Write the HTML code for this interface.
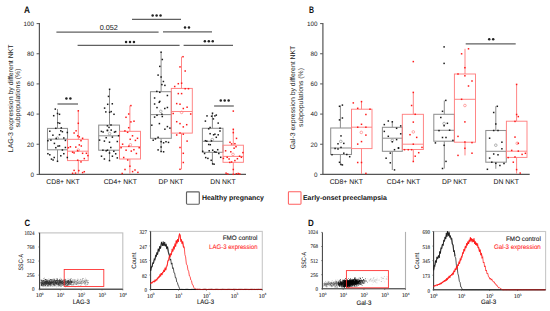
<!DOCTYPE html>
<html><head><meta charset="utf-8"><style>
html,body{margin:0;padding:0;background:#fff;}
svg{display:block;}
</style></head><body>
<svg width="550" height="311" viewBox="0 0 550 311" text-rendering="geometricPrecision">
<rect width="550" height="311" fill="#fff"/>
<text x="24" y="13.45" font-family="Liberation Sans" font-size="9.4" font-weight="bold" fill="#111" text-anchor="start" textLength="6.0" lengthAdjust="spacingAndGlyphs">A</text>
<line x1="39.4" y1="23.0" x2="39.4" y2="174.4" stroke="#555555" stroke-width="1.2"/>
<line x1="39.0" y1="174.4" x2="246" y2="174.4" stroke="#555555" stroke-width="1.3"/>
<line x1="36.6" y1="174.4" x2="39.4" y2="174.4" stroke="#555555" stroke-width="1.0"/>
<text x="34.0" y="176.70000000000002" font-family="Liberation Sans" font-size="6.3" font-weight="normal" fill="#1a1a1a" text-anchor="end" >0</text>
<line x1="36.6" y1="144.24" x2="39.4" y2="144.24" stroke="#555555" stroke-width="1.0"/>
<text x="34.0" y="146.54000000000002" font-family="Liberation Sans" font-size="6.3" font-weight="normal" fill="#1a1a1a" text-anchor="end" >20</text>
<line x1="36.6" y1="114.08000000000001" x2="39.4" y2="114.08000000000001" stroke="#555555" stroke-width="1.0"/>
<text x="34.0" y="116.38000000000001" font-family="Liberation Sans" font-size="6.3" font-weight="normal" fill="#1a1a1a" text-anchor="end" >40</text>
<line x1="36.6" y1="83.92" x2="39.4" y2="83.92" stroke="#555555" stroke-width="1.0"/>
<text x="34.0" y="86.22" font-family="Liberation Sans" font-size="6.3" font-weight="normal" fill="#1a1a1a" text-anchor="end" >60</text>
<line x1="36.6" y1="53.760000000000005" x2="39.4" y2="53.760000000000005" stroke="#555555" stroke-width="1.0"/>
<text x="34.0" y="56.06" font-family="Liberation Sans" font-size="6.3" font-weight="normal" fill="#1a1a1a" text-anchor="end" >80</text>
<line x1="36.6" y1="23.599999999999994" x2="39.4" y2="23.599999999999994" stroke="#555555" stroke-width="1.0"/>
<text x="34.0" y="25.899999999999995" font-family="Liberation Sans" font-size="6.3" font-weight="normal" fill="#1a1a1a" text-anchor="end" >100</text>
<text transform="translate(12.9,98.3) rotate(-90)" font-family="Liberation Sans" font-size="6.96" fill="#1a1a1a" text-anchor="middle">LAG-3 expression by different NKT</text>
<text transform="translate(20.4,98) rotate(-90)" font-family="Liberation Sans" font-size="6.9" fill="#1a1a1a" text-anchor="middle">subpopulations (%)</text>
<text x="63" y="184.3" font-family="Liberation Sans" font-size="6.85" font-weight="normal" fill="#111" text-anchor="middle" >CD8+ NKT</text>
<text x="120.3" y="184.3" font-family="Liberation Sans" font-size="6.85" font-weight="normal" fill="#111" text-anchor="middle" >CD4+ NKT</text>
<text x="171" y="184.3" font-family="Liberation Sans" font-size="6.85" font-weight="normal" fill="#111" text-anchor="middle" >DP NKT</text>
<text x="223" y="184.3" font-family="Liberation Sans" font-size="6.85" font-weight="normal" fill="#111" text-anchor="middle" >DN NKT</text>
<line x1="57.5" y1="109.1" x2="57.5" y2="128.4" stroke="#909090" stroke-width="1.05"/>
<line x1="57.5" y1="149.8" x2="57.5" y2="161.3" stroke="#909090" stroke-width="1.05"/>
<rect x="47.5" y="128.4" width="20.0" height="21.400000000000006" fill="none" stroke="#909090" stroke-width="1.05"/>
<line x1="47.5" y1="139.1" x2="67.5" y2="139.1" stroke="#909090" stroke-width="1.05"/>
<circle cx="57.4" cy="138.2" r="1.3" fill="none" stroke="#909090" stroke-width="0.7"/>
<line x1="78.3" y1="110.8" x2="78.3" y2="139.3" stroke="#ff8080" stroke-width="0.95"/>
<line x1="78.3" y1="160.6" x2="78.3" y2="174.2" stroke="#ff8080" stroke-width="0.95"/>
<rect x="67.5" y="139.3" width="20.700000000000003" height="21.299999999999983" fill="none" stroke="#ff8080" stroke-width="0.95"/>
<line x1="67.5" y1="151.2" x2="88.2" y2="151.2" stroke="#ff8080" stroke-width="0.95"/>
<circle cx="78.3" cy="150.1" r="1.3" fill="none" stroke="#ff8080" stroke-width="0.7"/>
<line x1="109.5" y1="89.3" x2="109.5" y2="125.1" stroke="#909090" stroke-width="1.05"/>
<line x1="109.5" y1="150.2" x2="109.5" y2="160.6" stroke="#909090" stroke-width="1.05"/>
<rect x="98.7" y="125.1" width="20.799999999999997" height="25.099999999999994" fill="none" stroke="#909090" stroke-width="1.05"/>
<line x1="98.7" y1="135.8" x2="119.5" y2="135.8" stroke="#909090" stroke-width="1.05"/>
<circle cx="109.6" cy="133.6" r="1.3" fill="none" stroke="#909090" stroke-width="0.7"/>
<line x1="129.9" y1="105.6" x2="129.9" y2="131.3" stroke="#ff8080" stroke-width="0.95"/>
<line x1="129.9" y1="159.0" x2="129.9" y2="173.8" stroke="#ff8080" stroke-width="0.95"/>
<rect x="119.5" y="131.3" width="21.0" height="27.69999999999999" fill="none" stroke="#ff8080" stroke-width="0.95"/>
<line x1="119.5" y1="146.7" x2="140.5" y2="146.7" stroke="#ff8080" stroke-width="0.95"/>
<circle cx="130.4" cy="144.8" r="1.3" fill="none" stroke="#ff8080" stroke-width="0.7"/>
<line x1="161.1" y1="52.2" x2="161.1" y2="91.7" stroke="#909090" stroke-width="1.05"/>
<line x1="161.1" y1="138.3" x2="161.1" y2="151.8" stroke="#909090" stroke-width="1.05"/>
<rect x="150.5" y="91.7" width="20.80000000000001" height="46.60000000000001" fill="none" stroke="#909090" stroke-width="1.05"/>
<line x1="150.5" y1="114.6" x2="171.3" y2="114.6" stroke="#909090" stroke-width="1.05"/>
<circle cx="160.8" cy="111.3" r="1.3" fill="none" stroke="#909090" stroke-width="0.7"/>
<line x1="181.5" y1="56.7" x2="181.5" y2="88.4" stroke="#ff8080" stroke-width="0.95"/>
<line x1="181.5" y1="133.1" x2="181.5" y2="169.3" stroke="#ff8080" stroke-width="0.95"/>
<rect x="171.3" y="88.4" width="21.0" height="44.69999999999999" fill="none" stroke="#ff8080" stroke-width="0.95"/>
<line x1="171.3" y1="111.5" x2="192.3" y2="111.5" stroke="#ff8080" stroke-width="0.95"/>
<circle cx="181.6" cy="112.4" r="1.3" fill="none" stroke="#ff8080" stroke-width="0.7"/>
<line x1="212.4" y1="113.2" x2="212.4" y2="128.3" stroke="#909090" stroke-width="1.05"/>
<line x1="212.4" y1="152.3" x2="212.4" y2="164.2" stroke="#909090" stroke-width="1.05"/>
<rect x="202.4" y="128.3" width="20.599999999999994" height="24.0" fill="none" stroke="#909090" stroke-width="1.05"/>
<line x1="202.4" y1="141.3" x2="223.0" y2="141.3" stroke="#909090" stroke-width="1.05"/>
<circle cx="212.3" cy="139.6" r="1.3" fill="none" stroke="#909090" stroke-width="0.7"/>
<line x1="233.3" y1="129.3" x2="233.3" y2="145.2" stroke="#ff8080" stroke-width="0.95"/>
<line x1="233.3" y1="162.3" x2="233.3" y2="174.2" stroke="#ff8080" stroke-width="0.95"/>
<rect x="223.0" y="145.2" width="20.400000000000006" height="17.100000000000023" fill="none" stroke="#ff8080" stroke-width="0.95"/>
<line x1="223.0" y1="156.4" x2="243.4" y2="156.4" stroke="#ff8080" stroke-width="0.95"/>
<circle cx="233.0" cy="154.4" r="1.3" fill="none" stroke="#ff8080" stroke-width="0.7"/>
<rect x="54.55" y="108.35" width="1.5" height="1.5" fill="#1a1a1a"/>
<rect x="56.75" y="112.75" width="1.5" height="1.5" fill="#1a1a1a"/>
<rect x="58.75" y="113.55" width="1.5" height="1.5" fill="#1a1a1a"/>
<rect x="52.95" y="114.95" width="1.5" height="1.5" fill="#1a1a1a"/>
<rect x="57.25" y="122.05" width="1.5" height="1.5" fill="#1a1a1a"/>
<rect x="58.95" y="122.55" width="1.5" height="1.5" fill="#1a1a1a"/>
<rect x="55.05" y="127.55" width="1.5" height="1.5" fill="#1a1a1a"/>
<rect x="60.55" y="127.15" width="1.5" height="1.5" fill="#1a1a1a"/>
<rect x="49.05" y="130.45" width="1.5" height="1.5" fill="#1a1a1a"/>
<rect x="60.05" y="130.05" width="1.5" height="1.5" fill="#1a1a1a"/>
<rect x="61.65" y="130.95" width="1.5" height="1.5" fill="#1a1a1a"/>
<rect x="66.55" y="131.75" width="1.5" height="1.5" fill="#1a1a1a"/>
<rect x="52.15" y="134.45" width="1.5" height="1.5" fill="#1a1a1a"/>
<rect x="58.75" y="133.95" width="1.5" height="1.5" fill="#1a1a1a"/>
<rect x="55.45" y="137.75" width="1.5" height="1.5" fill="#1a1a1a"/>
<rect x="63.05" y="137.25" width="1.5" height="1.5" fill="#1a1a1a"/>
<rect x="47.15" y="139.95" width="1.5" height="1.5" fill="#1a1a1a"/>
<rect x="50.15" y="139.35" width="1.5" height="1.5" fill="#1a1a1a"/>
<rect x="64.65" y="139.65" width="1.5" height="1.5" fill="#1a1a1a"/>
<rect x="53.65" y="142.65" width="1.5" height="1.5" fill="#1a1a1a"/>
<rect x="57.25" y="145.35" width="1.5" height="1.5" fill="#1a1a1a"/>
<rect x="58.75" y="145.15" width="1.5" height="1.5" fill="#1a1a1a"/>
<rect x="55.05" y="146.95" width="1.5" height="1.5" fill="#1a1a1a"/>
<rect x="64.65" y="146.75" width="1.5" height="1.5" fill="#1a1a1a"/>
<rect x="61.65" y="149.25" width="1.5" height="1.5" fill="#1a1a1a"/>
<rect x="47.15" y="152.95" width="1.5" height="1.5" fill="#1a1a1a"/>
<rect x="49.05" y="154.05" width="1.5" height="1.5" fill="#1a1a1a"/>
<rect x="63.05" y="152.95" width="1.5" height="1.5" fill="#1a1a1a"/>
<rect x="60.05" y="155.05" width="1.5" height="1.5" fill="#1a1a1a"/>
<rect x="66.55" y="156.75" width="1.5" height="1.5" fill="#1a1a1a"/>
<rect x="53.45" y="156.75" width="1.5" height="1.5" fill="#1a1a1a"/>
<rect x="50.75" y="158.35" width="1.5" height="1.5" fill="#1a1a1a"/>
<rect x="52.35" y="159.25" width="1.5" height="1.5" fill="#1a1a1a"/>
<rect x="56.75" y="160.55" width="1.5" height="1.5" fill="#1a1a1a"/>
<rect x="108.85" y="88.55" width="1.5" height="1.5" fill="#1a1a1a"/>
<rect x="107.75" y="95.65" width="1.5" height="1.5" fill="#1a1a1a"/>
<rect x="106.95" y="103.55" width="1.5" height="1.5" fill="#1a1a1a"/>
<rect x="111.55" y="103.05" width="1.5" height="1.5" fill="#1a1a1a"/>
<rect x="103.85" y="107.35" width="1.5" height="1.5" fill="#1a1a1a"/>
<rect x="105.05" y="111.15" width="1.5" height="1.5" fill="#1a1a1a"/>
<rect x="108.85" y="111.55" width="1.5" height="1.5" fill="#1a1a1a"/>
<rect x="110.45" y="110.85" width="1.5" height="1.5" fill="#1a1a1a"/>
<rect x="113.25" y="113.55" width="1.5" height="1.5" fill="#1a1a1a"/>
<rect x="106.65" y="125.05" width="1.5" height="1.5" fill="#1a1a1a"/>
<rect x="110.25" y="124.25" width="1.5" height="1.5" fill="#1a1a1a"/>
<rect x="108.25" y="126.65" width="1.5" height="1.5" fill="#1a1a1a"/>
<rect x="106.65" y="129.65" width="1.5" height="1.5" fill="#1a1a1a"/>
<rect x="110.45" y="129.35" width="1.5" height="1.5" fill="#1a1a1a"/>
<rect x="100.65" y="130.65" width="1.5" height="1.5" fill="#1a1a1a"/>
<rect x="102.35" y="131.25" width="1.5" height="1.5" fill="#1a1a1a"/>
<rect x="106.75" y="129.75" width="1.5" height="1.5" fill="#1a1a1a"/>
<rect x="113.75" y="131.35" width="1.5" height="1.5" fill="#1a1a1a"/>
<rect x="114.85" y="130.85" width="1.5" height="1.5" fill="#1a1a1a"/>
<rect x="105.45" y="136.95" width="1.5" height="1.5" fill="#1a1a1a"/>
<rect x="111.65" y="136.35" width="1.5" height="1.5" fill="#1a1a1a"/>
<rect x="117.85" y="134.95" width="1.5" height="1.5" fill="#1a1a1a"/>
<rect x="98.85" y="139.35" width="1.5" height="1.5" fill="#1a1a1a"/>
<rect x="103.65" y="140.35" width="1.5" height="1.5" fill="#1a1a1a"/>
<rect x="108.75" y="141.45" width="1.5" height="1.5" fill="#1a1a1a"/>
<rect x="116.55" y="140.75" width="1.5" height="1.5" fill="#1a1a1a"/>
<rect x="110.05" y="146.75" width="1.5" height="1.5" fill="#1a1a1a"/>
<rect x="102.15" y="149.45" width="1.5" height="1.5" fill="#1a1a1a"/>
<rect x="105.45" y="150.05" width="1.5" height="1.5" fill="#1a1a1a"/>
<rect x="106.75" y="149.45" width="1.5" height="1.5" fill="#1a1a1a"/>
<rect x="113.05" y="150.55" width="1.5" height="1.5" fill="#1a1a1a"/>
<rect x="108.75" y="152.25" width="1.5" height="1.5" fill="#1a1a1a"/>
<rect x="114.95" y="153.05" width="1.5" height="1.5" fill="#1a1a1a"/>
<rect x="100.75" y="155.45" width="1.5" height="1.5" fill="#1a1a1a"/>
<rect x="111.65" y="155.45" width="1.5" height="1.5" fill="#1a1a1a"/>
<rect x="116.55" y="157.15" width="1.5" height="1.5" fill="#1a1a1a"/>
<rect x="103.65" y="158.25" width="1.5" height="1.5" fill="#1a1a1a"/>
<rect x="108.75" y="159.85" width="1.5" height="1.5" fill="#1a1a1a"/>
<rect x="160.35" y="51.45" width="1.5" height="1.5" fill="#1a1a1a"/>
<rect x="161.55" y="58.75" width="1.5" height="1.5" fill="#1a1a1a"/>
<rect x="159.05" y="65.65" width="1.5" height="1.5" fill="#1a1a1a"/>
<rect x="157.35" y="74.35" width="1.5" height="1.5" fill="#1a1a1a"/>
<rect x="160.35" y="76.25" width="1.5" height="1.5" fill="#1a1a1a"/>
<rect x="162.65" y="80.75" width="1.5" height="1.5" fill="#1a1a1a"/>
<rect x="161.15" y="83.85" width="1.5" height="1.5" fill="#1a1a1a"/>
<rect x="164.15" y="84.65" width="1.5" height="1.5" fill="#1a1a1a"/>
<rect x="156.05" y="90.65" width="1.5" height="1.5" fill="#1a1a1a"/>
<rect x="159.05" y="91.55" width="1.5" height="1.5" fill="#1a1a1a"/>
<rect x="166.65" y="94.75" width="1.5" height="1.5" fill="#1a1a1a"/>
<rect x="153.85" y="97.25" width="1.5" height="1.5" fill="#1a1a1a"/>
<rect x="159.05" y="100.65" width="1.5" height="1.5" fill="#1a1a1a"/>
<rect x="153.85" y="103.25" width="1.5" height="1.5" fill="#1a1a1a"/>
<rect x="158.45" y="101.55" width="1.5" height="1.5" fill="#1a1a1a"/>
<rect x="156.25" y="106.85" width="1.5" height="1.5" fill="#1a1a1a"/>
<rect x="164.05" y="107.75" width="1.5" height="1.5" fill="#1a1a1a"/>
<rect x="166.65" y="106.75" width="1.5" height="1.5" fill="#1a1a1a"/>
<rect x="156.25" y="114.55" width="1.5" height="1.5" fill="#1a1a1a"/>
<rect x="153.85" y="116.35" width="1.5" height="1.5" fill="#1a1a1a"/>
<rect x="161.15" y="113.45" width="1.5" height="1.5" fill="#1a1a1a"/>
<rect x="161.55" y="115.75" width="1.5" height="1.5" fill="#1a1a1a"/>
<rect x="158.65" y="122.85" width="1.5" height="1.5" fill="#1a1a1a"/>
<rect x="151.05" y="124.45" width="1.5" height="1.5" fill="#1a1a1a"/>
<rect x="166.65" y="125.85" width="1.5" height="1.5" fill="#1a1a1a"/>
<rect x="164.15" y="128.45" width="1.5" height="1.5" fill="#1a1a1a"/>
<rect x="169.15" y="127.35" width="1.5" height="1.5" fill="#1a1a1a"/>
<rect x="152.45" y="139.45" width="1.5" height="1.5" fill="#1a1a1a"/>
<rect x="154.65" y="138.15" width="1.5" height="1.5" fill="#1a1a1a"/>
<rect x="157.35" y="136.55" width="1.5" height="1.5" fill="#1a1a1a"/>
<rect x="160.35" y="140.95" width="1.5" height="1.5" fill="#1a1a1a"/>
<rect x="162.85" y="142.05" width="1.5" height="1.5" fill="#1a1a1a"/>
<rect x="165.25" y="140.95" width="1.5" height="1.5" fill="#1a1a1a"/>
<rect x="167.75" y="141.65" width="1.5" height="1.5" fill="#1a1a1a"/>
<rect x="160.35" y="146.25" width="1.5" height="1.5" fill="#1a1a1a"/>
<rect x="157.35" y="149.15" width="1.5" height="1.5" fill="#1a1a1a"/>
<rect x="160.35" y="150.75" width="1.5" height="1.5" fill="#1a1a1a"/>
<rect x="162.85" y="151.05" width="1.5" height="1.5" fill="#1a1a1a"/>
<rect x="211.75" y="112.45" width="1.5" height="1.5" fill="#1a1a1a"/>
<rect x="206.25" y="115.15" width="1.5" height="1.5" fill="#1a1a1a"/>
<rect x="210.85" y="115.45" width="1.5" height="1.5" fill="#1a1a1a"/>
<rect x="214.15" y="115.15" width="1.5" height="1.5" fill="#1a1a1a"/>
<rect x="215.55" y="114.35" width="1.5" height="1.5" fill="#1a1a1a"/>
<rect x="212.65" y="118.15" width="1.5" height="1.5" fill="#1a1a1a"/>
<rect x="204.65" y="120.35" width="1.5" height="1.5" fill="#1a1a1a"/>
<rect x="217.45" y="122.35" width="1.5" height="1.5" fill="#1a1a1a"/>
<rect x="207.95" y="128.05" width="1.5" height="1.5" fill="#1a1a1a"/>
<rect x="209.35" y="126.75" width="1.5" height="1.5" fill="#1a1a1a"/>
<rect x="219.25" y="127.45" width="1.5" height="1.5" fill="#1a1a1a"/>
<rect x="219.25" y="130.25" width="1.5" height="1.5" fill="#1a1a1a"/>
<rect x="209.35" y="132.95" width="1.5" height="1.5" fill="#1a1a1a"/>
<rect x="212.85" y="134.05" width="1.5" height="1.5" fill="#1a1a1a"/>
<rect x="214.15" y="133.45" width="1.5" height="1.5" fill="#1a1a1a"/>
<rect x="217.45" y="134.05" width="1.5" height="1.5" fill="#1a1a1a"/>
<rect x="215.55" y="136.55" width="1.5" height="1.5" fill="#1a1a1a"/>
<rect x="204.65" y="139.95" width="1.5" height="1.5" fill="#1a1a1a"/>
<rect x="206.05" y="140.45" width="1.5" height="1.5" fill="#1a1a1a"/>
<rect x="210.65" y="140.15" width="1.5" height="1.5" fill="#1a1a1a"/>
<rect x="207.95" y="143.75" width="1.5" height="1.5" fill="#1a1a1a"/>
<rect x="209.55" y="143.95" width="1.5" height="1.5" fill="#1a1a1a"/>
<rect x="201.95" y="150.55" width="1.5" height="1.5" fill="#1a1a1a"/>
<rect x="203.85" y="152.75" width="1.5" height="1.5" fill="#1a1a1a"/>
<rect x="208.45" y="150.05" width="1.5" height="1.5" fill="#1a1a1a"/>
<rect x="211.95" y="149.45" width="1.5" height="1.5" fill="#1a1a1a"/>
<rect x="213.75" y="151.05" width="1.5" height="1.5" fill="#1a1a1a"/>
<rect x="215.25" y="151.45" width="1.5" height="1.5" fill="#1a1a1a"/>
<rect x="216.95" y="148.95" width="1.5" height="1.5" fill="#1a1a1a"/>
<rect x="218.05" y="152.75" width="1.5" height="1.5" fill="#1a1a1a"/>
<rect x="219.95" y="156.55" width="1.5" height="1.5" fill="#1a1a1a"/>
<rect x="204.95" y="156.85" width="1.5" height="1.5" fill="#1a1a1a"/>
<rect x="207.15" y="157.65" width="1.5" height="1.5" fill="#1a1a1a"/>
<rect x="210.45" y="159.55" width="1.5" height="1.5" fill="#1a1a1a"/>
<rect x="211.95" y="163.15" width="1.5" height="1.5" fill="#1a1a1a"/>
<rect x="213.35" y="163.45" width="1.5" height="1.5" fill="#1a1a1a"/>
<rect x="77.55" y="110.05" width="1.5" height="1.5" fill="#ff1a1a"/>
<rect x="77.55" y="122.55" width="1.5" height="1.5" fill="#ff1a1a"/>
<rect x="75.35" y="130.05" width="1.5" height="1.5" fill="#ff1a1a"/>
<rect x="73.35" y="132.25" width="1.5" height="1.5" fill="#ff1a1a"/>
<rect x="76.95" y="135.05" width="1.5" height="1.5" fill="#ff1a1a"/>
<rect x="78.55" y="136.15" width="1.5" height="1.5" fill="#ff1a1a"/>
<rect x="81.85" y="137.55" width="1.5" height="1.5" fill="#ff1a1a"/>
<rect x="80.25" y="139.95" width="1.5" height="1.5" fill="#ff1a1a"/>
<rect x="67.65" y="146.95" width="1.5" height="1.5" fill="#ff1a1a"/>
<rect x="69.65" y="146.05" width="1.5" height="1.5" fill="#ff1a1a"/>
<rect x="75.05" y="146.35" width="1.5" height="1.5" fill="#ff1a1a"/>
<rect x="78.55" y="144.15" width="1.5" height="1.5" fill="#ff1a1a"/>
<rect x="80.55" y="145.25" width="1.5" height="1.5" fill="#ff1a1a"/>
<rect x="76.95" y="149.95" width="1.5" height="1.5" fill="#ff1a1a"/>
<rect x="71.85" y="151.45" width="1.5" height="1.5" fill="#ff1a1a"/>
<rect x="73.35" y="152.15" width="1.5" height="1.5" fill="#ff1a1a"/>
<rect x="81.85" y="152.55" width="1.5" height="1.5" fill="#ff1a1a"/>
<rect x="85.65" y="152.55" width="1.5" height="1.5" fill="#ff1a1a"/>
<rect x="87.15" y="154.85" width="1.5" height="1.5" fill="#ff1a1a"/>
<rect x="83.55" y="157.85" width="1.5" height="1.5" fill="#ff1a1a"/>
<rect x="76.95" y="159.45" width="1.5" height="1.5" fill="#ff1a1a"/>
<rect x="80.25" y="161.15" width="1.5" height="1.5" fill="#ff1a1a"/>
<rect x="73.35" y="169.65" width="1.5" height="1.5" fill="#ff1a1a"/>
<rect x="78.05" y="169.85" width="1.5" height="1.5" fill="#ff1a1a"/>
<rect x="71.85" y="172.55" width="1.5" height="1.5" fill="#ff1a1a"/>
<rect x="74.75" y="172.35" width="1.5" height="1.5" fill="#ff1a1a"/>
<rect x="81.85" y="171.85" width="1.5" height="1.5" fill="#ff1a1a"/>
<rect x="83.55" y="170.95" width="1.5" height="1.5" fill="#ff1a1a"/>
<rect x="130.15" y="104.85" width="1.5" height="1.5" fill="#ff1a1a"/>
<rect x="127.95" y="113.25" width="1.5" height="1.5" fill="#ff1a1a"/>
<rect x="125.25" y="116.55" width="1.5" height="1.5" fill="#ff1a1a"/>
<rect x="130.15" y="121.15" width="1.5" height="1.5" fill="#ff1a1a"/>
<rect x="133.25" y="120.45" width="1.5" height="1.5" fill="#ff1a1a"/>
<rect x="127.95" y="126.95" width="1.5" height="1.5" fill="#ff1a1a"/>
<rect x="124.15" y="130.15" width="1.5" height="1.5" fill="#ff1a1a"/>
<rect x="126.85" y="131.55" width="1.5" height="1.5" fill="#ff1a1a"/>
<rect x="131.75" y="135.05" width="1.5" height="1.5" fill="#ff1a1a"/>
<rect x="136.75" y="137.55" width="1.5" height="1.5" fill="#ff1a1a"/>
<rect x="129.45" y="138.55" width="1.5" height="1.5" fill="#ff1a1a"/>
<rect x="134.65" y="139.65" width="1.5" height="1.5" fill="#ff1a1a"/>
<rect x="121.85" y="143.45" width="1.5" height="1.5" fill="#ff1a1a"/>
<rect x="128.05" y="145.45" width="1.5" height="1.5" fill="#ff1a1a"/>
<rect x="120.35" y="146.95" width="1.5" height="1.5" fill="#ff1a1a"/>
<rect x="138.45" y="146.95" width="1.5" height="1.5" fill="#ff1a1a"/>
<rect x="125.35" y="149.45" width="1.5" height="1.5" fill="#ff1a1a"/>
<rect x="130.55" y="150.35" width="1.5" height="1.5" fill="#ff1a1a"/>
<rect x="133.15" y="148.95" width="1.5" height="1.5" fill="#ff1a1a"/>
<rect x="135.65" y="152.75" width="1.5" height="1.5" fill="#ff1a1a"/>
<rect x="122.95" y="156.75" width="1.5" height="1.5" fill="#ff1a1a"/>
<rect x="126.95" y="159.25" width="1.5" height="1.5" fill="#ff1a1a"/>
<rect x="129.15" y="165.45" width="1.5" height="1.5" fill="#ff1a1a"/>
<rect x="124.25" y="168.75" width="1.5" height="1.5" fill="#ff1a1a"/>
<rect x="131.85" y="170.85" width="1.5" height="1.5" fill="#ff1a1a"/>
<rect x="134.25" y="169.25" width="1.5" height="1.5" fill="#ff1a1a"/>
<rect x="137.15" y="171.65" width="1.5" height="1.5" fill="#ff1a1a"/>
<rect x="121.45" y="172.75" width="1.5" height="1.5" fill="#ff1a1a"/>
<rect x="182.25" y="55.95" width="1.5" height="1.5" fill="#ff1a1a"/>
<rect x="179.25" y="66.15" width="1.5" height="1.5" fill="#ff1a1a"/>
<rect x="184.45" y="70.25" width="1.5" height="1.5" fill="#ff1a1a"/>
<rect x="177.55" y="82.95" width="1.5" height="1.5" fill="#ff1a1a"/>
<rect x="180.85" y="82.45" width="1.5" height="1.5" fill="#ff1a1a"/>
<rect x="173.95" y="85.75" width="1.5" height="1.5" fill="#ff1a1a"/>
<rect x="184.45" y="87.95" width="1.5" height="1.5" fill="#ff1a1a"/>
<rect x="187.75" y="87.95" width="1.5" height="1.5" fill="#ff1a1a"/>
<rect x="177.55" y="92.85" width="1.5" height="1.5" fill="#ff1a1a"/>
<rect x="180.85" y="92.85" width="1.5" height="1.5" fill="#ff1a1a"/>
<rect x="175.95" y="102.85" width="1.5" height="1.5" fill="#ff1a1a"/>
<rect x="179.25" y="103.45" width="1.5" height="1.5" fill="#ff1a1a"/>
<rect x="182.55" y="107.75" width="1.5" height="1.5" fill="#ff1a1a"/>
<rect x="186.35" y="106.45" width="1.5" height="1.5" fill="#ff1a1a"/>
<rect x="172.45" y="112.75" width="1.5" height="1.5" fill="#ff1a1a"/>
<rect x="189.95" y="113.25" width="1.5" height="1.5" fill="#ff1a1a"/>
<rect x="175.95" y="120.95" width="1.5" height="1.5" fill="#ff1a1a"/>
<rect x="179.25" y="122.85" width="1.5" height="1.5" fill="#ff1a1a"/>
<rect x="182.55" y="126.15" width="1.5" height="1.5" fill="#ff1a1a"/>
<rect x="185.95" y="123.95" width="1.5" height="1.5" fill="#ff1a1a"/>
<rect x="175.95" y="134.25" width="1.5" height="1.5" fill="#ff1a1a"/>
<rect x="179.25" y="132.25" width="1.5" height="1.5" fill="#ff1a1a"/>
<rect x="182.55" y="133.45" width="1.5" height="1.5" fill="#ff1a1a"/>
<rect x="186.35" y="140.35" width="1.5" height="1.5" fill="#ff1a1a"/>
<rect x="179.25" y="146.75" width="1.5" height="1.5" fill="#ff1a1a"/>
<rect x="182.55" y="152.55" width="1.5" height="1.5" fill="#ff1a1a"/>
<rect x="182.55" y="161.75" width="1.5" height="1.5" fill="#ff1a1a"/>
<rect x="179.25" y="168.55" width="1.5" height="1.5" fill="#ff1a1a"/>
<rect x="232.55" y="110.35" width="1.5" height="1.5" fill="#ff1a1a"/>
<rect x="232.55" y="128.55" width="1.5" height="1.5" fill="#ff1a1a"/>
<rect x="232.55" y="131.85" width="1.5" height="1.5" fill="#ff1a1a"/>
<rect x="235.75" y="137.65" width="1.5" height="1.5" fill="#ff1a1a"/>
<rect x="229.25" y="141.55" width="1.5" height="1.5" fill="#ff1a1a"/>
<rect x="230.85" y="143.15" width="1.5" height="1.5" fill="#ff1a1a"/>
<rect x="234.15" y="142.95" width="1.5" height="1.5" fill="#ff1a1a"/>
<rect x="235.25" y="145.95" width="1.5" height="1.5" fill="#ff1a1a"/>
<rect x="233.35" y="147.45" width="1.5" height="1.5" fill="#ff1a1a"/>
<rect x="224.85" y="150.05" width="1.5" height="1.5" fill="#ff1a1a"/>
<rect x="230.05" y="151.05" width="1.5" height="1.5" fill="#ff1a1a"/>
<rect x="242.15" y="151.85" width="1.5" height="1.5" fill="#ff1a1a"/>
<rect x="222.65" y="157.65" width="1.5" height="1.5" fill="#ff1a1a"/>
<rect x="226.45" y="156.55" width="1.5" height="1.5" fill="#ff1a1a"/>
<rect x="228.35" y="158.25" width="1.5" height="1.5" fill="#ff1a1a"/>
<rect x="236.65" y="157.95" width="1.5" height="1.5" fill="#ff1a1a"/>
<rect x="238.85" y="155.45" width="1.5" height="1.5" fill="#ff1a1a"/>
<rect x="240.65" y="156.55" width="1.5" height="1.5" fill="#ff1a1a"/>
<rect x="234.15" y="159.85" width="1.5" height="1.5" fill="#ff1a1a"/>
<rect x="229.05" y="161.65" width="1.5" height="1.5" fill="#ff1a1a"/>
<rect x="230.85" y="161.25" width="1.5" height="1.5" fill="#ff1a1a"/>
<rect x="232.55" y="168.75" width="1.5" height="1.5" fill="#ff1a1a"/>
<rect x="225.35" y="172.45" width="1.5" height="1.5" fill="#ff1a1a"/>
<rect x="227.05" y="173.25" width="1.5" height="1.5" fill="#ff1a1a"/>
<rect x="232.55" y="173.55" width="1.5" height="1.5" fill="#ff1a1a"/>
<rect x="235.55" y="173.05" width="1.5" height="1.5" fill="#ff1a1a"/>
<rect x="237.45" y="172.75" width="1.5" height="1.5" fill="#ff1a1a"/>
<rect x="239.05" y="173.25" width="1.5" height="1.5" fill="#ff1a1a"/>
<line x1="132" y1="19.4" x2="181" y2="19.4" stroke="#606060" stroke-width="1.25"/>
<circle cx="152.65" cy="15.4" r="1.25" fill="#222"/>
<circle cx="156.60" cy="15.4" r="1.25" fill="#222"/>
<circle cx="160.55" cy="15.4" r="1.25" fill="#222"/>
<line x1="56.4" y1="32.0" x2="158.6" y2="32.0" stroke="#606060" stroke-width="1.25"/>
<text x="108.8" y="29.9" font-family="Liberation Sans" font-size="7.3" font-weight="normal" fill="#1a1a1a" text-anchor="middle" >0.052</text>
<line x1="163" y1="31.8" x2="212" y2="31.8" stroke="#606060" stroke-width="1.25"/>
<circle cx="185.03" cy="27.6" r="1.25" fill="#222"/>
<circle cx="188.97" cy="27.6" r="1.25" fill="#222"/>
<line x1="77.6" y1="45.4" x2="179.6" y2="45.4" stroke="#606060" stroke-width="1.25"/>
<circle cx="126.05" cy="42.0" r="1.25" fill="#222"/>
<circle cx="130.00" cy="42.0" r="1.25" fill="#222"/>
<circle cx="133.95" cy="42.0" r="1.25" fill="#222"/>
<line x1="183.6" y1="45.4" x2="233" y2="45.4" stroke="#606060" stroke-width="1.25"/>
<circle cx="204.85" cy="41.2" r="1.25" fill="#222"/>
<circle cx="208.80" cy="41.2" r="1.25" fill="#222"/>
<circle cx="212.75" cy="41.2" r="1.25" fill="#222"/>
<line x1="57.5" y1="104.0" x2="78" y2="104.0" stroke="#606060" stroke-width="1.25"/>
<circle cx="66.43" cy="98.4" r="1.25" fill="#222"/>
<circle cx="70.38" cy="98.4" r="1.25" fill="#222"/>
<line x1="214.1" y1="106.0" x2="233.8" y2="106.0" stroke="#606060" stroke-width="1.25"/>
<circle cx="220.75" cy="100.4" r="1.25" fill="#222"/>
<circle cx="224.70" cy="100.4" r="1.25" fill="#222"/>
<circle cx="228.65" cy="100.4" r="1.25" fill="#222"/>
<text x="309" y="13.2" font-family="Liberation Sans" font-size="9.5" font-weight="bold" fill="#111" text-anchor="start" textLength="5.0" lengthAdjust="spacingAndGlyphs">B</text>
<line x1="322.9" y1="23.0" x2="322.9" y2="174.4" stroke="#555555" stroke-width="1.2"/>
<line x1="322.4" y1="174.4" x2="529.7" y2="174.4" stroke="#555555" stroke-width="1.3"/>
<line x1="320.1" y1="174.4" x2="322.9" y2="174.4" stroke="#555555" stroke-width="1.0"/>
<text x="317.6" y="176.70000000000002" font-family="Liberation Sans" font-size="6.3" font-weight="normal" fill="#1a1a1a" text-anchor="end" >0</text>
<line x1="320.1" y1="144.24" x2="322.9" y2="144.24" stroke="#555555" stroke-width="1.0"/>
<text x="317.6" y="146.54000000000002" font-family="Liberation Sans" font-size="6.3" font-weight="normal" fill="#1a1a1a" text-anchor="end" >20</text>
<line x1="320.1" y1="114.08000000000001" x2="322.9" y2="114.08000000000001" stroke="#555555" stroke-width="1.0"/>
<text x="317.6" y="116.38000000000001" font-family="Liberation Sans" font-size="6.3" font-weight="normal" fill="#1a1a1a" text-anchor="end" >40</text>
<line x1="320.1" y1="83.92" x2="322.9" y2="83.92" stroke="#555555" stroke-width="1.0"/>
<text x="317.6" y="86.22" font-family="Liberation Sans" font-size="6.3" font-weight="normal" fill="#1a1a1a" text-anchor="end" >60</text>
<line x1="320.1" y1="53.760000000000005" x2="322.9" y2="53.760000000000005" stroke="#555555" stroke-width="1.0"/>
<text x="317.6" y="56.06" font-family="Liberation Sans" font-size="6.3" font-weight="normal" fill="#1a1a1a" text-anchor="end" >80</text>
<line x1="320.1" y1="23.599999999999994" x2="322.9" y2="23.599999999999994" stroke="#555555" stroke-width="1.0"/>
<text x="317.6" y="25.899999999999995" font-family="Liberation Sans" font-size="6.3" font-weight="normal" fill="#1a1a1a" text-anchor="end" >100</text>
<text transform="translate(295.3,97.5) rotate(-90)" font-family="Liberation Sans" font-size="6.9" fill="#1a1a1a" text-anchor="middle">Gal-3 expression by different NKT</text>
<text transform="translate(303.4,97.5) rotate(-90)" font-family="Liberation Sans" font-size="6.9" fill="#1a1a1a" text-anchor="middle">subpopulations (%)</text>
<text x="346.3" y="184.3" font-family="Liberation Sans" font-size="6.85" font-weight="normal" fill="#111" text-anchor="middle" >CD8+ NKT</text>
<text x="403.5" y="184.3" font-family="Liberation Sans" font-size="6.85" font-weight="normal" fill="#111" text-anchor="middle" >CD4+ NKT</text>
<text x="454.5" y="184.3" font-family="Liberation Sans" font-size="6.85" font-weight="normal" fill="#111" text-anchor="middle" >DP NKT</text>
<text x="506.3" y="184.3" font-family="Liberation Sans" font-size="6.85" font-weight="normal" fill="#111" text-anchor="middle" >DN NKT</text>
<line x1="340.4" y1="105.4" x2="340.4" y2="128.0" stroke="#909090" stroke-width="1.05"/>
<line x1="340.4" y1="154.5" x2="340.4" y2="164.7" stroke="#909090" stroke-width="1.05"/>
<rect x="330.7" y="128.0" width="20.80000000000001" height="26.5" fill="none" stroke="#909090" stroke-width="1.05"/>
<line x1="330.7" y1="148.0" x2="351.5" y2="148.0" stroke="#909090" stroke-width="1.05"/>
<circle cx="340.8" cy="141.4" r="1.3" fill="none" stroke="#909090" stroke-width="0.7"/>
<line x1="361.5" y1="101.6" x2="361.5" y2="109.2" stroke="#ff8080" stroke-width="0.95"/>
<line x1="361.5" y1="148.6" x2="361.5" y2="174.0" stroke="#ff8080" stroke-width="0.95"/>
<rect x="351.5" y="109.2" width="20.5" height="39.39999999999999" fill="none" stroke="#ff8080" stroke-width="0.95"/>
<line x1="351.5" y1="127.2" x2="372.0" y2="127.2" stroke="#ff8080" stroke-width="0.95"/>
<circle cx="361.3" cy="132.4" r="1.3" fill="none" stroke="#ff8080" stroke-width="0.7"/>
<line x1="392.3" y1="122.0" x2="392.3" y2="127.3" stroke="#909090" stroke-width="1.05"/>
<line x1="392.3" y1="151.3" x2="392.3" y2="169.9" stroke="#909090" stroke-width="1.05"/>
<rect x="382.4" y="127.3" width="19.900000000000034" height="24.000000000000014" fill="none" stroke="#909090" stroke-width="1.05"/>
<line x1="382.4" y1="138.2" x2="402.3" y2="138.2" stroke="#909090" stroke-width="1.05"/>
<circle cx="392.3" cy="140.4" r="1.3" fill="none" stroke="#909090" stroke-width="0.7"/>
<line x1="413.3" y1="92.4" x2="413.3" y2="114.3" stroke="#ff8080" stroke-width="0.95"/>
<line x1="413.3" y1="149.5" x2="413.3" y2="161.5" stroke="#ff8080" stroke-width="0.95"/>
<rect x="402.3" y="114.3" width="21.099999999999966" height="35.2" fill="none" stroke="#ff8080" stroke-width="0.95"/>
<line x1="402.3" y1="144.2" x2="423.4" y2="144.2" stroke="#ff8080" stroke-width="0.95"/>
<circle cx="413.3" cy="131.9" r="1.3" fill="none" stroke="#ff8080" stroke-width="0.7"/>
<line x1="444.3" y1="100.4" x2="444.3" y2="114.3" stroke="#909090" stroke-width="1.05"/>
<line x1="444.3" y1="141.2" x2="444.3" y2="168.5" stroke="#909090" stroke-width="1.05"/>
<rect x="433.8" y="114.3" width="20.599999999999966" height="26.89999999999999" fill="none" stroke="#909090" stroke-width="1.05"/>
<line x1="433.8" y1="130.3" x2="454.4" y2="130.3" stroke="#909090" stroke-width="1.05"/>
<circle cx="444.1" cy="123.5" r="1.3" fill="none" stroke="#909090" stroke-width="0.7"/>
<line x1="465.0" y1="48.8" x2="465.0" y2="74.0" stroke="#ff8080" stroke-width="0.95"/>
<line x1="465.0" y1="142.2" x2="465.0" y2="155.4" stroke="#ff8080" stroke-width="0.95"/>
<rect x="454.4" y="74.0" width="21.100000000000023" height="68.19999999999999" fill="none" stroke="#ff8080" stroke-width="0.95"/>
<line x1="454.4" y1="99.3" x2="475.5" y2="99.3" stroke="#ff8080" stroke-width="0.95"/>
<circle cx="464.9" cy="105.5" r="1.3" fill="none" stroke="#ff8080" stroke-width="0.7"/>
<line x1="495.8" y1="106.3" x2="495.8" y2="130.5" stroke="#909090" stroke-width="1.05"/>
<line x1="495.8" y1="162.2" x2="495.8" y2="168.8" stroke="#909090" stroke-width="1.05"/>
<rect x="485.8" y="130.5" width="20.5" height="31.69999999999999" fill="none" stroke="#909090" stroke-width="1.05"/>
<line x1="485.8" y1="151.3" x2="506.3" y2="151.3" stroke="#909090" stroke-width="1.05"/>
<circle cx="495.8" cy="145.2" r="1.3" fill="none" stroke="#909090" stroke-width="0.7"/>
<line x1="516.6" y1="84.4" x2="516.6" y2="121.2" stroke="#ff8080" stroke-width="0.95"/>
<line x1="516.6" y1="157.4" x2="516.6" y2="173.7" stroke="#ff8080" stroke-width="0.95"/>
<rect x="506.4" y="121.2" width="20.600000000000023" height="36.2" fill="none" stroke="#ff8080" stroke-width="0.95"/>
<line x1="506.4" y1="151.2" x2="527.0" y2="151.2" stroke="#ff8080" stroke-width="0.95"/>
<circle cx="517.2" cy="143.3" r="1.3" fill="none" stroke="#ff8080" stroke-width="0.7"/>
<rect x="338.75" y="105.55" width="1.5" height="1.5" fill="#1a1a1a"/>
<rect x="341.65" y="104.35" width="1.5" height="1.5" fill="#1a1a1a"/>
<rect x="338.75" y="119.15" width="1.5" height="1.5" fill="#1a1a1a"/>
<rect x="341.65" y="117.25" width="1.5" height="1.5" fill="#1a1a1a"/>
<rect x="340.25" y="135.15" width="1.5" height="1.5" fill="#1a1a1a"/>
<rect x="337.25" y="143.05" width="1.5" height="1.5" fill="#1a1a1a"/>
<rect x="343.05" y="142.65" width="1.5" height="1.5" fill="#1a1a1a"/>
<rect x="334.35" y="147.75" width="1.5" height="1.5" fill="#1a1a1a"/>
<rect x="337.25" y="148.25" width="1.5" height="1.5" fill="#1a1a1a"/>
<rect x="340.25" y="146.65" width="1.5" height="1.5" fill="#1a1a1a"/>
<rect x="331.25" y="153.95" width="1.5" height="1.5" fill="#1a1a1a"/>
<rect x="343.05" y="152.45" width="1.5" height="1.5" fill="#1a1a1a"/>
<rect x="346.05" y="153.75" width="1.5" height="1.5" fill="#1a1a1a"/>
<rect x="348.95" y="155.95" width="1.5" height="1.5" fill="#1a1a1a"/>
<rect x="338.75" y="161.55" width="1.5" height="1.5" fill="#1a1a1a"/>
<rect x="340.25" y="163.75" width="1.5" height="1.5" fill="#1a1a1a"/>
<rect x="341.65" y="164.15" width="1.5" height="1.5" fill="#1a1a1a"/>
<rect x="383.55" y="123.85" width="1.5" height="1.5" fill="#1a1a1a"/>
<rect x="387.55" y="120.25" width="1.5" height="1.5" fill="#1a1a1a"/>
<rect x="391.55" y="121.05" width="1.5" height="1.5" fill="#1a1a1a"/>
<rect x="399.95" y="125.15" width="1.5" height="1.5" fill="#1a1a1a"/>
<rect x="395.85" y="127.55" width="1.5" height="1.5" fill="#1a1a1a"/>
<rect x="383.55" y="130.65" width="1.5" height="1.5" fill="#1a1a1a"/>
<rect x="399.95" y="133.05" width="1.5" height="1.5" fill="#1a1a1a"/>
<rect x="387.55" y="135.55" width="1.5" height="1.5" fill="#1a1a1a"/>
<rect x="391.55" y="141.05" width="1.5" height="1.5" fill="#1a1a1a"/>
<rect x="395.85" y="138.85" width="1.5" height="1.5" fill="#1a1a1a"/>
<rect x="397.75" y="147.05" width="1.5" height="1.5" fill="#1a1a1a"/>
<rect x="393.75" y="148.95" width="1.5" height="1.5" fill="#1a1a1a"/>
<rect x="397.75" y="147.55" width="1.5" height="1.5" fill="#1a1a1a"/>
<rect x="389.55" y="152.35" width="1.5" height="1.5" fill="#1a1a1a"/>
<rect x="385.35" y="157.45" width="1.5" height="1.5" fill="#1a1a1a"/>
<rect x="389.55" y="162.05" width="1.5" height="1.5" fill="#1a1a1a"/>
<rect x="393.75" y="169.15" width="1.5" height="1.5" fill="#1a1a1a"/>
<rect x="443.35" y="46.15" width="1.5" height="1.5" fill="#1a1a1a"/>
<rect x="443.35" y="62.65" width="1.5" height="1.5" fill="#1a1a1a"/>
<rect x="445.05" y="99.65" width="1.5" height="1.5" fill="#1a1a1a"/>
<rect x="441.75" y="110.55" width="1.5" height="1.5" fill="#1a1a1a"/>
<rect x="440.05" y="116.75" width="1.5" height="1.5" fill="#1a1a1a"/>
<rect x="446.65" y="122.55" width="1.5" height="1.5" fill="#1a1a1a"/>
<rect x="443.35" y="124.95" width="1.5" height="1.5" fill="#1a1a1a"/>
<rect x="438.25" y="129.85" width="1.5" height="1.5" fill="#1a1a1a"/>
<rect x="448.85" y="129.45" width="1.5" height="1.5" fill="#1a1a1a"/>
<rect x="441.75" y="136.75" width="1.5" height="1.5" fill="#1a1a1a"/>
<rect x="445.25" y="136.75" width="1.5" height="1.5" fill="#1a1a1a"/>
<rect x="434.65" y="142.15" width="1.5" height="1.5" fill="#1a1a1a"/>
<rect x="452.15" y="139.65" width="1.5" height="1.5" fill="#1a1a1a"/>
<rect x="443.35" y="144.55" width="1.5" height="1.5" fill="#1a1a1a"/>
<rect x="445.25" y="160.65" width="1.5" height="1.5" fill="#1a1a1a"/>
<rect x="441.75" y="167.75" width="1.5" height="1.5" fill="#1a1a1a"/>
<rect x="496.55" y="105.55" width="1.5" height="1.5" fill="#1a1a1a"/>
<rect x="492.95" y="111.75" width="1.5" height="1.5" fill="#1a1a1a"/>
<rect x="495.05" y="123.25" width="1.5" height="1.5" fill="#1a1a1a"/>
<rect x="492.95" y="129.75" width="1.5" height="1.5" fill="#1a1a1a"/>
<rect x="497.25" y="129.75" width="1.5" height="1.5" fill="#1a1a1a"/>
<rect x="488.85" y="137.45" width="1.5" height="1.5" fill="#1a1a1a"/>
<rect x="501.15" y="141.45" width="1.5" height="1.5" fill="#1a1a1a"/>
<rect x="501.15" y="148.05" width="1.5" height="1.5" fill="#1a1a1a"/>
<rect x="492.95" y="153.25" width="1.5" height="1.5" fill="#1a1a1a"/>
<rect x="497.25" y="154.05" width="1.5" height="1.5" fill="#1a1a1a"/>
<rect x="488.85" y="157.35" width="1.5" height="1.5" fill="#1a1a1a"/>
<rect x="491.05" y="161.45" width="1.5" height="1.5" fill="#1a1a1a"/>
<rect x="495.05" y="162.55" width="1.5" height="1.5" fill="#1a1a1a"/>
<rect x="499.15" y="164.75" width="1.5" height="1.5" fill="#1a1a1a"/>
<rect x="503.25" y="162.75" width="1.5" height="1.5" fill="#1a1a1a"/>
<rect x="486.65" y="168.55" width="1.5" height="1.5" fill="#1a1a1a"/>
<rect x="352.55" y="102.15" width="1.5" height="1.5" fill="#ff1a1a"/>
<rect x="360.75" y="100.85" width="1.5" height="1.5" fill="#ff1a1a"/>
<rect x="356.95" y="107.55" width="1.5" height="1.5" fill="#ff1a1a"/>
<rect x="369.25" y="108.45" width="1.5" height="1.5" fill="#ff1a1a"/>
<rect x="365.15" y="113.75" width="1.5" height="1.5" fill="#ff1a1a"/>
<rect x="360.75" y="123.55" width="1.5" height="1.5" fill="#ff1a1a"/>
<rect x="356.95" y="126.45" width="1.5" height="1.5" fill="#ff1a1a"/>
<rect x="365.15" y="126.45" width="1.5" height="1.5" fill="#ff1a1a"/>
<rect x="365.15" y="134.35" width="1.5" height="1.5" fill="#ff1a1a"/>
<rect x="360.75" y="140.85" width="1.5" height="1.5" fill="#ff1a1a"/>
<rect x="356.95" y="143.35" width="1.5" height="1.5" fill="#ff1a1a"/>
<rect x="356.95" y="161.75" width="1.5" height="1.5" fill="#ff1a1a"/>
<rect x="360.75" y="161.75" width="1.5" height="1.5" fill="#ff1a1a"/>
<rect x="365.15" y="172.65" width="1.5" height="1.5" fill="#ff1a1a"/>
<rect x="412.55" y="60.85" width="1.5" height="1.5" fill="#ff1a1a"/>
<rect x="412.55" y="91.65" width="1.5" height="1.5" fill="#ff1a1a"/>
<rect x="410.85" y="104.75" width="1.5" height="1.5" fill="#ff1a1a"/>
<rect x="414.45" y="113.55" width="1.5" height="1.5" fill="#ff1a1a"/>
<rect x="412.55" y="121.35" width="1.5" height="1.5" fill="#ff1a1a"/>
<rect x="409.25" y="133.95" width="1.5" height="1.5" fill="#ff1a1a"/>
<rect x="415.95" y="136.65" width="1.5" height="1.5" fill="#ff1a1a"/>
<rect x="412.55" y="143.45" width="1.5" height="1.5" fill="#ff1a1a"/>
<rect x="421.25" y="146.65" width="1.5" height="1.5" fill="#ff1a1a"/>
<rect x="403.75" y="148.95" width="1.5" height="1.5" fill="#ff1a1a"/>
<rect x="407.55" y="148.95" width="1.5" height="1.5" fill="#ff1a1a"/>
<rect x="410.85" y="148.95" width="1.5" height="1.5" fill="#ff1a1a"/>
<rect x="417.95" y="151.95" width="1.5" height="1.5" fill="#ff1a1a"/>
<rect x="414.45" y="155.45" width="1.5" height="1.5" fill="#ff1a1a"/>
<rect x="412.55" y="160.75" width="1.5" height="1.5" fill="#ff1a1a"/>
<rect x="467.75" y="48.05" width="1.5" height="1.5" fill="#ff1a1a"/>
<rect x="460.85" y="53.05" width="1.5" height="1.5" fill="#ff1a1a"/>
<rect x="464.15" y="66.95" width="1.5" height="1.5" fill="#ff1a1a"/>
<rect x="457.25" y="73.25" width="1.5" height="1.5" fill="#ff1a1a"/>
<rect x="464.15" y="75.05" width="1.5" height="1.5" fill="#ff1a1a"/>
<rect x="471.25" y="80.25" width="1.5" height="1.5" fill="#ff1a1a"/>
<rect x="467.75" y="85.25" width="1.5" height="1.5" fill="#ff1a1a"/>
<rect x="460.85" y="98.55" width="1.5" height="1.5" fill="#ff1a1a"/>
<rect x="464.15" y="121.15" width="1.5" height="1.5" fill="#ff1a1a"/>
<rect x="457.25" y="135.65" width="1.5" height="1.5" fill="#ff1a1a"/>
<rect x="464.15" y="141.25" width="1.5" height="1.5" fill="#ff1a1a"/>
<rect x="471.25" y="141.85" width="1.5" height="1.5" fill="#ff1a1a"/>
<rect x="464.15" y="147.55" width="1.5" height="1.5" fill="#ff1a1a"/>
<rect x="457.25" y="154.65" width="1.5" height="1.5" fill="#ff1a1a"/>
<rect x="471.25" y="152.45" width="1.5" height="1.5" fill="#ff1a1a"/>
<rect x="515.85" y="83.65" width="1.5" height="1.5" fill="#ff1a1a"/>
<rect x="515.85" y="113.75" width="1.5" height="1.5" fill="#ff1a1a"/>
<rect x="517.55" y="115.85" width="1.5" height="1.5" fill="#ff1a1a"/>
<rect x="514.25" y="120.65" width="1.5" height="1.5" fill="#ff1a1a"/>
<rect x="514.25" y="136.35" width="1.5" height="1.5" fill="#ff1a1a"/>
<rect x="517.55" y="142.55" width="1.5" height="1.5" fill="#ff1a1a"/>
<rect x="510.95" y="149.65" width="1.5" height="1.5" fill="#ff1a1a"/>
<rect x="517.55" y="150.35" width="1.5" height="1.5" fill="#ff1a1a"/>
<rect x="521.35" y="153.65" width="1.5" height="1.5" fill="#ff1a1a"/>
<rect x="524.65" y="152.55" width="1.5" height="1.5" fill="#ff1a1a"/>
<rect x="507.45" y="156.85" width="1.5" height="1.5" fill="#ff1a1a"/>
<rect x="514.25" y="156.25" width="1.5" height="1.5" fill="#ff1a1a"/>
<rect x="512.55" y="161.45" width="1.5" height="1.5" fill="#ff1a1a"/>
<rect x="515.85" y="168.85" width="1.5" height="1.5" fill="#ff1a1a"/>
<rect x="519.45" y="172.35" width="1.5" height="1.5" fill="#ff1a1a"/>
<line x1="465.7" y1="43.8" x2="515.7" y2="43.8" stroke="#606060" stroke-width="1.25"/>
<circle cx="489.22" cy="39.3" r="1.25" fill="#222"/>
<circle cx="493.18" cy="39.3" r="1.25" fill="#222"/>
<rect x="186.5" y="191.8" width="12.8" height="12.4" rx="0.9" fill="none" stroke="#606060" stroke-width="1.15"/>
<text x="202" y="200.2" font-family="Liberation Sans" font-size="6.93" font-weight="bold" fill="#111" text-anchor="start" >Healthy pregnancy</text>
<rect x="288.4" y="191.8" width="12.6" height="12.4" rx="0.6" fill="none" stroke="#ff6060" stroke-width="1.05"/>
<text x="303" y="200.2" font-family="Liberation Sans" font-size="6.93" font-weight="bold" fill="#111" text-anchor="start" >Early-onset preeclampsia</text>
<text x="24.4" y="226.0" font-family="Liberation Sans" font-size="9.2" font-weight="bold" fill="#111" text-anchor="start" textLength="5.6" lengthAdjust="spacingAndGlyphs">C</text>
<rect x="39.6" y="232.9" width="83.19999999999999" height="56.29999999999998" fill="none" stroke="#c0c0c0" stroke-width="1.1"/>
<line x1="39.6" y1="232.9" x2="39.6" y2="289.2" stroke="#222" stroke-width="0.9"/>
<line x1="39.6" y1="289.2" x2="122.8" y2="289.2" stroke="#222" stroke-width="1.0"/>
<line x1="38.4" y1="289.2" x2="39.6" y2="289.2" stroke="#444" stroke-width="0.6"/>
<text x="34.4" y="291.09999999999997" font-family="Liberation Serif" font-size="5.8" font-weight="normal" fill="#222" text-anchor="end" textLength="2.5" lengthAdjust="spacingAndGlyphs" stroke="#222" stroke-width="0.08">0</text>
<line x1="38.4" y1="275.125" x2="39.6" y2="275.125" stroke="#444" stroke-width="0.6"/>
<text x="34.4" y="277.025" font-family="Liberation Serif" font-size="5.8" font-weight="normal" fill="#222" text-anchor="end" textLength="7.5" lengthAdjust="spacingAndGlyphs" stroke="#222" stroke-width="0.08">256</text>
<line x1="38.4" y1="261.05" x2="39.6" y2="261.05" stroke="#444" stroke-width="0.6"/>
<text x="34.4" y="262.95" font-family="Liberation Serif" font-size="5.8" font-weight="normal" fill="#222" text-anchor="end" textLength="7.5" lengthAdjust="spacingAndGlyphs" stroke="#222" stroke-width="0.08">512</text>
<line x1="38.4" y1="246.975" x2="39.6" y2="246.975" stroke="#444" stroke-width="0.6"/>
<text x="34.4" y="248.875" font-family="Liberation Serif" font-size="5.8" font-weight="normal" fill="#222" text-anchor="end" textLength="7.5" lengthAdjust="spacingAndGlyphs" stroke="#222" stroke-width="0.08">768</text>
<line x1="38.4" y1="232.9" x2="39.6" y2="232.9" stroke="#444" stroke-width="0.6"/>
<text x="34.4" y="234.8" font-family="Liberation Serif" font-size="5.8" font-weight="normal" fill="#222" text-anchor="end" textLength="10.0" lengthAdjust="spacingAndGlyphs" stroke="#222" stroke-width="0.08">1024</text>
<line x1="39.6" y1="289.2" x2="39.6" y2="290.4" stroke="#444" stroke-width="0.6"/>
<text x="39.800000000000004" y="297.2" font-family="Liberation Serif" font-size="5.8" fill="#222" stroke="#222" stroke-width="0.08" text-anchor="middle">10<tspan font-size="3.4" dy="-2.2">0</tspan></text>
<line x1="60.4" y1="289.2" x2="60.4" y2="290.4" stroke="#444" stroke-width="0.6"/>
<text x="60.6" y="297.2" font-family="Liberation Serif" font-size="5.8" fill="#222" stroke="#222" stroke-width="0.08" text-anchor="middle">10<tspan font-size="3.4" dy="-2.2">1</tspan></text>
<line x1="81.19999999999999" y1="289.2" x2="81.19999999999999" y2="290.4" stroke="#444" stroke-width="0.6"/>
<text x="81.39999999999999" y="297.2" font-family="Liberation Serif" font-size="5.8" fill="#222" stroke="#222" stroke-width="0.08" text-anchor="middle">10<tspan font-size="3.4" dy="-2.2">2</tspan></text>
<line x1="102.0" y1="289.2" x2="102.0" y2="290.4" stroke="#444" stroke-width="0.6"/>
<text x="102.2" y="297.2" font-family="Liberation Serif" font-size="5.8" fill="#222" stroke="#222" stroke-width="0.08" text-anchor="middle">10<tspan font-size="3.4" dy="-2.2">3</tspan></text>
<line x1="122.79999999999998" y1="289.2" x2="122.79999999999998" y2="290.4" stroke="#444" stroke-width="0.6"/>
<text x="122.99999999999999" y="297.2" font-family="Liberation Serif" font-size="5.8" fill="#222" stroke="#222" stroke-width="0.08" text-anchor="middle">10<tspan font-size="3.4" dy="-2.2">4</tspan></text>
<text transform="translate(23.1,262.25) rotate(-90)" font-family="Liberation Sans" font-size="6.4" fill="#222" stroke="#222" stroke-width="0.05" text-anchor="middle" textLength="16.5" lengthAdjust="spacingAndGlyphs">SSC-A</text>
<text x="81.2" y="304.0" font-family="Liberation Sans" font-size="6.4" font-weight="normal" fill="#222" text-anchor="middle" textLength="17.0" lengthAdjust="spacingAndGlyphs" stroke="#222" stroke-width="0.12">LAG-3</text>
<path d="M52.9 279.9h.8v.8h-.8zM86.3 280.4h.8v.8h-.8zM65.5 281.5h.8v.8h-.8zM87.8 283.0h.8v.8h-.8zM40.5 281.1h.8v.8h-.8zM62.8 283.7h.8v.8h-.8zM43.2 282.6h.8v.8h-.8zM57.7 284.8h.8v.8h-.8zM45.1 280.7h.8v.8h-.8zM49.2 283.8h.8v.8h-.8zM49.3 283.4h.8v.8h-.8zM56.6 279.3h.8v.8h-.8zM62.6 281.8h.8v.8h-.8zM49.8 285.8h.8v.8h-.8zM43.4 284.1h.8v.8h-.8zM60.0 283.6h.8v.8h-.8zM79.6 281.0h.8v.8h-.8zM58.8 280.9h.8v.8h-.8zM53.6 279.5h.8v.8h-.8zM41.9 282.9h.8v.8h-.8zM53.0 278.8h.8v.8h-.8zM77.1 280.2h.8v.8h-.8zM79.9 282.3h.8v.8h-.8zM77.5 279.4h.8v.8h-.8zM63.6 283.1h.8v.8h-.8zM83.4 280.8h.8v.8h-.8zM60.5 280.1h.8v.8h-.8zM41.8 282.6h.8v.8h-.8zM84.5 282.7h.8v.8h-.8zM75.1 282.6h.8v.8h-.8zM53.9 283.8h.8v.8h-.8zM75.8 281.8h.8v.8h-.8zM76.0 279.9h.8v.8h-.8zM41.5 280.2h.8v.8h-.8zM70.7 282.0h.8v.8h-.8zM76.0 284.1h.8v.8h-.8zM48.7 282.1h.8v.8h-.8zM54.6 281.3h.8v.8h-.8zM76.7 281.5h.8v.8h-.8zM48.2 281.8h.8v.8h-.8zM57.3 281.9h.8v.8h-.8zM77.6 281.0h.8v.8h-.8zM44.3 278.9h.8v.8h-.8zM47.6 282.7h.8v.8h-.8zM45.3 280.4h.8v.8h-.8zM49.0 281.2h.8v.8h-.8zM60.7 284.7h.8v.8h-.8zM42.4 283.3h.8v.8h-.8zM51.6 283.7h.8v.8h-.8zM65.0 281.4h.8v.8h-.8zM70.3 279.0h.8v.8h-.8zM87.6 282.6h.8v.8h-.8zM77.6 280.5h.8v.8h-.8zM45.5 282.5h.8v.8h-.8zM60.4 282.7h.8v.8h-.8zM65.3 281.6h.8v.8h-.8zM86.9 280.6h.8v.8h-.8zM83.1 281.9h.8v.8h-.8zM45.6 282.0h.8v.8h-.8zM59.0 281.7h.8v.8h-.8zM79.8 279.2h.8v.8h-.8zM64.2 282.7h.8v.8h-.8zM40.5 279.5h.8v.8h-.8zM43.4 282.1h.8v.8h-.8zM77.9 283.4h.8v.8h-.8zM73.6 283.8h.8v.8h-.8zM44.9 283.8h.8v.8h-.8zM74.5 281.7h.8v.8h-.8zM79.9 283.5h.8v.8h-.8zM60.2 282.8h.8v.8h-.8zM60.9 283.1h.8v.8h-.8zM61.2 282.7h.8v.8h-.8zM42.9 284.7h.8v.8h-.8zM81.5 279.1h.8v.8h-.8zM82.3 279.2h.8v.8h-.8zM73.1 280.5h.8v.8h-.8zM47.6 282.2h.8v.8h-.8zM47.3 281.2h.8v.8h-.8zM79.7 279.4h.8v.8h-.8zM48.2 282.5h.8v.8h-.8zM78.6 283.0h.8v.8h-.8zM48.2 281.3h.8v.8h-.8zM67.3 281.8h.8v.8h-.8zM51.3 281.6h.8v.8h-.8zM59.3 280.7h.8v.8h-.8zM41.4 282.5h.8v.8h-.8zM49.9 282.0h.8v.8h-.8zM55.8 281.0h.8v.8h-.8zM46.3 281.4h.8v.8h-.8zM54.3 283.6h.8v.8h-.8zM42.3 280.3h.8v.8h-.8zM51.0 280.5h.8v.8h-.8zM47.2 282.8h.8v.8h-.8zM68.0 279.7h.8v.8h-.8zM75.1 281.8h.8v.8h-.8zM54.8 280.8h.8v.8h-.8zM79.6 280.6h.8v.8h-.8zM41.5 280.3h.8v.8h-.8zM83.1 281.8h.8v.8h-.8zM67.0 281.6h.8v.8h-.8zM48.8 284.1h.8v.8h-.8zM77.7 278.7h.8v.8h-.8zM55.5 283.8h.8v.8h-.8zM75.3 283.2h.8v.8h-.8zM47.2 281.4h.8v.8h-.8zM50.7 282.3h.8v.8h-.8zM41.8 285.9h.8v.8h-.8zM45.2 281.6h.8v.8h-.8zM54.4 283.5h.8v.8h-.8zM78.3 283.0h.8v.8h-.8zM83.7 280.0h.8v.8h-.8zM81.3 283.4h.8v.8h-.8zM46.5 286.2h.8v.8h-.8zM71.7 285.0h.8v.8h-.8zM68.3 281.6h.8v.8h-.8zM42.4 279.5h.8v.8h-.8zM73.9 282.3h.8v.8h-.8zM86.0 281.6h.8v.8h-.8zM42.4 279.5h.8v.8h-.8zM50.9 283.5h.8v.8h-.8zM75.1 282.0h.8v.8h-.8zM87.5 281.6h.8v.8h-.8zM80.7 282.2h.8v.8h-.8zM49.7 281.9h.8v.8h-.8zM43.9 282.9h.8v.8h-.8zM54.5 280.7h.8v.8h-.8zM87.0 284.4h.8v.8h-.8zM42.4 281.3h.8v.8h-.8zM76.3 280.1h.8v.8h-.8zM85.7 284.2h.8v.8h-.8zM78.4 283.3h.8v.8h-.8zM42.3 286.0h.8v.8h-.8zM75.3 283.7h.8v.8h-.8zM51.4 282.0h.8v.8h-.8zM72.2 280.5h.8v.8h-.8zM41.1 281.2h.8v.8h-.8zM41.6 283.8h.8v.8h-.8zM68.0 283.0h.8v.8h-.8zM74.5 280.2h.8v.8h-.8zM46.8 285.5h.8v.8h-.8zM67.4 281.8h.8v.8h-.8zM73.9 280.3h.8v.8h-.8zM76.5 280.6h.8v.8h-.8zM80.3 281.5h.8v.8h-.8zM65.8 281.7h.8v.8h-.8zM78.9 280.6h.8v.8h-.8zM84.8 281.0h.8v.8h-.8zM58.8 279.2h.8v.8h-.8zM72.7 282.5h.8v.8h-.8zM48.0 281.7h.8v.8h-.8zM48.5 283.6h.8v.8h-.8zM43.1 281.4h.8v.8h-.8zM80.2 278.4h.8v.8h-.8zM44.1 282.3h.8v.8h-.8zM48.8 284.2h.8v.8h-.8zM42.5 282.5h.8v.8h-.8zM45.7 280.5h.8v.8h-.8zM60.7 283.4h.8v.8h-.8zM81.3 279.8h.8v.8h-.8zM53.6 284.6h.8v.8h-.8zM77.7 282.2h.8v.8h-.8zM42.3 283.3h.8v.8h-.8zM44.4 283.1h.8v.8h-.8zM47.3 280.6h.8v.8h-.8zM87.4 281.0h.8v.8h-.8zM59.3 281.6h.8v.8h-.8zM83.2 281.1h.8v.8h-.8zM60.7 279.7h.8v.8h-.8zM43.6 284.0h.8v.8h-.8zM58.2 283.9h.8v.8h-.8zM61.0 283.0h.8v.8h-.8zM78.2 283.4h.8v.8h-.8zM80.2 281.7h.8v.8h-.8zM46.0 281.5h.8v.8h-.8zM59.5 280.9h.8v.8h-.8zM68.7 280.3h.8v.8h-.8zM58.8 281.5h.8v.8h-.8zM72.1 280.3h.8v.8h-.8zM72.7 280.3h.8v.8h-.8zM52.3 280.9h.8v.8h-.8zM60.4 281.8h.8v.8h-.8zM76.5 280.8h.8v.8h-.8zM69.3 283.1h.8v.8h-.8zM82.0 278.8h.8v.8h-.8zM40.6 283.8h.8v.8h-.8zM43.0 281.9h.8v.8h-.8zM75.5 282.3h.8v.8h-.8zM49.4 283.6h.8v.8h-.8zM73.2 282.2h.8v.8h-.8zM87.5 279.7h.8v.8h-.8zM77.9 280.2h.8v.8h-.8zM54.4 282.1h.8v.8h-.8zM43.9 284.4h.8v.8h-.8zM85.0 281.9h.8v.8h-.8zM58.2 281.2h.8v.8h-.8zM65.7 280.9h.8v.8h-.8zM42.9 281.9h.8v.8h-.8zM80.5 285.4h.8v.8h-.8zM59.6 280.7h.8v.8h-.8zM84.9 281.9h.8v.8h-.8zM45.3 284.7h.8v.8h-.8zM42.6 283.5h.8v.8h-.8zM48.5 280.6h.8v.8h-.8zM52.2 280.4h.8v.8h-.8zM59.3 281.7h.8v.8h-.8zM59.5 281.0h.8v.8h-.8zM51.6 282.0h.8v.8h-.8zM77.3 283.8h.8v.8h-.8zM61.8 280.5h.8v.8h-.8zM48.5 281.7h.8v.8h-.8zM79.6 281.8h.8v.8h-.8zM79.4 280.1h.8v.8h-.8zM58.4 282.3h.8v.8h-.8zM48.9 283.2h.8v.8h-.8zM78.6 282.0h.8v.8h-.8zM50.7 283.2h.8v.8h-.8zM64.5 279.5h.8v.8h-.8zM73.3 284.5h.8v.8h-.8zM84.2 282.6h.8v.8h-.8zM77.8 282.9h.8v.8h-.8zM52.1 280.0h.8v.8h-.8zM82.4 282.0h.8v.8h-.8zM48.6 281.7h.8v.8h-.8zM64.2 283.5h.8v.8h-.8zM77.4 279.4h.8v.8h-.8zM57.9 283.8h.8v.8h-.8zM48.2 282.4h.8v.8h-.8zM59.2 280.6h.8v.8h-.8zM85.3 280.7h.8v.8h-.8zM49.7 279.1h.8v.8h-.8zM47.8 282.3h.8v.8h-.8zM48.8 282.0h.8v.8h-.8zM49.5 282.6h.8v.8h-.8zM47.5 282.7h.8v.8h-.8zM54.5 280.4h.8v.8h-.8zM75.8 281.6h.8v.8h-.8zM63.5 282.2h.8v.8h-.8zM63.0 281.2h.8v.8h-.8zM54.2 282.1h.8v.8h-.8zM45.2 282.6h.8v.8h-.8zM77.8 281.9h.8v.8h-.8zM73.2 281.1h.8v.8h-.8zM69.2 281.0h.8v.8h-.8zM73.8 283.8h.8v.8h-.8zM78.6 280.3h.8v.8h-.8zM43.1 278.5h.8v.8h-.8zM85.5 282.1h.8v.8h-.8zM62.8 279.1h.8v.8h-.8zM52.6 284.5h.8v.8h-.8zM44.9 281.7h.8v.8h-.8zM70.0 283.4h.8v.8h-.8zM61.6 281.9h.8v.8h-.8zM60.7 281.0h.8v.8h-.8zM71.6 282.8h.8v.8h-.8zM48.3 282.3h.8v.8h-.8zM42.0 282.5h.8v.8h-.8zM44.7 283.0h.8v.8h-.8zM41.6 281.0h.8v.8h-.8zM40.9 280.2h.8v.8h-.8zM73.8 282.6h.8v.8h-.8zM75.8 280.2h.8v.8h-.8zM41.8 281.1h.8v.8h-.8zM86.6 283.4h.8v.8h-.8zM58.7 281.7h.8v.8h-.8zM77.1 280.8h.8v.8h-.8zM47.4 282.8h.8v.8h-.8zM42.7 282.0h.8v.8h-.8zM74.3 281.7h.8v.8h-.8zM43.6 282.8h.8v.8h-.8zM64.4 279.8h.8v.8h-.8zM68.4 281.1h.8v.8h-.8zM66.8 282.2h.8v.8h-.8zM53.4 284.5h.8v.8h-.8zM48.6 278.3h.8v.8h-.8zM55.7 280.0h.8v.8h-.8zM49.6 281.3h.8v.8h-.8zM45.8 284.3h.8v.8h-.8zM86.1 282.5h.8v.8h-.8zM41.3 283.5h.8v.8h-.8zM64.6 282.0h.8v.8h-.8zM60.7 280.5h.8v.8h-.8zM87.9 282.9h.8v.8h-.8zM79.6 279.6h.8v.8h-.8zM66.2 281.9h.8v.8h-.8zM50.5 281.0h.8v.8h-.8zM48.8 281.1h.8v.8h-.8zM63.1 281.8h.8v.8h-.8zM46.6 282.2h.8v.8h-.8zM50.0 281.0h.8v.8h-.8zM85.9 282.8h.8v.8h-.8zM74.1 282.5h.8v.8h-.8zM49.3 282.1h.8v.8h-.8zM70.2 283.3h.8v.8h-.8zM61.8 282.5h.8v.8h-.8zM79.3 281.2h.8v.8h-.8zM63.8 283.4h.8v.8h-.8zM86.0 278.7h.8v.8h-.8zM77.8 282.9h.8v.8h-.8zM46.0 280.8h.8v.8h-.8zM52.2 282.6h.8v.8h-.8zM80.9 280.8h.8v.8h-.8zM71.4 282.0h.8v.8h-.8zM47.6 284.1h.8v.8h-.8zM51.2 282.4h.8v.8h-.8zM55.8 282.3h.8v.8h-.8zM47.0 280.9h.8v.8h-.8zM80.6 283.7h.8v.8h-.8zM66.4 281.1h.8v.8h-.8zM80.0 280.0h.8v.8h-.8zM51.3 279.4h.8v.8h-.8zM85.4 284.7h.8v.8h-.8zM81.3 282.0h.8v.8h-.8zM72.8 282.2h.8v.8h-.8zM56.6 279.7h.8v.8h-.8zM55.3 283.3h.8v.8h-.8zM75.7 280.5h.8v.8h-.8zM51.2 280.2h.8v.8h-.8zM58.7 282.0h.8v.8h-.8zM42.8 281.4h.8v.8h-.8zM69.4 281.3h.8v.8h-.8zM82.9 281.7h.8v.8h-.8zM50.2 281.2h.8v.8h-.8zM71.7 282.0h.8v.8h-.8zM43.6 281.7h.8v.8h-.8zM45.1 283.7h.8v.8h-.8zM46.1 282.7h.8v.8h-.8zM73.2 281.7h.8v.8h-.8zM76.4 278.9h.8v.8h-.8zM67.0 282.4h.8v.8h-.8zM66.0 283.6h.8v.8h-.8zM63.4 281.5h.8v.8h-.8zM73.0 281.5h.8v.8h-.8zM75.4 283.0h.8v.8h-.8zM58.9 279.2h.8v.8h-.8zM56.7 281.6h.8v.8h-.8zM72.1 283.8h.8v.8h-.8zM54.2 281.9h.8v.8h-.8zM81.6 280.6h.8v.8h-.8zM50.4 282.1h.8v.8h-.8zM61.1 282.0h.8v.8h-.8zM86.5 281.2h.8v.8h-.8zM77.8 282.2h.8v.8h-.8zM76.0 281.3h.8v.8h-.8zM50.7 281.7h.8v.8h-.8zM60.1 283.1h.8v.8h-.8zM60.0 280.8h.8v.8h-.8zM50.4 282.7h.8v.8h-.8zM45.0 281.3h.8v.8h-.8zM61.2 284.7h.8v.8h-.8zM55.2 282.3h.8v.8h-.8zM78.7 283.4h.8v.8h-.8zM59.0 281.3h.8v.8h-.8zM45.5 281.9h.8v.8h-.8zM42.9 282.8h.8v.8h-.8zM62.8 281.4h.8v.8h-.8zM40.5 282.9h.8v.8h-.8zM44.6 281.6h.8v.8h-.8zM45.0 282.5h.8v.8h-.8zM48.3 280.6h.8v.8h-.8zM50.0 283.2h.8v.8h-.8zM81.1 282.9h.8v.8h-.8zM41.9 284.9h.8v.8h-.8zM72.2 280.7h.8v.8h-.8zM70.2 281.3h.8v.8h-.8zM41.6 282.7h.8v.8h-.8zM87.0 282.5h.8v.8h-.8zM51.6 282.3h.8v.8h-.8zM41.6 283.4h.8v.8h-.8zM54.6 282.1h.8v.8h-.8zM65.2 279.8h.8v.8h-.8zM65.4 282.4h.8v.8h-.8zM46.1 284.4h.8v.8h-.8zM70.0 282.4h.8v.8h-.8zM80.0 281.1h.8v.8h-.8zM45.8 282.3h.8v.8h-.8zM40.9 280.2h.8v.8h-.8zM79.1 280.9h.8v.8h-.8zM74.2 281.6h.8v.8h-.8zM57.6 280.9h.8v.8h-.8zM46.0 283.4h.8v.8h-.8zM77.2 283.0h.8v.8h-.8zM56.2 285.1h.8v.8h-.8zM53.2 285.3h.8v.8h-.8zM58.7 282.2h.8v.8h-.8zM50.1 280.3h.8v.8h-.8zM86.9 283.0h.8v.8h-.8zM79.6 279.0h.8v.8h-.8zM79.1 284.8h.8v.8h-.8zM44.8 281.0h.8v.8h-.8zM48.7 281.9h.8v.8h-.8zM84.9 283.6h.8v.8h-.8zM78.5 279.5h.8v.8h-.8zM60.1 285.8h.8v.8h-.8zM62.7 285.4h.8v.8h-.8zM59.9 284.5h.8v.8h-.8zM56.9 284.8h.8v.8h-.8zM47.1 282.7h.8v.8h-.8zM48.0 281.5h.8v.8h-.8zM64.6 282.3h.8v.8h-.8zM41.4 282.5h.8v.8h-.8zM82.3 282.9h.8v.8h-.8zM81.3 282.4h.8v.8h-.8zM51.6 283.3h.8v.8h-.8zM41.0 281.8h.8v.8h-.8zM68.7 281.9h.8v.8h-.8zM72.1 285.0h.8v.8h-.8zM74.4 284.6h.8v.8h-.8zM43.2 282.6h.8v.8h-.8zM40.6 280.4h.8v.8h-.8zM78.0 282.4h.8v.8h-.8zM59.3 282.0h.8v.8h-.8zM81.8 282.0h.8v.8h-.8zM77.3 283.9h.8v.8h-.8zM48.5 282.5h.8v.8h-.8zM73.6 278.7h.8v.8h-.8zM52.5 279.8h.8v.8h-.8zM41.0 284.6h.8v.8h-.8zM52.8 283.4h.8v.8h-.8zM53.2 285.2h.8v.8h-.8zM46.3 280.5h.8v.8h-.8zM49.8 281.9h.8v.8h-.8zM87.5 282.7h.8v.8h-.8zM85.9 280.7h.8v.8h-.8zM50.0 283.1h.8v.8h-.8zM54.3 285.7h.8v.8h-.8zM42.5 281.1h.8v.8h-.8zM43.0 281.7h.8v.8h-.8zM58.8 280.6h.8v.8h-.8zM68.9 284.8h.8v.8h-.8zM68.4 284.9h.8v.8h-.8zM50.5 279.7h.8v.8h-.8zM82.8 279.9h.8v.8h-.8zM78.6 281.1h.8v.8h-.8zM53.4 282.1h.8v.8h-.8zM53.3 281.0h.8v.8h-.8zM63.7 284.9h.8v.8h-.8z" fill="#000" fill-opacity="0.08"/><path d="M87.0 280.4h.8v.8h-.8zM52.5 281.7h.8v.8h-.8zM43.1 281.7h.8v.8h-.8zM41.9 284.1h.8v.8h-.8zM53.2 280.7h.8v.8h-.8zM74.5 283.8h.8v.8h-.8zM55.7 282.1h.8v.8h-.8zM60.4 284.6h.8v.8h-.8zM82.4 278.0h.8v.8h-.8zM75.0 281.1h.8v.8h-.8zM85.1 277.8h.8v.8h-.8zM60.8 281.0h.8v.8h-.8zM76.6 283.1h.8v.8h-.8zM42.9 283.5h.8v.8h-.8zM43.0 281.8h.8v.8h-.8zM68.1 282.8h.8v.8h-.8zM41.9 282.6h.8v.8h-.8zM48.1 283.4h.8v.8h-.8zM74.8 283.1h.8v.8h-.8zM78.3 283.5h.8v.8h-.8zM49.1 282.6h.8v.8h-.8zM48.1 285.8h.8v.8h-.8zM63.1 283.3h.8v.8h-.8zM54.8 282.3h.8v.8h-.8zM41.8 281.6h.8v.8h-.8zM49.2 284.1h.8v.8h-.8zM46.9 282.5h.8v.8h-.8zM75.9 282.7h.8v.8h-.8zM84.6 279.0h.8v.8h-.8zM66.4 282.4h.8v.8h-.8zM74.6 282.1h.8v.8h-.8zM78.6 280.9h.8v.8h-.8zM47.6 279.4h.8v.8h-.8zM82.3 280.8h.8v.8h-.8zM65.1 281.2h.8v.8h-.8zM64.4 283.0h.8v.8h-.8zM48.1 280.7h.8v.8h-.8zM60.5 280.0h.8v.8h-.8zM45.5 281.2h.8v.8h-.8zM63.8 282.0h.8v.8h-.8zM44.0 283.8h.8v.8h-.8zM85.4 284.8h.8v.8h-.8zM74.8 281.7h.8v.8h-.8zM79.3 281.2h.8v.8h-.8zM47.4 280.1h.8v.8h-.8zM70.0 281.2h.8v.8h-.8zM67.9 282.4h.8v.8h-.8zM47.8 284.1h.8v.8h-.8zM52.3 281.2h.8v.8h-.8zM51.1 282.4h.8v.8h-.8zM85.8 279.7h.8v.8h-.8zM86.0 280.5h.8v.8h-.8zM60.5 280.6h.8v.8h-.8zM44.2 277.4h.8v.8h-.8zM47.0 283.9h.8v.8h-.8zM50.6 282.5h.8v.8h-.8zM56.3 282.3h.8v.8h-.8zM63.3 280.7h.8v.8h-.8zM40.8 282.6h.8v.8h-.8zM51.2 283.4h.8v.8h-.8zM65.0 278.7h.8v.8h-.8zM79.5 282.9h.8v.8h-.8zM55.3 281.6h.8v.8h-.8zM44.5 281.6h.8v.8h-.8zM81.0 281.2h.8v.8h-.8zM65.3 283.8h.8v.8h-.8zM48.7 284.4h.8v.8h-.8zM58.4 281.8h.8v.8h-.8zM74.7 283.6h.8v.8h-.8zM84.9 283.3h.8v.8h-.8zM43.8 282.1h.8v.8h-.8zM46.6 281.7h.8v.8h-.8zM59.3 281.5h.8v.8h-.8zM66.7 281.2h.8v.8h-.8zM85.1 281.0h.8v.8h-.8zM44.8 282.5h.8v.8h-.8zM80.3 279.1h.8v.8h-.8zM73.8 282.8h.8v.8h-.8zM70.5 280.4h.8v.8h-.8zM50.8 282.6h.8v.8h-.8zM41.8 283.7h.8v.8h-.8zM40.5 282.4h.8v.8h-.8zM59.0 284.4h.8v.8h-.8zM55.1 281.9h.8v.8h-.8zM54.3 282.7h.8v.8h-.8zM45.1 283.3h.8v.8h-.8zM69.1 282.6h.8v.8h-.8zM43.6 281.7h.8v.8h-.8zM54.4 282.3h.8v.8h-.8zM60.2 284.0h.8v.8h-.8zM41.4 283.3h.8v.8h-.8zM49.0 282.7h.8v.8h-.8zM41.7 283.3h.8v.8h-.8zM44.5 281.3h.8v.8h-.8zM56.2 282.0h.8v.8h-.8zM45.0 281.9h.8v.8h-.8zM48.1 283.2h.8v.8h-.8zM50.2 281.4h.8v.8h-.8zM48.0 280.9h.8v.8h-.8zM47.6 283.4h.8v.8h-.8zM44.2 282.2h.8v.8h-.8zM47.8 282.2h.8v.8h-.8zM49.5 283.1h.8v.8h-.8zM45.8 283.7h.8v.8h-.8zM86.8 281.0h.8v.8h-.8zM52.7 283.9h.8v.8h-.8zM41.1 283.1h.8v.8h-.8zM42.0 282.0h.8v.8h-.8zM61.7 281.1h.8v.8h-.8zM75.9 280.9h.8v.8h-.8zM59.8 283.0h.8v.8h-.8zM53.3 282.9h.8v.8h-.8zM86.5 281.0h.8v.8h-.8zM68.8 282.1h.8v.8h-.8zM40.7 280.4h.8v.8h-.8zM46.7 283.2h.8v.8h-.8zM64.9 281.5h.8v.8h-.8zM53.6 279.3h.8v.8h-.8zM51.6 282.3h.8v.8h-.8zM44.0 284.2h.8v.8h-.8zM52.8 282.7h.8v.8h-.8zM50.1 283.5h.8v.8h-.8zM57.5 280.3h.8v.8h-.8zM81.6 283.5h.8v.8h-.8zM78.1 281.7h.8v.8h-.8zM57.8 281.2h.8v.8h-.8zM59.3 280.4h.8v.8h-.8zM81.2 280.5h.8v.8h-.8zM59.4 283.4h.8v.8h-.8zM69.2 280.6h.8v.8h-.8zM47.7 283.0h.8v.8h-.8zM79.9 284.9h.8v.8h-.8zM40.7 285.3h.8v.8h-.8zM50.1 281.5h.8v.8h-.8zM86.0 280.6h.8v.8h-.8zM73.2 283.9h.8v.8h-.8zM44.0 282.5h.8v.8h-.8zM42.3 280.9h.8v.8h-.8zM59.3 283.9h.8v.8h-.8zM53.5 278.6h.8v.8h-.8zM63.8 281.2h.8v.8h-.8zM71.4 284.2h.8v.8h-.8zM75.0 280.3h.8v.8h-.8zM74.7 281.2h.8v.8h-.8zM45.7 283.4h.8v.8h-.8zM73.5 281.6h.8v.8h-.8zM47.0 282.8h.8v.8h-.8zM43.3 281.2h.8v.8h-.8zM66.9 281.6h.8v.8h-.8zM42.7 281.8h.8v.8h-.8zM45.0 283.6h.8v.8h-.8zM53.0 282.1h.8v.8h-.8zM61.5 281.0h.8v.8h-.8zM49.7 281.5h.8v.8h-.8zM63.8 281.8h.8v.8h-.8zM57.9 280.9h.8v.8h-.8zM52.7 281.0h.8v.8h-.8zM47.8 281.9h.8v.8h-.8zM59.6 284.9h.8v.8h-.8zM56.1 284.5h.8v.8h-.8zM77.9 281.5h.8v.8h-.8zM47.7 284.9h.8v.8h-.8zM45.5 279.8h.8v.8h-.8zM53.9 281.5h.8v.8h-.8zM53.8 281.6h.8v.8h-.8zM73.2 279.3h.8v.8h-.8zM68.1 283.9h.8v.8h-.8zM44.0 282.3h.8v.8h-.8zM52.2 281.9h.8v.8h-.8zM50.2 284.7h.8v.8h-.8zM61.2 285.6h.8v.8h-.8zM49.4 282.3h.8v.8h-.8zM51.5 280.7h.8v.8h-.8zM48.8 283.0h.8v.8h-.8zM42.9 282.5h.8v.8h-.8zM56.9 283.7h.8v.8h-.8zM50.0 279.5h.8v.8h-.8zM48.2 282.9h.8v.8h-.8zM44.4 281.2h.8v.8h-.8zM56.2 278.0h.8v.8h-.8zM60.7 281.9h.8v.8h-.8zM62.9 283.3h.8v.8h-.8zM71.5 284.1h.8v.8h-.8zM85.2 281.2h.8v.8h-.8zM59.3 283.8h.8v.8h-.8zM40.9 281.7h.8v.8h-.8zM42.7 279.7h.8v.8h-.8zM42.5 281.8h.8v.8h-.8zM73.0 282.6h.8v.8h-.8zM84.8 281.4h.8v.8h-.8zM46.8 285.5h.8v.8h-.8zM77.0 283.7h.8v.8h-.8zM67.5 284.1h.8v.8h-.8zM67.3 285.2h.8v.8h-.8zM83.2 282.5h.8v.8h-.8zM59.8 282.9h.8v.8h-.8zM51.4 282.0h.8v.8h-.8zM75.3 280.7h.8v.8h-.8zM53.4 281.9h.8v.8h-.8zM74.1 280.0h.8v.8h-.8zM51.7 282.8h.8v.8h-.8zM52.3 282.9h.8v.8h-.8zM50.4 279.0h.8v.8h-.8zM72.3 284.1h.8v.8h-.8zM43.0 280.0h.8v.8h-.8zM48.4 278.4h.8v.8h-.8zM66.0 280.5h.8v.8h-.8zM60.5 283.4h.8v.8h-.8zM42.1 282.4h.8v.8h-.8zM49.2 281.2h.8v.8h-.8zM61.7 281.6h.8v.8h-.8zM59.3 282.3h.8v.8h-.8zM67.6 278.3h.8v.8h-.8zM72.8 280.6h.8v.8h-.8zM44.2 281.6h.8v.8h-.8zM42.4 284.7h.8v.8h-.8zM83.0 280.4h.8v.8h-.8zM69.0 280.5h.8v.8h-.8zM80.2 280.9h.8v.8h-.8zM41.3 280.6h.8v.8h-.8zM67.6 281.6h.8v.8h-.8zM51.1 280.3h.8v.8h-.8zM49.5 282.1h.8v.8h-.8zM80.8 282.2h.8v.8h-.8zM45.7 283.7h.8v.8h-.8zM73.0 281.6h.8v.8h-.8zM61.6 281.9h.8v.8h-.8zM78.0 281.8h.8v.8h-.8zM51.6 285.4h.8v.8h-.8zM57.3 283.8h.8v.8h-.8zM66.2 283.7h.8v.8h-.8zM45.8 282.1h.8v.8h-.8zM74.7 286.5h.8v.8h-.8zM56.6 284.2h.8v.8h-.8zM52.3 281.4h.8v.8h-.8zM60.1 282.1h.8v.8h-.8zM70.8 284.3h.8v.8h-.8zM55.0 282.5h.8v.8h-.8zM73.0 282.2h.8v.8h-.8zM72.7 283.2h.8v.8h-.8zM43.3 282.1h.8v.8h-.8zM41.1 280.8h.8v.8h-.8zM63.5 280.6h.8v.8h-.8zM42.7 283.5h.8v.8h-.8zM70.4 280.3h.8v.8h-.8zM71.6 284.4h.8v.8h-.8zM60.3 281.0h.8v.8h-.8zM69.9 281.5h.8v.8h-.8zM46.7 282.4h.8v.8h-.8zM64.8 283.5h.8v.8h-.8zM56.4 283.3h.8v.8h-.8zM59.4 279.4h.8v.8h-.8zM56.9 281.5h.8v.8h-.8zM41.6 285.1h.8v.8h-.8zM57.3 281.1h.8v.8h-.8zM58.7 280.0h.8v.8h-.8zM76.5 280.7h.8v.8h-.8zM60.2 283.2h.8v.8h-.8zM49.1 284.4h.8v.8h-.8zM77.5 281.2h.8v.8h-.8zM73.5 282.5h.8v.8h-.8zM66.2 285.0h.8v.8h-.8zM51.3 285.1h.8v.8h-.8zM53.6 282.5h.8v.8h-.8zM64.1 281.4h.8v.8h-.8zM59.8 279.5h.8v.8h-.8zM78.9 280.7h.8v.8h-.8zM75.0 280.4h.8v.8h-.8zM57.6 282.5h.8v.8h-.8zM41.5 285.0h.8v.8h-.8zM47.1 282.5h.8v.8h-.8zM63.5 283.3h.8v.8h-.8zM49.6 281.0h.8v.8h-.8zM41.4 282.9h.8v.8h-.8zM44.5 282.6h.8v.8h-.8zM55.6 281.1h.8v.8h-.8zM80.7 281.3h.8v.8h-.8zM75.8 281.8h.8v.8h-.8zM61.5 283.0h.8v.8h-.8zM87.9 280.3h.8v.8h-.8zM64.9 279.1h.8v.8h-.8zM74.9 279.3h.8v.8h-.8zM80.5 285.8h.8v.8h-.8zM53.7 282.9h.8v.8h-.8zM84.4 282.2h.8v.8h-.8zM56.0 281.2h.8v.8h-.8zM87.5 279.9h.8v.8h-.8zM60.0 282.2h.8v.8h-.8zM73.8 281.2h.8v.8h-.8zM43.5 283.4h.8v.8h-.8zM80.0 279.1h.8v.8h-.8zM64.7 281.5h.8v.8h-.8zM41.4 283.5h.8v.8h-.8zM82.7 282.8h.8v.8h-.8zM64.0 282.3h.8v.8h-.8zM45.5 279.4h.8v.8h-.8zM84.4 282.7h.8v.8h-.8zM49.7 283.1h.8v.8h-.8zM48.4 282.4h.8v.8h-.8zM74.8 283.3h.8v.8h-.8zM47.0 282.0h.8v.8h-.8zM50.8 280.6h.8v.8h-.8zM55.2 280.8h.8v.8h-.8zM47.4 280.3h.8v.8h-.8zM54.5 282.5h.8v.8h-.8zM46.1 284.5h.8v.8h-.8zM56.9 284.2h.8v.8h-.8zM50.6 282.3h.8v.8h-.8zM79.9 280.5h.8v.8h-.8zM52.7 280.7h.8v.8h-.8zM60.2 283.8h.8v.8h-.8zM43.9 280.4h.8v.8h-.8zM57.5 280.4h.8v.8h-.8zM52.5 282.4h.8v.8h-.8zM68.3 279.8h.8v.8h-.8zM45.3 282.0h.8v.8h-.8zM53.7 283.9h.8v.8h-.8zM51.1 283.5h.8v.8h-.8zM68.0 280.9h.8v.8h-.8zM60.9 282.3h.8v.8h-.8zM63.9 281.8h.8v.8h-.8zM56.0 283.3h.8v.8h-.8zM41.2 285.2h.8v.8h-.8zM41.8 283.9h.8v.8h-.8zM41.3 283.4h.8v.8h-.8zM78.8 280.8h.8v.8h-.8zM65.0 282.1h.8v.8h-.8zM43.0 283.9h.8v.8h-.8zM69.0 282.0h.8v.8h-.8zM57.9 280.9h.8v.8h-.8zM48.1 281.7h.8v.8h-.8zM76.2 282.1h.8v.8h-.8zM41.4 281.8h.8v.8h-.8zM42.2 281.2h.8v.8h-.8zM42.7 280.2h.8v.8h-.8zM45.0 280.2h.8v.8h-.8zM79.8 282.1h.8v.8h-.8zM59.9 280.0h.8v.8h-.8zM72.6 281.2h.8v.8h-.8zM78.1 283.5h.8v.8h-.8zM44.7 281.2h.8v.8h-.8zM86.7 282.3h.8v.8h-.8zM49.0 281.6h.8v.8h-.8zM50.0 285.9h.8v.8h-.8zM71.4 281.9h.8v.8h-.8zM65.3 281.2h.8v.8h-.8zM50.4 283.1h.8v.8h-.8zM58.5 281.5h.8v.8h-.8zM47.4 282.0h.8v.8h-.8zM60.0 284.0h.8v.8h-.8zM87.5 283.8h.8v.8h-.8zM60.9 285.8h.8v.8h-.8zM57.4 284.4h.8v.8h-.8zM45.1 283.3h.8v.8h-.8zM59.0 282.5h.8v.8h-.8zM88.0 282.2h.8v.8h-.8zM68.8 283.7h.8v.8h-.8zM45.7 280.4h.8v.8h-.8zM82.2 278.1h.8v.8h-.8zM75.3 284.1h.8v.8h-.8zM41.5 283.9h.8v.8h-.8zM44.8 284.1h.8v.8h-.8zM44.4 282.0h.8v.8h-.8zM55.9 280.3h.8v.8h-.8zM77.5 279.6h.8v.8h-.8zM67.9 282.9h.8v.8h-.8zM48.6 283.9h.8v.8h-.8zM71.3 281.4h.8v.8h-.8zM74.0 283.7h.8v.8h-.8zM68.9 284.6h.8v.8h-.8zM46.3 282.1h.8v.8h-.8zM76.3 283.1h.8v.8h-.8zM71.2 283.9h.8v.8h-.8zM78.8 283.1h.8v.8h-.8zM84.0 281.1h.8v.8h-.8zM71.1 282.3h.8v.8h-.8zM42.5 285.2h.8v.8h-.8zM70.6 280.6h.8v.8h-.8zM44.1 280.9h.8v.8h-.8zM67.8 281.9h.8v.8h-.8zM56.6 283.1h.8v.8h-.8zM68.2 280.9h.8v.8h-.8zM70.1 283.5h.8v.8h-.8zM41.2 279.6h.8v.8h-.8zM48.6 283.1h.8v.8h-.8zM43.8 281.1h.8v.8h-.8zM48.9 283.0h.8v.8h-.8zM41.6 280.5h.8v.8h-.8zM60.3 280.9h.8v.8h-.8zM81.9 279.1h.8v.8h-.8zM86.5 282.0h.8v.8h-.8zM54.3 280.2h.8v.8h-.8zM77.6 283.3h.8v.8h-.8zM42.2 280.9h.8v.8h-.8zM58.4 282.5h.8v.8h-.8zM64.1 283.3h.8v.8h-.8zM61.5 279.4h.8v.8h-.8zM40.8 283.7h.8v.8h-.8zM46.1 282.1h.8v.8h-.8zM46.8 282.8h.8v.8h-.8zM80.1 283.1h.8v.8h-.8zM60.1 282.3h.8v.8h-.8zM54.9 282.6h.8v.8h-.8zM70.7 280.4h.8v.8h-.8zM79.3 282.0h.8v.8h-.8zM78.4 281.1h.8v.8h-.8zM48.0 282.6h.8v.8h-.8zM67.6 284.6h.8v.8h-.8zM48.8 280.8h.8v.8h-.8zM41.5 282.2h.8v.8h-.8zM55.8 278.0h.8v.8h-.8zM77.8 285.0h.8v.8h-.8zM45.8 280.3h.8v.8h-.8zM71.6 280.9h.8v.8h-.8zM51.3 281.5h.8v.8h-.8zM81.0 284.4h.8v.8h-.8zM58.2 283.1h.8v.8h-.8zM60.1 280.9h.8v.8h-.8zM46.7 282.0h.8v.8h-.8zM48.4 283.6h.8v.8h-.8zM60.2 284.3h.8v.8h-.8zM53.4 282.8h.8v.8h-.8zM40.9 280.0h.8v.8h-.8zM76.0 282.5h.8v.8h-.8zM70.0 279.0h.8v.8h-.8zM64.4 281.8h.8v.8h-.8zM58.5 282.8h.8v.8h-.8zM77.6 282.3h.8v.8h-.8zM48.3 279.9h.8v.8h-.8zM64.3 280.2h.8v.8h-.8zM76.4 282.3h.8v.8h-.8zM74.3 283.5h.8v.8h-.8zM49.5 281.7h.8v.8h-.8zM76.5 282.3h.8v.8h-.8zM51.5 284.1h.8v.8h-.8zM87.0 280.6h.8v.8h-.8zM45.0 285.4h.8v.8h-.8zM79.1 283.0h.8v.8h-.8zM54.1 283.7h.8v.8h-.8zM63.2 282.4h.8v.8h-.8zM73.7 280.1h.8v.8h-.8zM42.7 286.4h.8v.8h-.8zM78.0 281.2h.8v.8h-.8zM62.1 283.1h.8v.8h-.8zM46.3 282.0h.8v.8h-.8zM44.8 279.1h.8v.8h-.8zM68.7 282.0h.8v.8h-.8zM77.1 280.2h.8v.8h-.8zM68.8 281.4h.8v.8h-.8zM80.1 283.3h.8v.8h-.8zM83.2 281.7h.8v.8h-.8zM76.8 279.9h.8v.8h-.8zM41.6 282.0h.8v.8h-.8zM51.1 283.7h.8v.8h-.8zM52.4 283.5h.8v.8h-.8zM45.1 283.2h.8v.8h-.8zM43.3 282.0h.8v.8h-.8zM58.1 283.3h.8v.8h-.8zM44.6 281.3h.8v.8h-.8zM64.8 281.9h.8v.8h-.8zM46.1 280.6h.8v.8h-.8zM85.1 283.1h.8v.8h-.8zM62.4 283.8h.8v.8h-.8zM65.6 282.5h.8v.8h-.8zM61.1 283.4h.8v.8h-.8zM51.2 283.7h.8v.8h-.8zM57.5 282.0h.8v.8h-.8zM50.9 282.3h.8v.8h-.8zM41.2 281.7h.8v.8h-.8zM60.9 280.7h.8v.8h-.8zM84.9 280.3h.8v.8h-.8zM85.1 282.4h.8v.8h-.8zM64.6 282.9h.8v.8h-.8zM50.4 285.6h.8v.8h-.8zM50.6 281.0h.8v.8h-.8zM50.3 285.1h.8v.8h-.8zM57.3 283.6h.8v.8h-.8zM65.8 279.5h.8v.8h-.8zM81.4 280.4h.8v.8h-.8zM47.8 281.6h.8v.8h-.8zM82.6 281.9h.8v.8h-.8zM50.7 282.0h.8v.8h-.8zM58.8 284.0h.8v.8h-.8zM64.9 282.4h.8v.8h-.8zM63.1 283.2h.8v.8h-.8zM45.9 282.5h.8v.8h-.8zM41.3 284.6h.8v.8h-.8zM60.5 279.1h.8v.8h-.8zM64.6 280.5h.8v.8h-.8zM79.2 281.2h.8v.8h-.8zM57.2 282.9h.8v.8h-.8zM86.1 280.9h.8v.8h-.8zM74.0 279.0h.8v.8h-.8zM50.3 281.7h.8v.8h-.8zM42.8 281.8h.8v.8h-.8zM75.5 283.1h.8v.8h-.8zM69.5 279.4h.8v.8h-.8zM75.7 281.8h.8v.8h-.8zM80.8 280.8h.8v.8h-.8zM47.9 280.4h.8v.8h-.8zM44.4 283.7h.8v.8h-.8zM45.4 282.5h.8v.8h-.8zM73.1 284.7h.8v.8h-.8zM65.7 284.5h.8v.8h-.8zM43.5 281.4h.8v.8h-.8zM45.3 281.6h.8v.8h-.8zM86.2 279.8h.8v.8h-.8zM59.6 283.8h.8v.8h-.8zM51.5 281.9h.8v.8h-.8zM72.5 284.8h.8v.8h-.8zM59.0 280.7h.8v.8h-.8zM45.6 282.5h.8v.8h-.8zM65.0 281.0h.8v.8h-.8zM41.2 281.4h.8v.8h-.8zM68.8 279.6h.8v.8h-.8zM52.0 282.7h.8v.8h-.8zM53.1 283.9h.8v.8h-.8zM73.3 281.0h.8v.8h-.8zM51.9 282.9h.8v.8h-.8zM54.1 283.5h.8v.8h-.8zM61.3 282.7h.8v.8h-.8zM44.6 283.2h.8v.8h-.8zM58.2 281.4h.8v.8h-.8zM55.4 280.1h.8v.8h-.8zM77.4 278.4h.8v.8h-.8zM72.6 280.5h.8v.8h-.8zM72.6 282.1h.8v.8h-.8zM71.2 279.7h.8v.8h-.8zM57.7 284.6h.8v.8h-.8zM46.9 284.3h.8v.8h-.8zM46.9 284.0h.8v.8h-.8zM45.3 282.4h.8v.8h-.8zM57.9 283.6h.8v.8h-.8zM40.9 281.9h.8v.8h-.8zM55.1 281.9h.8v.8h-.8zM41.1 282.2h.8v.8h-.8zM42.5 283.9h.8v.8h-.8zM45.4 282.3h.8v.8h-.8zM82.9 280.5h.8v.8h-.8zM47.1 285.7h.8v.8h-.8zM53.7 278.9h.8v.8h-.8zM43.3 284.8h.8v.8h-.8zM44.5 282.5h.8v.8h-.8zM52.7 278.5h.8v.8h-.8zM49.7 282.0h.8v.8h-.8zM44.6 285.2h.8v.8h-.8zM45.4 283.0h.8v.8h-.8zM77.9 282.5h.8v.8h-.8zM43.3 282.1h.8v.8h-.8zM54.3 280.4h.8v.8h-.8zM58.6 283.8h.8v.8h-.8zM73.0 281.9h.8v.8h-.8zM44.4 281.4h.8v.8h-.8zM70.8 280.5h.8v.8h-.8zM74.0 279.4h.8v.8h-.8zM47.2 282.8h.8v.8h-.8zM76.9 282.3h.8v.8h-.8zM42.2 283.0h.8v.8h-.8zM49.2 283.4h.8v.8h-.8zM71.3 282.1h.8v.8h-.8zM56.4 281.9h.8v.8h-.8zM44.7 281.8h.8v.8h-.8zM43.5 282.4h.8v.8h-.8zM42.3 284.9h.8v.8h-.8zM65.6 284.6h.8v.8h-.8zM60.3 282.7h.8v.8h-.8zM84.6 282.0h.8v.8h-.8zM55.1 281.1h.8v.8h-.8zM45.4 282.7h.8v.8h-.8zM41.0 283.3h.8v.8h-.8zM72.8 281.6h.8v.8h-.8zM48.5 282.0h.8v.8h-.8zM64.2 282.4h.8v.8h-.8zM53.2 283.0h.8v.8h-.8zM60.0 284.4h.8v.8h-.8zM58.6 280.0h.8v.8h-.8zM79.4 281.9h.8v.8h-.8zM58.0 281.2h.8v.8h-.8zM57.4 278.9h.8v.8h-.8zM57.2 280.0h.8v.8h-.8zM56.5 281.4h.8v.8h-.8zM80.2 281.9h.8v.8h-.8zM42.7 280.6h.8v.8h-.8zM57.5 282.0h.8v.8h-.8zM42.4 282.9h.8v.8h-.8zM47.0 283.4h.8v.8h-.8zM53.7 285.2h.8v.8h-.8zM61.6 282.6h.8v.8h-.8zM41.6 280.0h.8v.8h-.8zM60.4 279.4h.8v.8h-.8zM71.2 284.3h.8v.8h-.8zM68.2 280.1h.8v.8h-.8zM68.5 282.8h.8v.8h-.8zM76.2 284.3h.8v.8h-.8zM54.9 284.7h.8v.8h-.8zM60.7 283.4h.8v.8h-.8zM56.0 286.4h.8v.8h-.8zM45.6 281.9h.8v.8h-.8zM58.7 283.6h.8v.8h-.8zM41.1 282.9h.8v.8h-.8zM57.7 280.8h.8v.8h-.8zM78.5 280.9h.8v.8h-.8zM87.6 283.1h.8v.8h-.8zM64.2 283.0h.8v.8h-.8zM44.9 279.0h.8v.8h-.8zM77.6 279.0h.8v.8h-.8zM40.8 281.3h.8v.8h-.8zM50.5 282.9h.8v.8h-.8zM52.2 283.7h.8v.8h-.8zM54.3 280.5h.8v.8h-.8zM61.3 279.1h.8v.8h-.8zM57.6 282.4h.8v.8h-.8zM51.6 283.9h.8v.8h-.8zM80.8 283.3h.8v.8h-.8zM85.3 280.8h.8v.8h-.8zM49.7 280.6h.8v.8h-.8zM64.7 279.6h.8v.8h-.8zM62.4 282.7h.8v.8h-.8zM55.7 282.4h.8v.8h-.8zM60.6 283.1h.8v.8h-.8zM45.6 286.6h.8v.8h-.8zM49.9 279.4h.8v.8h-.8zM45.2 281.7h.8v.8h-.8zM56.8 286.2h.8v.8h-.8zM43.6 281.0h.8v.8h-.8zM48.9 284.0h.8v.8h-.8zM71.0 281.7h.8v.8h-.8zM42.2 283.1h.8v.8h-.8zM57.6 281.6h.8v.8h-.8zM85.0 282.0h.8v.8h-.8zM52.3 285.3h.8v.8h-.8zM61.4 281.3h.8v.8h-.8zM41.3 283.6h.8v.8h-.8zM47.8 279.6h.8v.8h-.8zM45.9 282.4h.8v.8h-.8zM41.9 282.1h.8v.8h-.8zM52.3 282.5h.8v.8h-.8zM50.9 281.7h.8v.8h-.8zM45.3 282.3h.8v.8h-.8zM45.8 279.3h.8v.8h-.8z" fill="#000" fill-opacity="0.25"/><path d="M65.2 282.4h.8v.8h-.8zM69.6 281.8h.8v.8h-.8zM48.8 282.7h.8v.8h-.8zM54.7 281.6h.8v.8h-.8zM44.2 283.3h.8v.8h-.8zM67.7 285.5h.8v.8h-.8zM41.5 282.8h.8v.8h-.8zM51.6 279.1h.8v.8h-.8zM62.0 283.5h.8v.8h-.8zM67.9 283.7h.8v.8h-.8zM45.4 281.8h.8v.8h-.8zM59.1 282.2h.8v.8h-.8zM63.6 285.1h.8v.8h-.8zM55.7 281.3h.8v.8h-.8zM50.1 283.9h.8v.8h-.8zM54.7 281.0h.8v.8h-.8zM57.9 283.6h.8v.8h-.8zM70.6 281.7h.8v.8h-.8zM58.4 283.4h.8v.8h-.8zM48.9 281.7h.8v.8h-.8zM80.5 282.6h.8v.8h-.8zM66.0 285.4h.8v.8h-.8zM66.4 282.7h.8v.8h-.8zM49.8 283.5h.8v.8h-.8zM56.3 283.7h.8v.8h-.8zM73.2 283.7h.8v.8h-.8zM65.4 281.1h.8v.8h-.8zM43.7 280.0h.8v.8h-.8zM63.6 281.8h.8v.8h-.8zM53.9 283.4h.8v.8h-.8zM49.5 283.6h.8v.8h-.8zM61.8 280.4h.8v.8h-.8zM69.6 282.7h.8v.8h-.8zM48.3 280.5h.8v.8h-.8zM63.9 281.5h.8v.8h-.8zM82.4 280.2h.8v.8h-.8zM48.8 283.8h.8v.8h-.8zM41.9 282.8h.8v.8h-.8zM45.0 282.3h.8v.8h-.8zM67.5 284.3h.8v.8h-.8zM61.8 283.3h.8v.8h-.8zM47.1 282.4h.8v.8h-.8zM52.0 280.8h.8v.8h-.8zM51.8 286.2h.8v.8h-.8zM41.3 284.9h.8v.8h-.8zM71.0 281.1h.8v.8h-.8zM54.0 280.3h.8v.8h-.8zM43.5 284.0h.8v.8h-.8zM45.4 283.7h.8v.8h-.8zM44.0 284.5h.8v.8h-.8zM58.0 283.8h.8v.8h-.8zM61.3 280.6h.8v.8h-.8zM56.5 281.4h.8v.8h-.8zM49.9 279.3h.8v.8h-.8zM71.4 281.7h.8v.8h-.8zM63.0 284.1h.8v.8h-.8zM47.4 285.0h.8v.8h-.8zM67.8 282.1h.8v.8h-.8zM43.3 282.1h.8v.8h-.8zM43.7 282.6h.8v.8h-.8zM54.4 282.2h.8v.8h-.8zM83.9 280.6h.8v.8h-.8zM58.8 282.6h.8v.8h-.8zM50.6 279.8h.8v.8h-.8zM43.6 283.2h.8v.8h-.8zM49.0 284.0h.8v.8h-.8zM65.9 285.4h.8v.8h-.8zM68.0 283.3h.8v.8h-.8zM59.8 277.8h.8v.8h-.8zM50.4 279.3h.8v.8h-.8zM45.4 278.9h.8v.8h-.8zM52.7 282.2h.8v.8h-.8zM41.5 284.5h.8v.8h-.8zM56.3 280.6h.8v.8h-.8zM64.0 281.1h.8v.8h-.8zM46.2 281.0h.8v.8h-.8zM51.3 280.6h.8v.8h-.8zM46.2 282.6h.8v.8h-.8zM84.5 283.2h.8v.8h-.8zM55.9 280.9h.8v.8h-.8zM43.5 281.6h.8v.8h-.8zM50.1 282.4h.8v.8h-.8zM45.8 280.8h.8v.8h-.8zM61.4 284.3h.8v.8h-.8zM41.0 283.7h.8v.8h-.8zM53.2 281.0h.8v.8h-.8zM47.5 282.5h.8v.8h-.8zM53.5 279.6h.8v.8h-.8zM65.9 281.6h.8v.8h-.8zM67.5 284.8h.8v.8h-.8zM52.6 284.3h.8v.8h-.8zM40.9 283.3h.8v.8h-.8zM64.9 279.7h.8v.8h-.8zM57.6 283.6h.8v.8h-.8zM52.7 282.4h.8v.8h-.8zM49.3 283.8h.8v.8h-.8zM45.1 281.1h.8v.8h-.8zM71.2 282.3h.8v.8h-.8zM51.6 280.0h.8v.8h-.8zM57.5 283.9h.8v.8h-.8zM69.9 281.3h.8v.8h-.8zM58.1 281.6h.8v.8h-.8zM58.8 283.3h.8v.8h-.8zM41.1 284.3h.8v.8h-.8zM44.1 281.1h.8v.8h-.8zM67.5 279.8h.8v.8h-.8zM85.5 279.8h.8v.8h-.8zM49.3 280.7h.8v.8h-.8zM50.0 280.4h.8v.8h-.8zM51.7 281.9h.8v.8h-.8zM45.1 283.7h.8v.8h-.8zM41.0 282.4h.8v.8h-.8zM77.0 280.2h.8v.8h-.8zM61.7 281.6h.8v.8h-.8zM44.5 282.1h.8v.8h-.8zM56.6 283.1h.8v.8h-.8zM41.3 281.3h.8v.8h-.8zM56.4 283.0h.8v.8h-.8zM50.2 283.3h.8v.8h-.8zM52.9 282.1h.8v.8h-.8zM49.9 281.4h.8v.8h-.8zM52.2 280.2h.8v.8h-.8zM75.6 280.9h.8v.8h-.8zM73.7 282.5h.8v.8h-.8zM49.0 282.6h.8v.8h-.8zM65.6 282.9h.8v.8h-.8zM43.9 283.4h.8v.8h-.8zM52.7 281.3h.8v.8h-.8zM45.4 283.1h.8v.8h-.8zM47.5 282.0h.8v.8h-.8zM43.4 281.3h.8v.8h-.8zM58.9 281.2h.8v.8h-.8zM86.9 283.9h.8v.8h-.8zM55.6 280.1h.8v.8h-.8zM43.7 280.8h.8v.8h-.8zM62.8 280.7h.8v.8h-.8zM65.2 283.0h.8v.8h-.8zM45.4 284.0h.8v.8h-.8zM63.6 284.5h.8v.8h-.8zM58.5 286.1h.8v.8h-.8zM50.1 285.2h.8v.8h-.8zM58.6 282.4h.8v.8h-.8zM40.8 282.4h.8v.8h-.8zM60.2 285.8h.8v.8h-.8zM63.4 281.5h.8v.8h-.8zM60.7 282.0h.8v.8h-.8zM51.3 280.7h.8v.8h-.8zM57.5 281.9h.8v.8h-.8zM60.0 281.9h.8v.8h-.8zM43.0 284.9h.8v.8h-.8zM68.3 282.9h.8v.8h-.8zM51.8 281.6h.8v.8h-.8zM67.5 284.3h.8v.8h-.8zM45.1 285.5h.8v.8h-.8zM49.0 284.1h.8v.8h-.8zM69.4 279.5h.8v.8h-.8zM59.0 283.5h.8v.8h-.8zM48.6 280.8h.8v.8h-.8zM64.5 282.5h.8v.8h-.8zM43.4 285.6h.8v.8h-.8zM64.2 279.8h.8v.8h-.8zM54.4 282.0h.8v.8h-.8zM55.1 282.2h.8v.8h-.8zM85.6 284.5h.8v.8h-.8zM60.2 280.0h.8v.8h-.8zM56.6 280.0h.8v.8h-.8zM42.7 284.5h.8v.8h-.8zM54.1 281.6h.8v.8h-.8zM59.0 280.8h.8v.8h-.8zM53.7 283.1h.8v.8h-.8zM56.7 283.0h.8v.8h-.8zM59.1 282.4h.8v.8h-.8zM50.8 279.8h.8v.8h-.8zM51.0 283.4h.8v.8h-.8zM46.2 282.8h.8v.8h-.8zM52.1 283.3h.8v.8h-.8zM46.5 281.1h.8v.8h-.8zM58.7 280.1h.8v.8h-.8zM82.4 282.8h.8v.8h-.8zM52.9 280.9h.8v.8h-.8zM78.7 282.7h.8v.8h-.8zM48.9 279.9h.8v.8h-.8zM62.0 284.4h.8v.8h-.8zM44.3 282.6h.8v.8h-.8zM49.4 283.4h.8v.8h-.8zM42.7 280.3h.8v.8h-.8zM83.4 281.7h.8v.8h-.8zM46.1 281.2h.8v.8h-.8zM53.4 280.8h.8v.8h-.8zM74.1 280.7h.8v.8h-.8zM49.8 281.1h.8v.8h-.8zM48.0 285.8h.8v.8h-.8zM50.5 281.6h.8v.8h-.8zM53.4 283.6h.8v.8h-.8zM62.3 282.5h.8v.8h-.8zM49.3 279.6h.8v.8h-.8zM40.8 284.9h.8v.8h-.8zM52.4 282.1h.8v.8h-.8zM47.4 282.7h.8v.8h-.8zM42.8 284.2h.8v.8h-.8zM81.6 281.1h.8v.8h-.8zM51.3 281.5h.8v.8h-.8zM43.4 282.6h.8v.8h-.8zM43.2 282.0h.8v.8h-.8zM53.3 283.6h.8v.8h-.8zM68.2 280.7h.8v.8h-.8zM47.3 281.7h.8v.8h-.8zM61.2 282.2h.8v.8h-.8zM69.9 278.6h.8v.8h-.8zM43.6 282.5h.8v.8h-.8zM47.9 282.1h.8v.8h-.8zM49.3 281.9h.8v.8h-.8zM46.5 282.1h.8v.8h-.8zM48.0 281.2h.8v.8h-.8zM42.3 281.7h.8v.8h-.8zM63.4 282.0h.8v.8h-.8zM48.5 285.2h.8v.8h-.8zM47.1 283.1h.8v.8h-.8zM46.7 282.4h.8v.8h-.8zM40.6 279.6h.8v.8h-.8zM49.3 279.8h.8v.8h-.8zM48.2 283.3h.8v.8h-.8zM62.1 283.8h.8v.8h-.8zM66.8 283.6h.8v.8h-.8zM56.1 283.6h.8v.8h-.8zM45.9 284.0h.8v.8h-.8zM45.2 282.6h.8v.8h-.8zM65.3 280.7h.8v.8h-.8zM59.0 284.6h.8v.8h-.8zM50.3 285.1h.8v.8h-.8zM61.2 282.3h.8v.8h-.8zM63.1 281.5h.8v.8h-.8zM46.6 280.8h.8v.8h-.8zM43.4 282.1h.8v.8h-.8zM68.9 281.3h.8v.8h-.8zM63.8 280.8h.8v.8h-.8zM63.1 282.3h.8v.8h-.8zM50.0 281.3h.8v.8h-.8zM50.6 282.4h.8v.8h-.8zM60.7 282.2h.8v.8h-.8zM51.8 280.6h.8v.8h-.8zM40.9 280.2h.8v.8h-.8zM43.8 281.5h.8v.8h-.8zM49.4 285.7h.8v.8h-.8zM51.3 282.3h.8v.8h-.8zM41.8 283.6h.8v.8h-.8zM46.7 282.0h.8v.8h-.8zM86.9 282.0h.8v.8h-.8zM55.2 280.1h.8v.8h-.8zM44.3 281.9h.8v.8h-.8zM72.2 279.6h.8v.8h-.8zM67.6 281.4h.8v.8h-.8zM46.5 282.0h.8v.8h-.8zM47.0 284.2h.8v.8h-.8zM73.8 281.9h.8v.8h-.8zM45.9 281.7h.8v.8h-.8zM55.0 281.5h.8v.8h-.8zM66.8 280.7h.8v.8h-.8zM52.1 283.8h.8v.8h-.8zM80.6 283.1h.8v.8h-.8zM60.5 282.9h.8v.8h-.8zM56.1 280.4h.8v.8h-.8zM68.0 282.4h.8v.8h-.8zM42.8 285.6h.8v.8h-.8zM50.5 282.3h.8v.8h-.8zM69.2 284.0h.8v.8h-.8zM57.9 280.0h.8v.8h-.8zM54.3 283.3h.8v.8h-.8zM44.2 281.9h.8v.8h-.8zM54.7 284.4h.8v.8h-.8zM46.5 280.1h.8v.8h-.8zM42.0 280.2h.8v.8h-.8zM51.0 281.6h.8v.8h-.8zM61.8 281.9h.8v.8h-.8zM45.9 280.6h.8v.8h-.8zM55.7 281.5h.8v.8h-.8zM57.7 280.1h.8v.8h-.8zM43.5 278.1h.8v.8h-.8zM46.5 281.1h.8v.8h-.8zM45.3 284.7h.8v.8h-.8zM46.2 283.5h.8v.8h-.8zM66.2 282.7h.8v.8h-.8zM41.2 284.0h.8v.8h-.8zM62.0 281.5h.8v.8h-.8zM49.6 282.7h.8v.8h-.8zM70.2 279.5h.8v.8h-.8zM63.3 282.1h.8v.8h-.8zM87.9 282.2h.8v.8h-.8zM62.6 282.2h.8v.8h-.8zM40.8 282.9h.8v.8h-.8zM57.1 282.1h.8v.8h-.8zM46.6 284.2h.8v.8h-.8zM45.1 284.1h.8v.8h-.8zM50.4 282.7h.8v.8h-.8zM60.2 285.3h.8v.8h-.8zM83.9 281.2h.8v.8h-.8zM42.4 282.2h.8v.8h-.8zM72.5 281.4h.8v.8h-.8zM67.0 282.3h.8v.8h-.8zM58.9 282.2h.8v.8h-.8zM54.9 283.5h.8v.8h-.8zM54.9 281.3h.8v.8h-.8zM57.0 280.5h.8v.8h-.8zM84.0 283.8h.8v.8h-.8zM42.1 283.3h.8v.8h-.8zM55.5 284.4h.8v.8h-.8zM58.3 284.7h.8v.8h-.8zM59.2 282.8h.8v.8h-.8zM55.9 280.4h.8v.8h-.8zM53.8 282.6h.8v.8h-.8zM42.2 281.8h.8v.8h-.8zM55.2 280.7h.8v.8h-.8zM62.2 281.1h.8v.8h-.8zM51.1 280.1h.8v.8h-.8zM60.6 286.1h.8v.8h-.8zM56.6 282.5h.8v.8h-.8zM48.7 282.6h.8v.8h-.8zM42.3 282.8h.8v.8h-.8zM47.6 282.8h.8v.8h-.8zM51.8 281.7h.8v.8h-.8zM61.8 282.7h.8v.8h-.8zM69.8 281.2h.8v.8h-.8zM64.2 282.2h.8v.8h-.8zM68.9 284.1h.8v.8h-.8zM59.7 280.8h.8v.8h-.8zM86.4 279.8h.8v.8h-.8zM56.0 282.8h.8v.8h-.8zM50.6 279.8h.8v.8h-.8zM46.5 279.2h.8v.8h-.8zM57.5 280.4h.8v.8h-.8zM47.9 284.9h.8v.8h-.8zM53.8 281.6h.8v.8h-.8zM48.4 281.9h.8v.8h-.8zM62.9 283.5h.8v.8h-.8zM58.0 284.9h.8v.8h-.8zM74.4 281.8h.8v.8h-.8zM49.9 283.3h.8v.8h-.8zM70.6 280.2h.8v.8h-.8zM77.4 281.9h.8v.8h-.8zM41.1 281.7h.8v.8h-.8zM55.9 283.0h.8v.8h-.8zM46.4 282.4h.8v.8h-.8zM55.2 282.4h.8v.8h-.8zM59.3 281.8h.8v.8h-.8zM68.5 281.4h.8v.8h-.8zM84.0 280.4h.8v.8h-.8zM71.1 281.6h.8v.8h-.8zM62.2 285.3h.8v.8h-.8zM43.1 283.2h.8v.8h-.8zM42.1 282.6h.8v.8h-.8zM55.8 282.0h.8v.8h-.8zM42.2 283.0h.8v.8h-.8zM63.9 284.2h.8v.8h-.8zM48.6 280.8h.8v.8h-.8zM64.3 284.0h.8v.8h-.8zM49.9 281.5h.8v.8h-.8zM47.5 283.2h.8v.8h-.8zM61.8 281.2h.8v.8h-.8zM58.2 282.6h.8v.8h-.8zM61.4 280.7h.8v.8h-.8zM63.2 280.8h.8v.8h-.8zM56.5 283.6h.8v.8h-.8zM64.4 280.7h.8v.8h-.8zM62.7 280.5h.8v.8h-.8zM57.6 280.1h.8v.8h-.8zM66.0 282.9h.8v.8h-.8zM62.4 283.6h.8v.8h-.8zM61.5 283.2h.8v.8h-.8zM50.1 282.0h.8v.8h-.8zM53.2 283.0h.8v.8h-.8zM59.0 283.6h.8v.8h-.8zM44.3 284.4h.8v.8h-.8zM57.6 285.3h.8v.8h-.8zM54.0 281.7h.8v.8h-.8zM57.0 281.6h.8v.8h-.8zM52.8 283.7h.8v.8h-.8zM58.4 284.0h.8v.8h-.8zM67.3 280.7h.8v.8h-.8zM84.4 280.4h.8v.8h-.8zM52.7 279.5h.8v.8h-.8zM54.9 281.6h.8v.8h-.8zM49.6 283.1h.8v.8h-.8zM56.4 281.7h.8v.8h-.8zM57.3 280.3h.8v.8h-.8zM63.1 283.8h.8v.8h-.8zM52.5 282.4h.8v.8h-.8zM66.2 283.5h.8v.8h-.8zM53.6 280.7h.8v.8h-.8zM40.6 281.9h.8v.8h-.8zM65.0 283.4h.8v.8h-.8zM68.7 283.6h.8v.8h-.8zM81.2 281.4h.8v.8h-.8zM61.1 282.1h.8v.8h-.8zM52.5 283.1h.8v.8h-.8zM58.8 281.7h.8v.8h-.8zM42.7 280.2h.8v.8h-.8zM45.4 283.4h.8v.8h-.8zM47.3 282.7h.8v.8h-.8zM61.2 281.9h.8v.8h-.8zM43.7 282.3h.8v.8h-.8zM50.9 282.6h.8v.8h-.8zM40.7 284.2h.8v.8h-.8zM64.9 286.4h.8v.8h-.8zM40.7 282.0h.8v.8h-.8zM50.5 284.1h.8v.8h-.8zM71.1 281.7h.8v.8h-.8zM62.3 280.8h.8v.8h-.8zM54.1 282.1h.8v.8h-.8zM54.6 284.4h.8v.8h-.8zM56.0 282.8h.8v.8h-.8zM66.7 284.8h.8v.8h-.8zM64.8 284.4h.8v.8h-.8zM40.5 283.3h.8v.8h-.8zM76.0 284.0h.8v.8h-.8zM48.1 282.0h.8v.8h-.8zM76.4 282.8h.8v.8h-.8zM70.1 279.8h.8v.8h-.8zM51.9 281.5h.8v.8h-.8zM49.9 282.4h.8v.8h-.8zM53.1 282.5h.8v.8h-.8zM47.2 281.0h.8v.8h-.8zM63.3 282.5h.8v.8h-.8zM46.7 281.9h.8v.8h-.8zM46.8 280.6h.8v.8h-.8zM60.8 281.1h.8v.8h-.8zM54.7 280.8h.8v.8h-.8zM58.9 279.7h.8v.8h-.8zM66.4 282.0h.8v.8h-.8zM45.2 279.1h.8v.8h-.8zM49.5 282.5h.8v.8h-.8zM53.3 284.1h.8v.8h-.8zM44.2 281.9h.8v.8h-.8zM63.1 281.7h.8v.8h-.8zM54.7 280.5h.8v.8h-.8zM54.9 280.7h.8v.8h-.8zM68.1 281.8h.8v.8h-.8zM44.3 285.6h.8v.8h-.8zM70.9 278.2h.8v.8h-.8zM45.7 281.3h.8v.8h-.8zM64.2 283.5h.8v.8h-.8zM70.5 280.7h.8v.8h-.8zM41.3 283.2h.8v.8h-.8zM68.4 281.9h.8v.8h-.8zM70.4 281.7h.8v.8h-.8zM42.5 285.6h.8v.8h-.8zM78.9 282.9h.8v.8h-.8zM52.1 280.6h.8v.8h-.8zM41.9 283.2h.8v.8h-.8zM53.9 281.8h.8v.8h-.8zM43.6 282.6h.8v.8h-.8zM84.8 281.9h.8v.8h-.8zM69.1 283.4h.8v.8h-.8zM70.7 282.5h.8v.8h-.8zM55.7 283.2h.8v.8h-.8zM40.5 282.8h.8v.8h-.8zM66.2 285.1h.8v.8h-.8zM51.5 281.1h.8v.8h-.8zM47.4 283.1h.8v.8h-.8zM43.0 280.1h.8v.8h-.8zM51.0 282.7h.8v.8h-.8zM44.1 281.0h.8v.8h-.8zM68.6 281.2h.8v.8h-.8zM72.3 281.7h.8v.8h-.8zM54.3 281.5h.8v.8h-.8zM60.7 281.8h.8v.8h-.8zM49.5 283.0h.8v.8h-.8zM66.5 282.6h.8v.8h-.8zM82.8 278.2h.8v.8h-.8zM69.9 283.9h.8v.8h-.8zM47.0 281.6h.8v.8h-.8zM77.3 282.8h.8v.8h-.8zM43.2 284.3h.8v.8h-.8zM66.6 280.8h.8v.8h-.8zM62.5 284.3h.8v.8h-.8zM71.5 281.9h.8v.8h-.8zM69.4 282.4h.8v.8h-.8zM51.1 284.6h.8v.8h-.8zM54.6 280.3h.8v.8h-.8zM62.2 282.9h.8v.8h-.8zM42.7 282.6h.8v.8h-.8zM53.8 282.9h.8v.8h-.8zM43.9 281.0h.8v.8h-.8zM64.0 282.6h.8v.8h-.8zM61.3 283.2h.8v.8h-.8zM55.7 281.2h.8v.8h-.8zM52.6 281.8h.8v.8h-.8zM55.7 280.7h.8v.8h-.8zM50.8 282.5h.8v.8h-.8zM51.7 280.5h.8v.8h-.8z" fill="#000" fill-opacity="0.42"/><path d="M48.6 283.2h.8v.8h-.8zM63.7 282.3h.8v.8h-.8zM54.9 283.4h.8v.8h-.8zM45.4 282.6h.8v.8h-.8zM45.3 281.1h.8v.8h-.8zM44.3 284.4h.8v.8h-.8zM42.9 281.0h.8v.8h-.8zM51.7 279.5h.8v.8h-.8zM59.2 279.0h.8v.8h-.8zM70.9 282.0h.8v.8h-.8zM59.6 282.2h.8v.8h-.8zM62.0 282.4h.8v.8h-.8zM67.0 280.7h.8v.8h-.8zM61.0 281.5h.8v.8h-.8zM50.4 283.7h.8v.8h-.8zM47.0 282.0h.8v.8h-.8zM54.2 281.7h.8v.8h-.8zM59.7 280.7h.8v.8h-.8zM48.9 282.7h.8v.8h-.8zM52.8 281.1h.8v.8h-.8zM71.0 281.1h.8v.8h-.8zM57.5 282.2h.8v.8h-.8zM56.0 279.6h.8v.8h-.8zM51.5 281.7h.8v.8h-.8zM61.3 278.8h.8v.8h-.8zM49.7 283.7h.8v.8h-.8zM56.2 283.1h.8v.8h-.8zM60.0 281.3h.8v.8h-.8zM64.6 279.7h.8v.8h-.8zM63.7 282.1h.8v.8h-.8zM40.6 282.3h.8v.8h-.8zM49.1 280.5h.8v.8h-.8zM55.1 282.8h.8v.8h-.8zM43.6 282.4h.8v.8h-.8zM63.1 279.9h.8v.8h-.8zM52.2 282.1h.8v.8h-.8zM54.2 280.2h.8v.8h-.8zM48.7 281.8h.8v.8h-.8zM66.5 282.8h.8v.8h-.8zM63.6 281.8h.8v.8h-.8zM41.1 280.3h.8v.8h-.8zM57.3 281.2h.8v.8h-.8zM58.7 285.3h.8v.8h-.8zM63.0 283.9h.8v.8h-.8zM68.5 282.2h.8v.8h-.8zM66.5 281.8h.8v.8h-.8zM48.5 281.9h.8v.8h-.8zM41.6 283.5h.8v.8h-.8zM56.3 282.2h.8v.8h-.8zM59.9 280.5h.8v.8h-.8zM49.1 283.9h.8v.8h-.8zM58.5 283.0h.8v.8h-.8zM71.8 281.0h.8v.8h-.8zM60.6 282.3h.8v.8h-.8zM63.5 284.8h.8v.8h-.8zM59.2 284.4h.8v.8h-.8zM68.2 280.1h.8v.8h-.8zM45.2 283.0h.8v.8h-.8zM48.1 282.5h.8v.8h-.8zM53.7 283.9h.8v.8h-.8zM48.5 282.2h.8v.8h-.8zM42.5 285.2h.8v.8h-.8zM48.0 282.9h.8v.8h-.8zM49.6 283.1h.8v.8h-.8zM59.9 280.3h.8v.8h-.8zM55.9 283.1h.8v.8h-.8zM54.8 281.8h.8v.8h-.8zM56.6 280.2h.8v.8h-.8zM46.6 281.7h.8v.8h-.8zM46.4 280.9h.8v.8h-.8zM44.8 283.0h.8v.8h-.8zM43.7 284.3h.8v.8h-.8zM48.6 280.6h.8v.8h-.8zM58.2 280.4h.8v.8h-.8zM47.5 283.4h.8v.8h-.8zM43.2 280.2h.8v.8h-.8zM48.1 283.5h.8v.8h-.8zM68.6 282.4h.8v.8h-.8zM58.0 284.3h.8v.8h-.8zM56.9 278.0h.8v.8h-.8zM54.6 281.0h.8v.8h-.8zM46.4 282.7h.8v.8h-.8zM52.9 285.4h.8v.8h-.8zM66.7 280.3h.8v.8h-.8zM54.1 284.7h.8v.8h-.8zM51.6 281.8h.8v.8h-.8zM64.4 280.2h.8v.8h-.8zM53.0 280.9h.8v.8h-.8zM45.5 281.4h.8v.8h-.8zM42.4 280.9h.8v.8h-.8zM69.9 280.4h.8v.8h-.8zM57.0 283.7h.8v.8h-.8zM41.4 285.5h.8v.8h-.8zM50.5 281.9h.8v.8h-.8zM55.2 280.8h.8v.8h-.8zM59.4 282.4h.8v.8h-.8zM64.2 284.1h.8v.8h-.8zM46.7 280.9h.8v.8h-.8zM49.1 280.7h.8v.8h-.8zM44.7 281.3h.8v.8h-.8zM52.4 282.0h.8v.8h-.8zM45.4 284.5h.8v.8h-.8zM57.1 279.4h.8v.8h-.8zM57.7 280.7h.8v.8h-.8zM42.0 283.7h.8v.8h-.8zM42.1 283.0h.8v.8h-.8zM42.0 282.6h.8v.8h-.8zM61.9 283.3h.8v.8h-.8zM67.2 284.6h.8v.8h-.8zM45.1 279.1h.8v.8h-.8zM45.4 281.3h.8v.8h-.8zM54.4 281.6h.8v.8h-.8zM45.5 280.2h.8v.8h-.8zM42.9 283.9h.8v.8h-.8zM50.4 281.9h.8v.8h-.8zM58.1 283.7h.8v.8h-.8zM52.8 283.4h.8v.8h-.8zM60.2 283.9h.8v.8h-.8zM49.1 280.9h.8v.8h-.8zM68.0 282.9h.8v.8h-.8zM54.0 278.8h.8v.8h-.8zM46.6 282.1h.8v.8h-.8zM48.2 283.9h.8v.8h-.8zM53.9 285.5h.8v.8h-.8zM68.2 281.2h.8v.8h-.8zM51.5 279.3h.8v.8h-.8zM42.9 280.8h.8v.8h-.8zM45.2 282.2h.8v.8h-.8zM59.3 282.5h.8v.8h-.8zM49.5 284.8h.8v.8h-.8zM53.0 285.5h.8v.8h-.8zM67.1 281.4h.8v.8h-.8zM50.0 282.9h.8v.8h-.8zM67.4 284.3h.8v.8h-.8zM45.8 281.9h.8v.8h-.8zM69.8 283.2h.8v.8h-.8zM64.1 280.5h.8v.8h-.8zM41.9 282.5h.8v.8h-.8zM69.9 281.8h.8v.8h-.8zM65.0 281.9h.8v.8h-.8zM47.4 282.8h.8v.8h-.8zM65.3 283.8h.8v.8h-.8zM54.3 284.3h.8v.8h-.8zM41.1 284.3h.8v.8h-.8zM69.2 281.8h.8v.8h-.8zM61.3 284.7h.8v.8h-.8zM52.7 280.9h.8v.8h-.8zM68.9 282.2h.8v.8h-.8zM64.7 279.6h.8v.8h-.8zM43.6 283.1h.8v.8h-.8zM65.1 284.6h.8v.8h-.8zM42.7 280.6h.8v.8h-.8zM71.0 282.9h.8v.8h-.8zM51.1 282.6h.8v.8h-.8zM41.2 284.6h.8v.8h-.8zM67.0 280.9h.8v.8h-.8zM50.4 279.1h.8v.8h-.8zM61.1 281.9h.8v.8h-.8zM64.0 281.0h.8v.8h-.8zM47.2 280.7h.8v.8h-.8zM48.5 282.4h.8v.8h-.8zM46.5 281.2h.8v.8h-.8zM51.9 282.0h.8v.8h-.8zM70.9 282.3h.8v.8h-.8zM55.0 281.7h.8v.8h-.8zM53.7 283.0h.8v.8h-.8zM68.6 282.2h.8v.8h-.8zM60.3 282.1h.8v.8h-.8zM60.5 284.0h.8v.8h-.8zM65.7 281.1h.8v.8h-.8zM49.7 281.4h.8v.8h-.8zM71.0 281.0h.8v.8h-.8zM48.1 281.9h.8v.8h-.8zM59.1 280.1h.8v.8h-.8zM55.7 282.3h.8v.8h-.8zM57.9 283.3h.8v.8h-.8zM62.9 282.9h.8v.8h-.8zM49.7 282.6h.8v.8h-.8zM62.6 282.5h.8v.8h-.8zM41.6 283.0h.8v.8h-.8zM44.1 282.8h.8v.8h-.8zM67.9 280.2h.8v.8h-.8zM68.3 282.6h.8v.8h-.8zM43.7 282.6h.8v.8h-.8zM50.4 284.2h.8v.8h-.8zM47.2 281.1h.8v.8h-.8zM45.1 285.3h.8v.8h-.8zM64.7 284.4h.8v.8h-.8zM62.3 280.2h.8v.8h-.8zM41.6 282.2h.8v.8h-.8zM43.4 284.3h.8v.8h-.8zM47.3 283.0h.8v.8h-.8zM46.2 283.2h.8v.8h-.8zM64.9 281.5h.8v.8h-.8zM56.0 279.6h.8v.8h-.8zM47.0 280.6h.8v.8h-.8zM59.9 281.8h.8v.8h-.8zM70.1 283.9h.8v.8h-.8zM54.4 279.4h.8v.8h-.8zM64.5 278.9h.8v.8h-.8zM41.2 283.8h.8v.8h-.8zM57.4 282.8h.8v.8h-.8zM58.9 282.9h.8v.8h-.8zM64.5 282.6h.8v.8h-.8zM60.8 283.4h.8v.8h-.8zM54.4 280.4h.8v.8h-.8zM63.5 279.6h.8v.8h-.8zM55.2 282.2h.8v.8h-.8zM59.6 281.8h.8v.8h-.8zM53.4 282.8h.8v.8h-.8zM56.4 283.9h.8v.8h-.8zM49.3 280.4h.8v.8h-.8zM69.4 281.2h.8v.8h-.8zM59.0 281.3h.8v.8h-.8zM41.9 280.9h.8v.8h-.8zM46.4 283.6h.8v.8h-.8zM49.8 281.9h.8v.8h-.8zM55.7 283.3h.8v.8h-.8zM67.9 284.2h.8v.8h-.8zM56.7 281.7h.8v.8h-.8zM59.6 282.8h.8v.8h-.8zM50.3 282.2h.8v.8h-.8zM68.9 282.7h.8v.8h-.8zM71.3 284.4h.8v.8h-.8zM43.2 282.8h.8v.8h-.8zM62.1 281.2h.8v.8h-.8zM51.5 283.0h.8v.8h-.8zM64.4 283.2h.8v.8h-.8zM70.0 280.3h.8v.8h-.8zM45.2 283.2h.8v.8h-.8zM70.8 282.5h.8v.8h-.8zM53.3 282.3h.8v.8h-.8zM57.5 280.8h.8v.8h-.8zM45.7 283.5h.8v.8h-.8zM43.3 282.9h.8v.8h-.8zM42.7 282.6h.8v.8h-.8zM69.0 282.5h.8v.8h-.8zM50.6 283.3h.8v.8h-.8zM68.0 280.6h.8v.8h-.8zM53.0 280.2h.8v.8h-.8zM47.4 284.9h.8v.8h-.8zM61.5 281.5h.8v.8h-.8zM70.6 282.2h.8v.8h-.8zM67.3 282.6h.8v.8h-.8zM67.3 282.3h.8v.8h-.8zM45.9 283.2h.8v.8h-.8zM57.2 279.0h.8v.8h-.8zM51.2 282.6h.8v.8h-.8zM54.9 285.4h.8v.8h-.8zM44.7 282.2h.8v.8h-.8zM60.7 279.9h.8v.8h-.8zM47.8 284.0h.8v.8h-.8zM60.9 283.2h.8v.8h-.8zM62.2 280.8h.8v.8h-.8zM53.2 283.9h.8v.8h-.8zM44.0 281.8h.8v.8h-.8zM67.5 282.6h.8v.8h-.8zM66.2 282.9h.8v.8h-.8zM44.0 279.8h.8v.8h-.8zM71.8 282.0h.8v.8h-.8zM65.3 281.5h.8v.8h-.8zM70.8 281.2h.8v.8h-.8zM59.3 284.7h.8v.8h-.8zM58.9 281.5h.8v.8h-.8zM69.8 280.6h.8v.8h-.8zM64.0 280.3h.8v.8h-.8zM46.5 279.6h.8v.8h-.8zM41.5 282.6h.8v.8h-.8zM60.2 282.9h.8v.8h-.8zM55.2 282.3h.8v.8h-.8zM60.6 281.1h.8v.8h-.8zM48.1 284.2h.8v.8h-.8zM46.6 282.7h.8v.8h-.8zM43.9 284.4h.8v.8h-.8zM50.1 282.3h.8v.8h-.8zM45.9 281.8h.8v.8h-.8zM67.3 280.6h.8v.8h-.8zM63.8 281.9h.8v.8h-.8zM51.2 281.2h.8v.8h-.8zM55.9 280.2h.8v.8h-.8zM43.2 282.7h.8v.8h-.8zM63.8 281.6h.8v.8h-.8zM63.3 282.1h.8v.8h-.8zM41.6 283.4h.8v.8h-.8zM58.5 281.7h.8v.8h-.8zM46.2 280.9h.8v.8h-.8zM67.1 281.7h.8v.8h-.8zM70.4 282.7h.8v.8h-.8zM46.8 285.6h.8v.8h-.8z" fill="#000" fill-opacity="0.58"/>
<rect x="64.2" y="269.5" width="39.599999999999994" height="17.0" fill="none" stroke="#f33" stroke-width="0.9"/>
<rect x="150.6" y="231.4" width="111.70000000000002" height="58.099999999999994" fill="none" stroke="#c8c8c8" stroke-width="1.1"/>
<line x1="150.6" y1="231.4" x2="150.6" y2="289.5" stroke="#222" stroke-width="0.9"/>
<line x1="150.6" y1="289.5" x2="262.3" y2="289.5" stroke="#222" stroke-width="1.0"/>
<line x1="149.4" y1="289.5" x2="150.6" y2="289.5" stroke="#444" stroke-width="0.6"/>
<text x="147.0" y="292.3" font-family="Liberation Serif" font-size="5.8" font-weight="normal" fill="#222" text-anchor="end" textLength="2.5" lengthAdjust="spacingAndGlyphs" stroke="#222" stroke-width="0.08">0</text>
<line x1="149.4" y1="274.975" x2="150.6" y2="274.975" stroke="#444" stroke-width="0.6"/>
<text x="147.0" y="277.77500000000003" font-family="Liberation Serif" font-size="5.8" font-weight="normal" fill="#222" text-anchor="end" textLength="5.0" lengthAdjust="spacingAndGlyphs" stroke="#222" stroke-width="0.08">82</text>
<line x1="149.4" y1="260.45" x2="150.6" y2="260.45" stroke="#444" stroke-width="0.6"/>
<text x="147.0" y="263.25" font-family="Liberation Serif" font-size="5.8" font-weight="normal" fill="#222" text-anchor="end" textLength="7.5" lengthAdjust="spacingAndGlyphs" stroke="#222" stroke-width="0.08">165</text>
<line x1="149.4" y1="245.925" x2="150.6" y2="245.925" stroke="#444" stroke-width="0.6"/>
<text x="147.0" y="248.72500000000002" font-family="Liberation Serif" font-size="5.8" font-weight="normal" fill="#222" text-anchor="end" textLength="7.5" lengthAdjust="spacingAndGlyphs" stroke="#222" stroke-width="0.08">247</text>
<line x1="149.4" y1="231.4" x2="150.6" y2="231.4" stroke="#444" stroke-width="0.6"/>
<text x="147.0" y="234.20000000000002" font-family="Liberation Serif" font-size="5.8" font-weight="normal" fill="#222" text-anchor="end" textLength="7.5" lengthAdjust="spacingAndGlyphs" stroke="#222" stroke-width="0.08">327</text>
<line x1="150.6" y1="289.5" x2="150.6" y2="290.7" stroke="#444" stroke-width="0.6"/>
<text x="150.79999999999998" y="297.5" font-family="Liberation Serif" font-size="5.8" fill="#222" stroke="#222" stroke-width="0.08" text-anchor="middle">10<tspan font-size="3.4" dy="-2.2">0</tspan></text>
<line x1="178.525" y1="289.5" x2="178.525" y2="290.7" stroke="#444" stroke-width="0.6"/>
<text x="178.725" y="297.5" font-family="Liberation Serif" font-size="5.8" fill="#222" stroke="#222" stroke-width="0.08" text-anchor="middle">10<tspan font-size="3.4" dy="-2.2">1</tspan></text>
<line x1="206.45" y1="289.5" x2="206.45" y2="290.7" stroke="#444" stroke-width="0.6"/>
<text x="206.64999999999998" y="297.5" font-family="Liberation Serif" font-size="5.8" fill="#222" stroke="#222" stroke-width="0.08" text-anchor="middle">10<tspan font-size="3.4" dy="-2.2">2</tspan></text>
<line x1="234.375" y1="289.5" x2="234.375" y2="290.7" stroke="#444" stroke-width="0.6"/>
<text x="234.575" y="297.5" font-family="Liberation Serif" font-size="5.8" fill="#222" stroke="#222" stroke-width="0.08" text-anchor="middle">10<tspan font-size="3.4" dy="-2.2">3</tspan></text>
<line x1="262.3" y1="289.5" x2="262.3" y2="290.7" stroke="#444" stroke-width="0.6"/>
<text x="262.5" y="297.5" font-family="Liberation Serif" font-size="5.8" fill="#222" stroke="#222" stroke-width="0.08" text-anchor="middle">10<tspan font-size="3.4" dy="-2.2">4</tspan></text>
<text transform="translate(135.9,260.65) rotate(-90)" font-family="Liberation Sans" font-size="6.3" fill="#222" stroke="#222" stroke-width="0.05" text-anchor="middle" textLength="16.1" lengthAdjust="spacingAndGlyphs">Count</text>
<text x="205.45" y="303.5" font-family="Liberation Sans" font-size="6.4" font-weight="normal" fill="#222" text-anchor="middle" textLength="17.0" lengthAdjust="spacingAndGlyphs" stroke="#222" stroke-width="0.12">LAG-3</text>
<path d="M150.70,270.72 L151.35,266.76 L152.00,267.01 L152.75,262.55 L153.50,263.54 L154.25,259.68 L155.00,258.99 L155.65,254.84 L156.30,256.35 L156.95,252.80 L157.60,254.76 L158.32,249.24 L159.05,251.62 L159.78,246.27 L160.50,248.36 L161.50,242.59 L162.50,246.01 L163.22,241.54 L163.95,245.90 L164.68,241.98 L165.40,246.38 L166.10,244.90 L166.80,249.11 L167.55,246.79 L168.30,251.46 L169.50,255.45 L170.12,260.30 L170.74,259.09 L171.36,264.29 L171.98,262.91 L172.60,268.54 L173.30,267.74 L174.00,272.91 L174.70,273.13 L175.40,277.83 L176.06,277.64 L176.72,281.99 L177.38,282.52 L178.04,285.04 L178.70,286.44 L179.55,288.54 L180.40,289.33 L181.00,289.49 L181.60,289.34 L182.20,289.48 L182.80,289.33 L183.40,289.46 L184.00,289.31 L184.60,289.49 L185.20,289.28 L185.80,289.50 L186.40,289.27 L187.00,289.52 L187.60,289.27 L188.20,289.50 L188.80,289.36 L189.40,289.52 L190.00,289.27 L190.60,289.52 L191.20,289.31 L191.80,289.50 L192.40,289.35 L193.00,289.51 L193.60,289.31 L194.20,289.46 L194.80,289.37 L195.40,289.52 L196.00,289.27 L196.60,289.44 L197.20,289.29 L197.80,289.47 L198.40,289.36 L199.00,289.46 L199.60,289.29 L200.20,289.52 L200.80,289.37 L201.40,289.49 L202.00,289.37 L202.60,289.50 L203.20,289.34 L203.80,289.52 L204.40,289.27 L205.00,289.48 L205.60,289.27 L206.20,289.46 L206.80,289.37 L207.40,289.49 L208.00,289.37 L208.60,289.45 L209.20,289.33 L209.80,289.49 L210.40,289.36 L211.00,289.43 L211.60,289.28 L212.20,289.46 L212.80,289.27 L213.40,289.52 L214.00,289.33 L214.60,289.48 L215.20,289.32 L215.80,289.50 L216.40,289.31 L217.00,289.49 L217.60,289.31 L218.20,289.53 L218.80,289.32 L219.40,289.47 L220.00,289.30 L220.60,289.45 L221.20,289.34 L221.80,289.53 L222.40,289.32 L223.00,289.48 L223.60,289.37 L224.20,289.47 L224.80,289.31 L225.40,289.43 L226.00,289.31 L226.60,289.49 L227.20,289.37 L227.80,289.49 L228.40,289.32 L229.00,289.50 L229.60,289.34 L230.20,289.50 L230.80,289.29 L231.40,289.43 L232.00,289.37 L232.60,289.50 L233.20,289.27 L233.80,289.45 L234.40,289.32 L235.00,289.49 L235.60,289.34 L236.20,289.47 L236.80,289.34 L237.40,289.47 L238.00,289.31 L238.60,289.46 L239.20,289.33 L239.80,289.51 L240.40,289.37 L241.00,289.49 L241.60,289.30 L242.20,289.46 L242.80,289.35 L243.40,289.51 L244.00,289.35 L244.60,289.45 L245.20,289.33 L245.80,289.50 L246.40,289.36 L247.00,289.46 L247.60,289.34 L248.20,289.52 L248.80,289.33 L249.40,289.52 L250.00,289.36 L250.60,289.46 L251.20,289.30 L251.80,289.52 L252.40,289.33 L253.00,289.45 L253.60,289.36 L254.20,289.48 L254.80,289.35 L255.40,289.51 L256.00,289.28 L256.60,289.45 L257.20,289.34 L257.80,289.51 L258.40,289.31 L259.00,289.51 L259.60,289.34 L260.20,289.44 L260.80,289.34 L261.40,289.51 L262.00,289.40" fill="none" stroke="#111" stroke-width="0.7" stroke-linejoin="round"/>
<path d="M150.70,270.99 L151.35,266.88 L152.00,267.41 L152.75,263.27 L153.50,263.29 L154.25,258.56 L155.00,260.26 L155.65,256.24 L156.30,256.79 L156.95,252.36 L157.60,253.46 L158.32,248.68 L159.05,250.65 L159.78,246.62 L160.50,248.54 L161.50,241.86 L162.50,245.02 L163.22,243.05 L163.95,245.52 L164.68,243.67 L165.40,245.87 L166.10,243.82 L166.80,248.11 L167.55,246.68 L168.30,252.31 L169.50,256.00" fill="none" stroke="#111" stroke-width="0.7" stroke-linejoin="round"/>
<path d="M150.70,283.71 L151.31,282.63 L151.92,283.14 L152.53,281.83 L153.14,282.13 L153.76,280.85 L154.37,282.24 L154.98,279.69 L155.59,281.40 L156.20,279.51 L156.83,280.14 L157.47,278.02 L158.10,278.38 L158.73,276.78 L159.37,277.06 L160.00,274.33 L160.63,276.48 L161.27,273.02 L161.90,275.10 L162.54,272.22 L163.19,272.75 L163.83,269.82 L164.47,271.66 L165.11,267.68 L165.76,270.21 L166.40,267.07 L167.17,266.17 L167.93,260.24 L168.70,260.40 L169.38,256.63 L170.06,257.29 L170.74,253.64 L171.42,255.17 L172.10,248.88 L172.82,251.44 L173.55,247.11 L174.28,249.39 L175.00,243.56 L175.63,246.70 L176.27,240.35 L176.90,243.36 L177.57,239.07 L178.23,241.68 L178.90,237.07 L179.50,233.54 L180.10,235.14 L180.80,241.73 L181.43,239.94 L182.07,242.75 L182.70,241.50 L183.45,247.08 L184.20,246.61 L184.90,254.61 L185.60,256.88 L186.40,264.15 L187.20,265.17 L187.93,269.91 L188.67,271.26 L189.40,276.03 L190.10,276.53 L190.80,280.05 L191.50,280.71 L192.20,284.35 L192.97,284.85 L193.73,287.53 L194.50,288.28 L195.18,288.70 L195.86,288.67 L196.54,289.24 L197.22,289.04 L197.90,289.45 L198.50,289.34 L199.11,289.45 L199.71,289.32 L200.32,289.43 L200.92,289.30 L201.53,289.52 L202.13,289.27 L202.74,289.50 L203.34,289.27 L203.95,289.43 L204.55,289.34 L205.16,289.53 L205.76,289.29 L206.37,289.47 L206.97,289.27 L207.58,289.49 L208.18,289.29 L208.78,289.46 L209.39,289.35 L209.99,289.47 L210.60,289.36 L211.20,289.47 L211.81,289.27 L212.41,289.46 L213.02,289.37 L213.62,289.43 L214.23,289.36 L214.83,289.51 L215.44,289.33 L216.04,289.46 L216.65,289.36 L217.25,289.53 L217.86,289.33 L218.46,289.45 L219.07,289.37 L219.67,289.43 L220.27,289.36 L220.88,289.50 L221.48,289.36 L222.09,289.43 L222.69,289.32 L223.30,289.45 L223.90,289.27 L224.51,289.44 L225.11,289.32 L225.72,289.51 L226.32,289.33 L226.93,289.53 L227.53,289.32 L228.14,289.45 L228.74,289.33 L229.35,289.43 L229.95,289.33 L230.55,289.45 L231.16,289.28 L231.76,289.51 L232.37,289.32 L232.97,289.43 L233.58,289.35 L234.18,289.45 L234.79,289.35 L235.39,289.45 L236.00,289.28 L236.60,289.44 L237.21,289.37 L237.81,289.53 L238.42,289.31 L239.02,289.53 L239.63,289.33 L240.23,289.52 L240.83,289.30 L241.44,289.51 L242.04,289.29 L242.65,289.48 L243.25,289.36 L243.86,289.45 L244.46,289.28 L245.07,289.52 L245.67,289.28 L246.28,289.46 L246.88,289.30 L247.49,289.51 L248.09,289.31 L248.70,289.51 L249.30,289.32 L249.91,289.50 L250.51,289.30 L251.12,289.46 L251.72,289.28 L252.32,289.53 L252.93,289.37 L253.53,289.53 L254.14,289.27 L254.74,289.50 L255.35,289.37 L255.95,289.52 L256.56,289.36 L257.16,289.53 L257.77,289.30 L258.37,289.43 L258.98,289.36 L259.58,289.49 L260.19,289.31 L260.79,289.51 L261.40,289.27 L262.00,289.40" fill="none" stroke="#ff1010" stroke-width="0.7" stroke-linejoin="round"/>
<path d="M150.70,283.75 L151.31,282.38 L151.92,283.37 L152.53,281.89 L153.14,282.19 L153.76,281.25 L154.37,281.39 L154.98,280.52 L155.59,280.70 L156.20,279.36 L156.83,280.38 L157.47,277.75 L158.10,278.48 L158.73,276.57 L159.37,277.43 L160.00,275.22 L160.63,275.44 L161.27,273.24 L161.90,274.64 L162.54,272.42 L163.19,272.32 L163.83,270.68 L164.47,271.66 L165.11,268.90 L165.76,269.57 L166.40,266.04 L167.17,265.12 L167.93,260.95 L168.70,260.10 L169.38,255.64 L170.06,256.57 L170.74,253.50 L171.42,253.58 L172.10,250.69 L172.82,251.34 L173.55,246.43 L174.28,248.07 L175.00,244.88 L175.63,245.91 L176.27,241.03 L176.90,243.31 L177.57,239.53 L178.23,241.75 L178.90,236.99 L179.50,234.23 L180.10,234.93 L180.80,240.14 L181.43,239.29 L182.07,244.03 L182.70,241.77 L183.45,246.97 L184.20,248.30" fill="none" stroke="#ff1010" stroke-width="0.7" stroke-linejoin="round"/>
<text x="257.5" y="240.4" font-family="Liberation Sans" font-size="6.6" font-weight="normal" fill="#222" text-anchor="end" stroke="#222" stroke-width="0.1" textLength="34.8" lengthAdjust="spacingAndGlyphs">FMO control</text>
<text x="257.5" y="248.8" font-family="Liberation Sans" font-size="6.6" font-weight="normal" fill="#ff2a2a" text-anchor="end" stroke="#ff2a2a" stroke-width="0.1" textLength="48.4" lengthAdjust="spacingAndGlyphs">LAG-3 expression</text>
<text x="308.0" y="225.6" font-family="Liberation Sans" font-size="9.2" font-weight="bold" fill="#111" text-anchor="start" textLength="5.8" lengthAdjust="spacingAndGlyphs">D</text>
<line x1="405.5" y1="231.9" x2="405.5" y2="288.8" stroke="#b0b0b0" stroke-width="1.1"/>
<line x1="322.4" y1="232.4" x2="322.4" y2="288.8" stroke="#222" stroke-width="0.9"/>
<line x1="322.4" y1="288.8" x2="405.5" y2="288.8" stroke="#222" stroke-width="1.0"/>
<line x1="321.2" y1="288.8" x2="322.4" y2="288.8" stroke="#444" stroke-width="0.6"/>
<text x="318.0" y="290.7" font-family="Liberation Serif" font-size="5.8" font-weight="normal" fill="#222" text-anchor="end" textLength="2.5" lengthAdjust="spacingAndGlyphs" stroke="#222" stroke-width="0.08">0</text>
<line x1="321.2" y1="274.7" x2="322.4" y2="274.7" stroke="#444" stroke-width="0.6"/>
<text x="318.0" y="276.59999999999997" font-family="Liberation Serif" font-size="5.8" font-weight="normal" fill="#222" text-anchor="end" textLength="7.5" lengthAdjust="spacingAndGlyphs" stroke="#222" stroke-width="0.08">256</text>
<line x1="321.2" y1="260.6" x2="322.4" y2="260.6" stroke="#444" stroke-width="0.6"/>
<text x="318.0" y="262.5" font-family="Liberation Serif" font-size="5.8" font-weight="normal" fill="#222" text-anchor="end" textLength="7.5" lengthAdjust="spacingAndGlyphs" stroke="#222" stroke-width="0.08">512</text>
<line x1="321.2" y1="246.5" x2="322.4" y2="246.5" stroke="#444" stroke-width="0.6"/>
<text x="318.0" y="248.4" font-family="Liberation Serif" font-size="5.8" font-weight="normal" fill="#222" text-anchor="end" textLength="7.5" lengthAdjust="spacingAndGlyphs" stroke="#222" stroke-width="0.08">768</text>
<line x1="321.2" y1="232.4" x2="322.4" y2="232.4" stroke="#444" stroke-width="0.6"/>
<text x="318.0" y="234.3" font-family="Liberation Serif" font-size="5.8" font-weight="normal" fill="#222" text-anchor="end" textLength="10.0" lengthAdjust="spacingAndGlyphs" stroke="#222" stroke-width="0.08">1024</text>
<line x1="322.4" y1="288.8" x2="322.4" y2="290.0" stroke="#444" stroke-width="0.6"/>
<text x="322.59999999999997" y="296.8" font-family="Liberation Serif" font-size="5.8" fill="#222" stroke="#222" stroke-width="0.08" text-anchor="middle">10<tspan font-size="3.4" dy="-2.2">0</tspan></text>
<line x1="343.17499999999995" y1="288.8" x2="343.17499999999995" y2="290.0" stroke="#444" stroke-width="0.6"/>
<text x="343.37499999999994" y="296.8" font-family="Liberation Serif" font-size="5.8" fill="#222" stroke="#222" stroke-width="0.08" text-anchor="middle">10<tspan font-size="3.4" dy="-2.2">1</tspan></text>
<line x1="363.95" y1="288.8" x2="363.95" y2="290.0" stroke="#444" stroke-width="0.6"/>
<text x="364.15" y="296.8" font-family="Liberation Serif" font-size="5.8" fill="#222" stroke="#222" stroke-width="0.08" text-anchor="middle">10<tspan font-size="3.4" dy="-2.2">2</tspan></text>
<line x1="384.725" y1="288.8" x2="384.725" y2="290.0" stroke="#444" stroke-width="0.6"/>
<text x="384.925" y="296.8" font-family="Liberation Serif" font-size="5.8" fill="#222" stroke="#222" stroke-width="0.08" text-anchor="middle">10<tspan font-size="3.4" dy="-2.2">3</tspan></text>
<line x1="405.5" y1="288.8" x2="405.5" y2="290.0" stroke="#444" stroke-width="0.6"/>
<text x="405.7" y="296.8" font-family="Liberation Serif" font-size="5.8" fill="#222" stroke="#222" stroke-width="0.08" text-anchor="middle">10<tspan font-size="3.4" dy="-2.2">4</tspan></text>
<text transform="translate(305.9,260.1) rotate(-90)" font-family="Liberation Sans" font-size="6.4" fill="#222" stroke="#222" stroke-width="0.05" text-anchor="middle" textLength="16.5" lengthAdjust="spacingAndGlyphs">SSC-A</text>
<text x="363.95" y="304.6" font-family="Liberation Sans" font-size="6.4" font-weight="normal" fill="#222" text-anchor="middle" textLength="15.0" lengthAdjust="spacingAndGlyphs" stroke="#222" stroke-width="0.12">Gal-3</text>
<path d="M326.6 284.1h.8v.8h-.8zM325.0 283.8h.8v.8h-.8zM331.5 281.5h.8v.8h-.8zM330.0 283.8h.8v.8h-.8zM374.7 279.5h.8v.8h-.8zM337.6 280.9h.8v.8h-.8zM332.8 283.2h.8v.8h-.8zM368.7 279.6h.8v.8h-.8zM334.9 284.2h.8v.8h-.8zM331.4 283.8h.8v.8h-.8zM333.6 284.2h.8v.8h-.8zM335.9 283.9h.8v.8h-.8zM335.1 282.7h.8v.8h-.8zM331.3 283.1h.8v.8h-.8zM325.9 283.7h.8v.8h-.8zM384.6 278.5h.8v.8h-.8zM370.3 281.0h.8v.8h-.8zM333.4 283.4h.8v.8h-.8zM337.7 282.7h.8v.8h-.8zM367.2 282.5h.8v.8h-.8zM333.5 283.6h.8v.8h-.8zM324.9 283.7h.8v.8h-.8zM387.0 276.1h.8v.8h-.8zM330.7 283.0h.8v.8h-.8zM328.4 282.8h.8v.8h-.8zM337.7 281.4h.8v.8h-.8zM386.1 276.0h.8v.8h-.8zM337.3 285.5h.8v.8h-.8zM331.3 282.8h.8v.8h-.8zM374.7 279.5h.8v.8h-.8zM330.8 284.5h.8v.8h-.8zM373.8 278.7h.8v.8h-.8zM371.9 279.5h.8v.8h-.8zM373.3 280.4h.8v.8h-.8zM335.5 282.8h.8v.8h-.8zM368.1 280.2h.8v.8h-.8zM333.5 282.4h.8v.8h-.8zM336.6 284.8h.8v.8h-.8zM387.1 276.8h.8v.8h-.8zM334.6 283.6h.8v.8h-.8zM324.3 285.2h.8v.8h-.8zM326.2 284.2h.8v.8h-.8zM360.7 283.0h.8v.8h-.8zM368.2 281.0h.8v.8h-.8zM337.9 280.5h.8v.8h-.8zM324.6 284.5h.8v.8h-.8zM330.2 284.6h.8v.8h-.8zM338.0 284.8h.8v.8h-.8zM333.3 283.7h.8v.8h-.8zM333.4 283.7h.8v.8h-.8zM372.6 281.8h.8v.8h-.8zM371.6 277.9h.8v.8h-.8zM377.6 280.1h.8v.8h-.8zM336.1 282.0h.8v.8h-.8zM337.0 284.6h.8v.8h-.8zM332.8 282.1h.8v.8h-.8zM340.8 282.7h.8v.8h-.8zM373.8 277.3h.8v.8h-.8zM337.7 284.6h.8v.8h-.8zM337.9 283.1h.8v.8h-.8zM331.8 283.4h.8v.8h-.8zM336.4 284.5h.8v.8h-.8zM366.9 278.3h.8v.8h-.8zM385.8 276.8h.8v.8h-.8zM334.6 284.0h.8v.8h-.8zM371.1 278.4h.8v.8h-.8zM331.9 281.4h.8v.8h-.8zM343.8 284.1h.8v.8h-.8zM328.8 282.8h.8v.8h-.8zM331.8 284.6h.8v.8h-.8zM331.7 284.3h.8v.8h-.8zM326.5 282.2h.8v.8h-.8zM334.4 285.2h.8v.8h-.8zM337.9 280.9h.8v.8h-.8zM334.8 284.1h.8v.8h-.8zM336.6 282.2h.8v.8h-.8zM336.5 283.3h.8v.8h-.8zM333.2 281.9h.8v.8h-.8zM333.3 283.8h.8v.8h-.8zM333.4 285.6h.8v.8h-.8zM330.7 284.3h.8v.8h-.8zM376.0 278.9h.8v.8h-.8zM324.6 283.4h.8v.8h-.8zM334.8 284.5h.8v.8h-.8zM327.7 283.6h.8v.8h-.8zM384.4 281.0h.8v.8h-.8zM337.3 282.5h.8v.8h-.8zM340.7 286.6h.8v.8h-.8zM387.7 277.5h.8v.8h-.8zM382.7 279.6h.8v.8h-.8zM324.7 283.8h.8v.8h-.8zM369.3 280.9h.8v.8h-.8zM336.9 284.7h.8v.8h-.8zM333.6 282.6h.8v.8h-.8zM336.2 283.2h.8v.8h-.8zM367.0 282.2h.8v.8h-.8zM384.8 278.9h.8v.8h-.8zM381.9 277.5h.8v.8h-.8zM332.7 281.8h.8v.8h-.8zM339.0 282.5h.8v.8h-.8zM330.8 283.6h.8v.8h-.8zM331.8 281.7h.8v.8h-.8zM336.7 281.2h.8v.8h-.8zM329.0 282.8h.8v.8h-.8zM382.4 277.2h.8v.8h-.8zM327.4 285.1h.8v.8h-.8zM332.6 283.2h.8v.8h-.8zM380.3 281.3h.8v.8h-.8zM334.2 283.4h.8v.8h-.8zM327.1 285.4h.8v.8h-.8zM328.5 284.2h.8v.8h-.8zM371.8 284.1h.8v.8h-.8zM379.6 278.7h.8v.8h-.8zM329.7 281.2h.8v.8h-.8zM324.0 283.0h.8v.8h-.8zM324.5 284.6h.8v.8h-.8zM336.3 282.5h.8v.8h-.8zM334.1 281.7h.8v.8h-.8zM327.8 285.0h.8v.8h-.8zM336.2 282.9h.8v.8h-.8zM370.0 279.5h.8v.8h-.8zM325.9 280.8h.8v.8h-.8zM385.7 278.2h.8v.8h-.8zM327.6 281.6h.8v.8h-.8zM325.1 280.7h.8v.8h-.8zM326.5 283.2h.8v.8h-.8zM335.2 286.3h.8v.8h-.8zM334.0 282.4h.8v.8h-.8zM329.4 283.9h.8v.8h-.8zM326.0 282.4h.8v.8h-.8zM333.5 282.4h.8v.8h-.8zM337.9 284.5h.8v.8h-.8zM326.0 284.7h.8v.8h-.8zM323.6 285.0h.8v.8h-.8zM331.9 284.3h.8v.8h-.8zM376.4 280.5h.8v.8h-.8zM336.4 281.9h.8v.8h-.8zM326.9 285.9h.8v.8h-.8zM364.3 281.8h.8v.8h-.8zM337.0 283.9h.8v.8h-.8zM324.0 284.2h.8v.8h-.8zM334.7 283.2h.8v.8h-.8zM336.1 281.7h.8v.8h-.8zM381.3 279.1h.8v.8h-.8zM334.3 285.8h.8v.8h-.8zM326.1 284.4h.8v.8h-.8zM337.0 284.3h.8v.8h-.8zM329.7 284.2h.8v.8h-.8zM376.7 276.6h.8v.8h-.8zM329.5 283.8h.8v.8h-.8zM325.3 284.0h.8v.8h-.8zM328.3 284.2h.8v.8h-.8zM340.9 283.6h.8v.8h-.8zM332.8 282.7h.8v.8h-.8zM338.0 284.8h.8v.8h-.8zM335.7 282.6h.8v.8h-.8zM383.1 276.8h.8v.8h-.8zM336.1 283.2h.8v.8h-.8zM328.0 282.7h.8v.8h-.8zM329.4 283.2h.8v.8h-.8zM323.2 285.6h.8v.8h-.8zM333.1 281.5h.8v.8h-.8zM331.6 281.1h.8v.8h-.8zM326.0 284.1h.8v.8h-.8zM329.3 284.4h.8v.8h-.8zM331.3 283.6h.8v.8h-.8zM335.7 285.2h.8v.8h-.8zM372.1 281.7h.8v.8h-.8zM325.9 283.7h.8v.8h-.8zM337.0 281.1h.8v.8h-.8zM337.5 278.9h.8v.8h-.8zM372.4 280.1h.8v.8h-.8zM323.7 283.6h.8v.8h-.8zM368.3 278.8h.8v.8h-.8zM323.7 283.5h.8v.8h-.8zM324.3 283.0h.8v.8h-.8zM366.9 281.9h.8v.8h-.8zM323.9 284.5h.8v.8h-.8zM337.5 284.0h.8v.8h-.8zM333.8 284.8h.8v.8h-.8zM366.7 279.0h.8v.8h-.8zM336.6 282.2h.8v.8h-.8zM334.9 286.1h.8v.8h-.8zM337.0 286.3h.8v.8h-.8zM337.8 282.8h.8v.8h-.8zM331.9 284.7h.8v.8h-.8zM380.9 276.6h.8v.8h-.8zM326.7 282.0h.8v.8h-.8zM327.9 281.0h.8v.8h-.8zM384.5 278.8h.8v.8h-.8zM334.0 285.4h.8v.8h-.8zM341.1 281.4h.8v.8h-.8zM335.9 281.2h.8v.8h-.8zM323.4 283.2h.8v.8h-.8zM325.6 284.7h.8v.8h-.8zM337.0 282.7h.8v.8h-.8zM336.0 282.7h.8v.8h-.8zM376.5 280.5h.8v.8h-.8zM335.9 282.0h.8v.8h-.8zM335.8 287.1h.8v.8h-.8zM330.7 283.4h.8v.8h-.8zM332.7 284.4h.8v.8h-.8zM334.0 283.7h.8v.8h-.8zM327.3 281.8h.8v.8h-.8zM337.0 283.4h.8v.8h-.8zM336.5 282.3h.8v.8h-.8zM328.1 283.1h.8v.8h-.8zM382.8 276.7h.8v.8h-.8zM332.0 283.1h.8v.8h-.8zM337.5 282.4h.8v.8h-.8zM388.0 277.6h.8v.8h-.8zM336.3 284.5h.8v.8h-.8zM374.3 277.3h.8v.8h-.8zM333.4 282.5h.8v.8h-.8zM328.0 284.2h.8v.8h-.8zM330.5 286.0h.8v.8h-.8zM330.7 283.4h.8v.8h-.8zM384.1 281.7h.8v.8h-.8zM335.2 283.4h.8v.8h-.8zM323.5 281.6h.8v.8h-.8zM378.4 279.4h.8v.8h-.8zM333.1 282.5h.8v.8h-.8zM330.8 283.5h.8v.8h-.8zM337.3 286.5h.8v.8h-.8zM327.4 283.4h.8v.8h-.8zM337.2 281.6h.8v.8h-.8zM328.8 283.1h.8v.8h-.8zM325.6 286.1h.8v.8h-.8zM336.6 282.7h.8v.8h-.8zM328.3 283.0h.8v.8h-.8zM329.3 284.6h.8v.8h-.8zM326.6 284.4h.8v.8h-.8zM333.7 283.4h.8v.8h-.8zM343.7 284.8h.8v.8h-.8zM335.8 282.8h.8v.8h-.8zM323.1 283.6h.8v.8h-.8zM340.1 283.9h.8v.8h-.8zM331.9 283.3h.8v.8h-.8zM329.1 284.2h.8v.8h-.8zM330.0 284.6h.8v.8h-.8zM333.6 282.4h.8v.8h-.8zM337.8 280.9h.8v.8h-.8zM337.7 284.5h.8v.8h-.8zM333.7 284.8h.8v.8h-.8zM323.6 286.1h.8v.8h-.8zM337.9 284.4h.8v.8h-.8zM370.6 278.3h.8v.8h-.8z" fill="#000" fill-opacity="0.08"/><path d="M361.7 281.8h.8v.8h-.8zM331.4 286.4h.8v.8h-.8zM338.9 283.7h.8v.8h-.8zM338.9 286.0h.8v.8h-.8zM333.5 282.2h.8v.8h-.8zM342.9 284.4h.8v.8h-.8zM343.6 286.5h.8v.8h-.8zM334.8 282.0h.8v.8h-.8zM362.0 277.4h.8v.8h-.8zM324.3 282.1h.8v.8h-.8zM337.8 284.3h.8v.8h-.8zM330.3 284.0h.8v.8h-.8zM337.6 282.6h.8v.8h-.8zM343.0 284.1h.8v.8h-.8zM331.5 286.0h.8v.8h-.8zM339.8 285.4h.8v.8h-.8zM341.3 284.2h.8v.8h-.8zM340.5 283.3h.8v.8h-.8zM336.0 282.1h.8v.8h-.8zM341.5 281.9h.8v.8h-.8zM341.7 281.1h.8v.8h-.8zM342.9 282.6h.8v.8h-.8zM332.1 286.3h.8v.8h-.8zM337.2 283.3h.8v.8h-.8zM330.3 284.4h.8v.8h-.8zM338.5 282.4h.8v.8h-.8zM336.8 284.1h.8v.8h-.8zM333.1 281.8h.8v.8h-.8zM327.6 280.7h.8v.8h-.8zM343.5 279.6h.8v.8h-.8zM330.3 281.9h.8v.8h-.8zM341.9 282.4h.8v.8h-.8zM337.2 283.1h.8v.8h-.8zM333.2 283.2h.8v.8h-.8zM369.2 280.4h.8v.8h-.8zM337.0 283.6h.8v.8h-.8zM332.5 283.3h.8v.8h-.8zM325.8 283.0h.8v.8h-.8zM339.6 283.7h.8v.8h-.8zM342.2 280.9h.8v.8h-.8zM331.7 284.5h.8v.8h-.8zM338.9 283.1h.8v.8h-.8zM333.2 282.5h.8v.8h-.8zM329.8 283.8h.8v.8h-.8zM336.3 286.1h.8v.8h-.8zM336.2 282.3h.8v.8h-.8zM331.1 283.2h.8v.8h-.8zM334.4 282.7h.8v.8h-.8zM338.4 283.2h.8v.8h-.8zM338.1 282.6h.8v.8h-.8zM338.9 282.6h.8v.8h-.8zM328.7 284.2h.8v.8h-.8zM361.1 281.7h.8v.8h-.8zM338.7 284.9h.8v.8h-.8zM370.4 278.4h.8v.8h-.8zM364.1 282.2h.8v.8h-.8zM337.0 282.8h.8v.8h-.8zM329.8 285.0h.8v.8h-.8zM341.7 281.7h.8v.8h-.8zM376.5 282.4h.8v.8h-.8zM343.1 280.5h.8v.8h-.8zM362.0 281.4h.8v.8h-.8zM337.5 283.5h.8v.8h-.8zM338.6 282.5h.8v.8h-.8zM329.6 285.5h.8v.8h-.8zM343.7 281.5h.8v.8h-.8zM378.8 279.8h.8v.8h-.8zM341.4 284.1h.8v.8h-.8zM342.7 284.4h.8v.8h-.8zM339.5 284.2h.8v.8h-.8zM330.3 282.9h.8v.8h-.8zM333.8 280.9h.8v.8h-.8zM365.7 281.0h.8v.8h-.8zM331.8 280.2h.8v.8h-.8zM337.2 284.0h.8v.8h-.8zM341.8 283.5h.8v.8h-.8zM327.3 283.9h.8v.8h-.8zM341.7 283.1h.8v.8h-.8zM343.0 281.1h.8v.8h-.8zM333.6 281.7h.8v.8h-.8zM338.7 284.2h.8v.8h-.8zM381.8 278.1h.8v.8h-.8zM331.0 285.7h.8v.8h-.8zM332.8 283.8h.8v.8h-.8zM341.9 281.8h.8v.8h-.8zM364.8 282.5h.8v.8h-.8zM330.8 282.7h.8v.8h-.8zM331.4 284.8h.8v.8h-.8zM337.6 282.9h.8v.8h-.8zM327.8 284.3h.8v.8h-.8zM324.9 284.9h.8v.8h-.8zM341.7 282.8h.8v.8h-.8zM336.9 283.4h.8v.8h-.8zM333.9 282.5h.8v.8h-.8zM333.2 283.9h.8v.8h-.8zM339.6 280.8h.8v.8h-.8zM325.4 283.0h.8v.8h-.8zM340.8 281.1h.8v.8h-.8zM337.9 283.6h.8v.8h-.8zM361.7 283.2h.8v.8h-.8zM336.9 282.4h.8v.8h-.8zM332.9 282.8h.8v.8h-.8zM341.5 282.7h.8v.8h-.8zM329.2 285.4h.8v.8h-.8zM324.4 284.9h.8v.8h-.8zM338.4 283.2h.8v.8h-.8zM335.1 279.8h.8v.8h-.8zM339.1 281.9h.8v.8h-.8zM331.4 284.9h.8v.8h-.8zM339.4 283.4h.8v.8h-.8zM329.9 282.9h.8v.8h-.8zM328.1 284.3h.8v.8h-.8zM341.6 281.8h.8v.8h-.8zM342.8 281.7h.8v.8h-.8zM334.8 283.3h.8v.8h-.8zM340.8 283.3h.8v.8h-.8zM333.6 282.0h.8v.8h-.8zM343.8 284.1h.8v.8h-.8zM338.5 283.1h.8v.8h-.8zM373.0 277.4h.8v.8h-.8zM341.2 283.4h.8v.8h-.8zM335.9 284.6h.8v.8h-.8zM341.6 281.8h.8v.8h-.8zM337.3 285.0h.8v.8h-.8zM340.8 285.3h.8v.8h-.8zM325.4 284.4h.8v.8h-.8zM326.0 284.1h.8v.8h-.8zM339.8 281.9h.8v.8h-.8zM335.2 285.0h.8v.8h-.8zM367.2 282.1h.8v.8h-.8zM324.6 285.0h.8v.8h-.8zM335.4 282.6h.8v.8h-.8zM331.9 282.6h.8v.8h-.8zM338.8 281.1h.8v.8h-.8zM361.6 280.9h.8v.8h-.8zM339.1 282.5h.8v.8h-.8zM338.6 281.6h.8v.8h-.8zM342.6 287.0h.8v.8h-.8zM325.4 285.9h.8v.8h-.8zM337.6 282.1h.8v.8h-.8zM333.9 285.6h.8v.8h-.8zM328.1 284.4h.8v.8h-.8zM336.7 279.8h.8v.8h-.8zM370.1 278.8h.8v.8h-.8zM343.0 283.1h.8v.8h-.8zM334.8 282.2h.8v.8h-.8zM323.3 285.7h.8v.8h-.8zM336.6 282.9h.8v.8h-.8zM333.0 282.0h.8v.8h-.8zM325.9 286.2h.8v.8h-.8zM335.8 285.3h.8v.8h-.8zM325.2 284.7h.8v.8h-.8zM332.1 285.5h.8v.8h-.8zM335.8 283.7h.8v.8h-.8zM341.9 281.4h.8v.8h-.8zM324.6 285.2h.8v.8h-.8zM337.2 284.0h.8v.8h-.8zM331.4 284.6h.8v.8h-.8zM333.3 283.8h.8v.8h-.8zM329.0 282.7h.8v.8h-.8zM374.3 281.1h.8v.8h-.8zM360.9 280.5h.8v.8h-.8zM366.0 280.5h.8v.8h-.8zM360.6 280.2h.8v.8h-.8zM331.6 282.8h.8v.8h-.8zM342.4 284.7h.8v.8h-.8zM336.7 284.3h.8v.8h-.8zM337.3 282.6h.8v.8h-.8zM340.3 283.6h.8v.8h-.8zM343.8 283.1h.8v.8h-.8zM328.8 283.1h.8v.8h-.8zM335.2 285.5h.8v.8h-.8zM375.1 281.8h.8v.8h-.8zM325.8 284.8h.8v.8h-.8zM338.9 282.0h.8v.8h-.8zM336.0 284.2h.8v.8h-.8zM364.7 280.0h.8v.8h-.8zM327.8 284.6h.8v.8h-.8zM324.2 283.1h.8v.8h-.8zM337.9 284.1h.8v.8h-.8zM334.3 284.2h.8v.8h-.8zM369.4 279.6h.8v.8h-.8zM333.4 283.7h.8v.8h-.8zM342.2 286.0h.8v.8h-.8zM331.0 283.3h.8v.8h-.8zM338.8 282.2h.8v.8h-.8zM343.1 283.1h.8v.8h-.8zM336.8 284.1h.8v.8h-.8zM328.9 283.3h.8v.8h-.8zM331.5 283.8h.8v.8h-.8zM325.7 283.4h.8v.8h-.8zM361.2 283.5h.8v.8h-.8zM326.1 284.4h.8v.8h-.8zM324.2 285.1h.8v.8h-.8zM340.2 281.7h.8v.8h-.8zM341.4 284.1h.8v.8h-.8zM324.8 282.9h.8v.8h-.8zM328.4 284.3h.8v.8h-.8zM325.8 284.5h.8v.8h-.8zM331.2 281.8h.8v.8h-.8zM336.9 284.4h.8v.8h-.8zM336.4 283.6h.8v.8h-.8zM376.7 278.5h.8v.8h-.8zM336.1 281.0h.8v.8h-.8zM337.9 281.6h.8v.8h-.8zM339.4 282.0h.8v.8h-.8zM337.1 284.6h.8v.8h-.8zM338.4 282.5h.8v.8h-.8zM324.1 284.2h.8v.8h-.8zM338.6 284.5h.8v.8h-.8zM342.7 285.9h.8v.8h-.8zM372.0 279.7h.8v.8h-.8zM323.8 284.0h.8v.8h-.8zM334.6 284.1h.8v.8h-.8zM327.3 286.5h.8v.8h-.8zM341.5 281.4h.8v.8h-.8zM371.5 280.9h.8v.8h-.8zM333.8 281.3h.8v.8h-.8zM335.2 285.5h.8v.8h-.8zM339.4 285.0h.8v.8h-.8zM333.6 282.5h.8v.8h-.8zM373.3 281.7h.8v.8h-.8zM338.0 281.8h.8v.8h-.8zM332.5 283.4h.8v.8h-.8zM384.2 276.2h.8v.8h-.8zM336.0 281.7h.8v.8h-.8zM329.2 282.6h.8v.8h-.8zM332.5 283.6h.8v.8h-.8zM343.3 282.5h.8v.8h-.8zM333.6 283.0h.8v.8h-.8zM325.7 285.3h.8v.8h-.8zM327.9 281.4h.8v.8h-.8zM333.3 283.8h.8v.8h-.8zM330.7 284.7h.8v.8h-.8zM342.3 283.0h.8v.8h-.8zM333.3 283.4h.8v.8h-.8zM326.1 286.8h.8v.8h-.8zM363.2 279.2h.8v.8h-.8zM336.5 283.4h.8v.8h-.8zM330.4 281.9h.8v.8h-.8zM342.8 283.9h.8v.8h-.8zM338.3 282.3h.8v.8h-.8zM361.6 282.1h.8v.8h-.8zM340.2 284.4h.8v.8h-.8zM334.1 283.7h.8v.8h-.8zM376.2 279.7h.8v.8h-.8zM334.9 285.8h.8v.8h-.8zM336.4 284.7h.8v.8h-.8zM333.7 284.1h.8v.8h-.8zM333.3 283.1h.8v.8h-.8zM331.7 284.1h.8v.8h-.8zM376.5 279.5h.8v.8h-.8zM362.5 282.2h.8v.8h-.8zM333.7 285.3h.8v.8h-.8zM362.5 281.4h.8v.8h-.8zM343.7 283.9h.8v.8h-.8zM338.4 283.6h.8v.8h-.8zM329.9 282.1h.8v.8h-.8zM330.7 282.5h.8v.8h-.8zM343.5 281.5h.8v.8h-.8zM339.6 285.4h.8v.8h-.8zM337.0 286.1h.8v.8h-.8zM326.2 282.6h.8v.8h-.8zM326.3 285.0h.8v.8h-.8zM343.8 283.0h.8v.8h-.8zM362.8 280.0h.8v.8h-.8zM325.3 284.9h.8v.8h-.8zM325.3 285.2h.8v.8h-.8zM323.0 285.0h.8v.8h-.8zM340.2 284.1h.8v.8h-.8zM342.0 282.5h.8v.8h-.8zM327.9 282.3h.8v.8h-.8zM338.3 284.5h.8v.8h-.8zM331.1 283.1h.8v.8h-.8zM326.8 285.5h.8v.8h-.8zM343.1 283.3h.8v.8h-.8zM343.8 284.4h.8v.8h-.8zM326.6 284.3h.8v.8h-.8zM341.5 283.9h.8v.8h-.8zM363.1 279.6h.8v.8h-.8zM328.7 281.1h.8v.8h-.8zM361.1 280.1h.8v.8h-.8zM339.3 286.2h.8v.8h-.8zM336.3 284.1h.8v.8h-.8zM383.2 278.1h.8v.8h-.8zM335.3 284.7h.8v.8h-.8zM325.5 283.9h.8v.8h-.8zM335.1 282.9h.8v.8h-.8zM343.1 284.4h.8v.8h-.8zM343.7 283.4h.8v.8h-.8zM336.6 282.1h.8v.8h-.8zM342.1 286.1h.8v.8h-.8zM328.7 283.0h.8v.8h-.8zM325.8 284.1h.8v.8h-.8zM333.0 282.4h.8v.8h-.8zM341.6 282.1h.8v.8h-.8zM324.1 283.8h.8v.8h-.8zM335.7 284.3h.8v.8h-.8zM339.7 283.9h.8v.8h-.8zM332.9 284.7h.8v.8h-.8zM336.6 284.1h.8v.8h-.8zM336.0 283.1h.8v.8h-.8zM333.9 282.2h.8v.8h-.8zM370.3 279.5h.8v.8h-.8zM333.8 286.3h.8v.8h-.8zM339.9 282.2h.8v.8h-.8zM337.0 282.6h.8v.8h-.8zM340.5 285.1h.8v.8h-.8zM330.3 282.8h.8v.8h-.8zM333.9 283.0h.8v.8h-.8zM334.4 283.0h.8v.8h-.8zM335.2 284.3h.8v.8h-.8zM363.5 282.0h.8v.8h-.8zM327.9 284.1h.8v.8h-.8zM329.1 283.8h.8v.8h-.8zM334.6 285.7h.8v.8h-.8zM328.0 284.1h.8v.8h-.8zM333.7 285.4h.8v.8h-.8zM386.7 278.8h.8v.8h-.8zM335.3 282.5h.8v.8h-.8zM330.5 284.9h.8v.8h-.8zM338.6 281.8h.8v.8h-.8zM328.6 283.4h.8v.8h-.8zM338.6 280.9h.8v.8h-.8zM381.1 281.1h.8v.8h-.8zM334.0 284.6h.8v.8h-.8zM333.6 283.8h.8v.8h-.8zM337.5 284.4h.8v.8h-.8zM329.3 283.6h.8v.8h-.8zM328.6 284.4h.8v.8h-.8zM342.0 281.4h.8v.8h-.8zM333.8 283.7h.8v.8h-.8zM342.4 285.5h.8v.8h-.8zM329.1 282.7h.8v.8h-.8zM380.8 276.9h.8v.8h-.8zM338.3 281.5h.8v.8h-.8zM328.5 282.9h.8v.8h-.8zM335.9 284.6h.8v.8h-.8zM371.4 280.0h.8v.8h-.8zM343.6 283.9h.8v.8h-.8zM335.6 280.6h.8v.8h-.8zM336.0 284.5h.8v.8h-.8zM362.5 282.6h.8v.8h-.8zM343.8 282.5h.8v.8h-.8zM386.0 278.6h.8v.8h-.8zM335.7 286.9h.8v.8h-.8zM334.7 282.4h.8v.8h-.8zM363.6 281.7h.8v.8h-.8zM373.1 277.4h.8v.8h-.8zM332.0 284.9h.8v.8h-.8zM360.9 280.8h.8v.8h-.8zM374.8 279.3h.8v.8h-.8zM375.1 280.5h.8v.8h-.8zM334.0 285.4h.8v.8h-.8zM323.2 283.5h.8v.8h-.8zM339.8 283.2h.8v.8h-.8zM335.0 281.6h.8v.8h-.8zM331.7 282.6h.8v.8h-.8zM373.1 278.5h.8v.8h-.8zM342.9 283.7h.8v.8h-.8zM328.3 284.8h.8v.8h-.8zM343.5 283.0h.8v.8h-.8zM360.8 282.6h.8v.8h-.8zM364.2 281.9h.8v.8h-.8zM334.6 284.4h.8v.8h-.8zM343.6 286.3h.8v.8h-.8zM361.5 280.6h.8v.8h-.8zM329.9 285.8h.8v.8h-.8zM362.4 281.8h.8v.8h-.8zM333.0 282.4h.8v.8h-.8zM342.4 279.3h.8v.8h-.8zM331.1 284.3h.8v.8h-.8zM328.1 281.8h.8v.8h-.8zM337.6 281.1h.8v.8h-.8zM335.2 283.0h.8v.8h-.8zM337.1 284.0h.8v.8h-.8zM342.5 282.9h.8v.8h-.8zM327.3 283.2h.8v.8h-.8zM325.8 284.1h.8v.8h-.8zM362.1 280.9h.8v.8h-.8zM373.8 280.1h.8v.8h-.8zM360.9 280.7h.8v.8h-.8zM334.8 284.6h.8v.8h-.8zM332.6 283.1h.8v.8h-.8zM334.6 282.8h.8v.8h-.8zM342.4 282.6h.8v.8h-.8zM366.6 281.0h.8v.8h-.8zM326.7 283.5h.8v.8h-.8zM337.0 284.0h.8v.8h-.8zM332.1 282.7h.8v.8h-.8zM335.2 282.8h.8v.8h-.8zM328.1 284.4h.8v.8h-.8zM329.4 284.5h.8v.8h-.8zM341.2 284.6h.8v.8h-.8zM335.5 283.3h.8v.8h-.8z" fill="#000" fill-opacity="0.25"/><path d="M361.0 283.8h.8v.8h-.8zM343.7 286.3h.8v.8h-.8zM343.0 284.9h.8v.8h-.8zM343.8 282.9h.8v.8h-.8zM338.6 282.6h.8v.8h-.8zM324.2 283.5h.8v.8h-.8zM343.0 285.1h.8v.8h-.8zM331.4 286.3h.8v.8h-.8zM343.1 283.1h.8v.8h-.8zM342.3 285.3h.8v.8h-.8zM341.8 281.7h.8v.8h-.8zM323.6 283.6h.8v.8h-.8zM343.2 283.0h.8v.8h-.8zM341.6 285.4h.8v.8h-.8zM342.5 281.2h.8v.8h-.8zM328.4 282.6h.8v.8h-.8zM327.7 282.3h.8v.8h-.8zM327.2 283.5h.8v.8h-.8zM343.3 284.6h.8v.8h-.8zM324.6 283.3h.8v.8h-.8zM341.6 283.0h.8v.8h-.8zM328.9 283.0h.8v.8h-.8zM341.4 281.4h.8v.8h-.8zM338.8 282.9h.8v.8h-.8zM340.4 283.3h.8v.8h-.8zM338.2 284.8h.8v.8h-.8zM337.8 284.1h.8v.8h-.8zM337.2 283.4h.8v.8h-.8zM337.4 283.3h.8v.8h-.8zM332.1 283.4h.8v.8h-.8zM343.5 282.0h.8v.8h-.8zM324.4 284.5h.8v.8h-.8zM335.8 284.5h.8v.8h-.8zM336.8 287.1h.8v.8h-.8zM340.9 284.6h.8v.8h-.8zM336.8 282.3h.8v.8h-.8zM331.2 282.2h.8v.8h-.8zM336.2 283.8h.8v.8h-.8zM341.3 283.9h.8v.8h-.8zM339.9 282.4h.8v.8h-.8zM326.8 282.7h.8v.8h-.8zM327.0 283.9h.8v.8h-.8zM337.8 283.0h.8v.8h-.8zM339.6 282.3h.8v.8h-.8zM339.8 281.3h.8v.8h-.8zM343.9 282.4h.8v.8h-.8zM343.6 283.7h.8v.8h-.8zM340.5 281.7h.8v.8h-.8zM342.2 280.6h.8v.8h-.8zM360.3 282.9h.8v.8h-.8zM339.7 282.0h.8v.8h-.8zM338.5 282.9h.8v.8h-.8zM326.2 284.3h.8v.8h-.8zM361.4 280.4h.8v.8h-.8zM342.7 280.3h.8v.8h-.8zM325.3 281.4h.8v.8h-.8zM337.8 284.7h.8v.8h-.8zM362.1 284.9h.8v.8h-.8zM340.2 283.0h.8v.8h-.8zM339.6 284.0h.8v.8h-.8zM327.7 284.2h.8v.8h-.8zM325.5 283.1h.8v.8h-.8zM344.0 281.4h.8v.8h-.8zM343.0 282.4h.8v.8h-.8zM323.9 283.7h.8v.8h-.8zM338.5 284.8h.8v.8h-.8zM332.4 283.7h.8v.8h-.8zM343.7 284.9h.8v.8h-.8zM332.4 283.4h.8v.8h-.8zM340.0 282.7h.8v.8h-.8zM329.4 282.8h.8v.8h-.8zM335.2 285.9h.8v.8h-.8zM364.2 280.0h.8v.8h-.8zM325.2 284.0h.8v.8h-.8zM338.6 280.5h.8v.8h-.8zM340.9 286.1h.8v.8h-.8zM333.1 285.0h.8v.8h-.8zM338.1 283.4h.8v.8h-.8zM344.0 283.3h.8v.8h-.8zM327.7 283.4h.8v.8h-.8zM336.0 285.2h.8v.8h-.8zM343.4 282.3h.8v.8h-.8zM335.7 283.2h.8v.8h-.8zM340.1 283.7h.8v.8h-.8zM344.0 282.4h.8v.8h-.8zM341.3 284.0h.8v.8h-.8zM332.5 282.5h.8v.8h-.8zM341.2 283.9h.8v.8h-.8zM364.1 279.8h.8v.8h-.8zM341.5 282.8h.8v.8h-.8zM333.1 283.4h.8v.8h-.8zM335.4 281.4h.8v.8h-.8zM338.1 283.3h.8v.8h-.8zM339.3 281.2h.8v.8h-.8zM342.5 279.8h.8v.8h-.8zM362.9 281.3h.8v.8h-.8zM333.0 284.1h.8v.8h-.8zM338.7 282.7h.8v.8h-.8zM342.0 282.1h.8v.8h-.8zM330.2 284.1h.8v.8h-.8zM341.2 284.7h.8v.8h-.8zM361.3 281.3h.8v.8h-.8zM340.0 281.4h.8v.8h-.8zM342.5 283.2h.8v.8h-.8zM325.2 283.9h.8v.8h-.8zM330.3 282.7h.8v.8h-.8zM331.0 284.9h.8v.8h-.8zM326.6 283.6h.8v.8h-.8zM343.0 285.6h.8v.8h-.8zM339.5 282.9h.8v.8h-.8zM337.9 282.4h.8v.8h-.8zM336.3 283.0h.8v.8h-.8zM335.6 281.4h.8v.8h-.8zM360.3 279.7h.8v.8h-.8zM343.2 282.2h.8v.8h-.8zM342.2 283.1h.8v.8h-.8zM341.2 283.3h.8v.8h-.8zM331.2 284.9h.8v.8h-.8zM337.0 282.9h.8v.8h-.8zM342.8 283.1h.8v.8h-.8zM330.0 283.7h.8v.8h-.8zM343.1 281.8h.8v.8h-.8zM330.1 284.2h.8v.8h-.8zM341.1 282.4h.8v.8h-.8zM337.7 282.6h.8v.8h-.8zM343.0 282.2h.8v.8h-.8zM363.9 282.6h.8v.8h-.8zM343.4 283.4h.8v.8h-.8zM338.8 284.4h.8v.8h-.8zM341.8 284.0h.8v.8h-.8zM333.3 284.9h.8v.8h-.8zM335.8 282.3h.8v.8h-.8zM343.7 280.8h.8v.8h-.8zM327.1 283.4h.8v.8h-.8zM331.3 285.0h.8v.8h-.8zM330.8 282.6h.8v.8h-.8zM343.6 285.3h.8v.8h-.8zM363.4 279.2h.8v.8h-.8zM329.8 284.7h.8v.8h-.8zM361.4 280.6h.8v.8h-.8zM341.1 282.0h.8v.8h-.8zM340.8 284.0h.8v.8h-.8zM342.8 283.6h.8v.8h-.8zM334.0 283.1h.8v.8h-.8zM341.6 282.6h.8v.8h-.8zM360.1 280.4h.8v.8h-.8zM327.5 283.3h.8v.8h-.8zM343.0 280.4h.8v.8h-.8zM340.3 279.8h.8v.8h-.8zM334.4 283.1h.8v.8h-.8zM325.9 286.2h.8v.8h-.8zM325.9 285.2h.8v.8h-.8zM341.3 283.2h.8v.8h-.8zM326.1 284.2h.8v.8h-.8zM342.8 280.3h.8v.8h-.8zM334.6 287.0h.8v.8h-.8zM334.6 283.1h.8v.8h-.8zM331.4 283.1h.8v.8h-.8zM335.9 281.1h.8v.8h-.8zM343.8 286.7h.8v.8h-.8zM342.7 282.1h.8v.8h-.8zM333.4 282.3h.8v.8h-.8zM342.3 285.1h.8v.8h-.8zM330.8 283.2h.8v.8h-.8zM337.9 282.4h.8v.8h-.8zM338.0 283.8h.8v.8h-.8zM328.8 283.4h.8v.8h-.8zM343.8 284.3h.8v.8h-.8zM324.5 285.0h.8v.8h-.8zM338.3 284.7h.8v.8h-.8zM343.2 283.3h.8v.8h-.8zM335.8 282.2h.8v.8h-.8zM333.3 284.4h.8v.8h-.8zM335.5 281.3h.8v.8h-.8zM340.3 283.2h.8v.8h-.8zM363.1 281.6h.8v.8h-.8zM336.3 282.3h.8v.8h-.8zM339.8 283.3h.8v.8h-.8zM341.7 282.9h.8v.8h-.8zM334.0 284.0h.8v.8h-.8zM339.8 282.7h.8v.8h-.8zM335.8 283.4h.8v.8h-.8zM339.6 279.6h.8v.8h-.8zM343.6 281.2h.8v.8h-.8zM335.3 282.8h.8v.8h-.8zM331.5 285.1h.8v.8h-.8zM342.2 283.4h.8v.8h-.8zM363.6 282.6h.8v.8h-.8zM335.1 282.6h.8v.8h-.8zM334.8 283.0h.8v.8h-.8zM340.1 282.6h.8v.8h-.8zM333.7 284.4h.8v.8h-.8zM324.9 284.3h.8v.8h-.8z" fill="#000" fill-opacity="0.42"/><path d="M341.4 282.6h.8v.8h-.8zM353.1 283.7h.8v.8h-.8zM340.8 282.5h.8v.8h-.8zM345.8 282.2h.8v.8h-.8zM348.3 281.2h.8v.8h-.8zM345.9 280.0h.8v.8h-.8zM351.2 281.9h.8v.8h-.8zM344.1 279.5h.8v.8h-.8zM350.8 284.0h.8v.8h-.8zM346.3 283.7h.8v.8h-.8zM359.4 282.4h.8v.8h-.8zM345.1 281.8h.8v.8h-.8zM339.7 282.2h.8v.8h-.8zM356.1 282.3h.8v.8h-.8zM346.9 282.6h.8v.8h-.8zM343.5 284.7h.8v.8h-.8zM342.8 284.5h.8v.8h-.8zM347.7 282.6h.8v.8h-.8zM364.7 281.3h.8v.8h-.8zM344.3 283.0h.8v.8h-.8zM357.5 281.7h.8v.8h-.8zM345.6 282.7h.8v.8h-.8zM351.7 280.9h.8v.8h-.8zM349.7 283.1h.8v.8h-.8zM346.3 280.8h.8v.8h-.8zM363.2 279.6h.8v.8h-.8zM342.4 284.2h.8v.8h-.8zM343.5 284.6h.8v.8h-.8zM347.9 282.8h.8v.8h-.8zM357.3 278.9h.8v.8h-.8zM347.9 281.5h.8v.8h-.8zM353.3 283.8h.8v.8h-.8zM349.6 281.4h.8v.8h-.8zM355.5 284.3h.8v.8h-.8zM350.4 282.9h.8v.8h-.8zM345.4 283.7h.8v.8h-.8zM351.3 281.0h.8v.8h-.8zM350.2 283.9h.8v.8h-.8zM340.6 281.7h.8v.8h-.8zM345.7 283.1h.8v.8h-.8zM346.5 280.0h.8v.8h-.8zM349.5 281.9h.8v.8h-.8zM347.6 284.1h.8v.8h-.8zM347.7 282.7h.8v.8h-.8zM344.4 281.4h.8v.8h-.8zM355.6 281.3h.8v.8h-.8zM349.6 282.6h.8v.8h-.8zM343.9 282.2h.8v.8h-.8zM345.7 282.0h.8v.8h-.8zM348.5 280.4h.8v.8h-.8zM344.6 285.6h.8v.8h-.8zM352.9 280.5h.8v.8h-.8zM338.7 285.5h.8v.8h-.8zM354.6 278.4h.8v.8h-.8zM352.2 283.5h.8v.8h-.8zM341.8 285.4h.8v.8h-.8zM344.5 284.9h.8v.8h-.8zM349.7 284.1h.8v.8h-.8zM363.4 283.1h.8v.8h-.8zM352.2 284.2h.8v.8h-.8zM347.7 281.7h.8v.8h-.8zM364.0 280.9h.8v.8h-.8zM350.6 282.6h.8v.8h-.8zM347.4 280.8h.8v.8h-.8zM350.4 284.2h.8v.8h-.8zM340.2 283.7h.8v.8h-.8zM348.9 285.0h.8v.8h-.8zM346.4 284.1h.8v.8h-.8zM341.7 283.4h.8v.8h-.8zM351.6 282.4h.8v.8h-.8zM347.4 283.7h.8v.8h-.8zM348.1 278.3h.8v.8h-.8zM346.0 284.6h.8v.8h-.8zM345.5 283.5h.8v.8h-.8zM343.3 282.7h.8v.8h-.8zM348.3 281.3h.8v.8h-.8zM350.9 279.5h.8v.8h-.8zM351.7 282.9h.8v.8h-.8zM348.1 284.6h.8v.8h-.8zM354.4 278.4h.8v.8h-.8zM354.0 284.3h.8v.8h-.8zM348.9 285.2h.8v.8h-.8zM344.8 280.2h.8v.8h-.8zM342.5 284.2h.8v.8h-.8zM344.5 281.6h.8v.8h-.8zM354.7 280.3h.8v.8h-.8zM349.6 283.1h.8v.8h-.8zM355.1 280.9h.8v.8h-.8zM351.0 280.8h.8v.8h-.8zM344.2 283.2h.8v.8h-.8zM348.7 281.4h.8v.8h-.8zM345.5 283.0h.8v.8h-.8zM345.2 283.0h.8v.8h-.8zM351.8 284.2h.8v.8h-.8zM356.2 282.3h.8v.8h-.8zM354.2 283.4h.8v.8h-.8zM355.5 279.9h.8v.8h-.8zM340.5 280.7h.8v.8h-.8zM352.7 279.2h.8v.8h-.8zM351.8 278.8h.8v.8h-.8zM352.0 283.6h.8v.8h-.8zM345.1 285.2h.8v.8h-.8zM346.0 283.6h.8v.8h-.8zM339.4 285.0h.8v.8h-.8zM349.5 280.6h.8v.8h-.8zM354.9 279.7h.8v.8h-.8zM345.4 281.2h.8v.8h-.8zM347.0 282.4h.8v.8h-.8zM347.6 283.5h.8v.8h-.8zM346.9 281.4h.8v.8h-.8zM348.6 280.6h.8v.8h-.8zM350.5 281.2h.8v.8h-.8zM358.6 283.0h.8v.8h-.8zM352.7 283.7h.8v.8h-.8zM345.6 281.6h.8v.8h-.8zM355.4 281.0h.8v.8h-.8zM348.1 283.8h.8v.8h-.8zM342.7 283.2h.8v.8h-.8zM341.1 284.1h.8v.8h-.8zM351.1 282.0h.8v.8h-.8zM345.4 280.4h.8v.8h-.8zM346.2 285.6h.8v.8h-.8zM339.9 282.3h.8v.8h-.8zM351.8 282.0h.8v.8h-.8zM347.2 284.2h.8v.8h-.8zM348.8 284.3h.8v.8h-.8zM350.5 283.7h.8v.8h-.8zM340.1 282.5h.8v.8h-.8zM345.1 283.1h.8v.8h-.8zM361.9 281.3h.8v.8h-.8zM350.4 283.9h.8v.8h-.8zM360.6 280.8h.8v.8h-.8zM349.2 280.3h.8v.8h-.8zM347.2 281.0h.8v.8h-.8zM349.5 282.3h.8v.8h-.8zM343.9 285.9h.8v.8h-.8zM351.2 281.9h.8v.8h-.8zM343.8 282.6h.8v.8h-.8zM354.1 281.7h.8v.8h-.8zM344.8 284.5h.8v.8h-.8zM348.5 280.9h.8v.8h-.8zM345.3 280.6h.8v.8h-.8zM342.7 286.1h.8v.8h-.8zM361.6 280.1h.8v.8h-.8zM356.2 282.8h.8v.8h-.8zM347.1 281.6h.8v.8h-.8zM349.9 283.1h.8v.8h-.8zM351.2 281.3h.8v.8h-.8zM346.4 284.1h.8v.8h-.8zM345.7 284.2h.8v.8h-.8zM352.7 283.6h.8v.8h-.8zM350.4 281.0h.8v.8h-.8zM358.6 281.1h.8v.8h-.8zM351.9 282.7h.8v.8h-.8zM344.9 285.2h.8v.8h-.8zM350.0 279.9h.8v.8h-.8zM359.6 279.4h.8v.8h-.8zM347.4 286.3h.8v.8h-.8zM346.8 286.5h.8v.8h-.8zM357.6 280.4h.8v.8h-.8zM348.1 283.6h.8v.8h-.8zM346.1 281.9h.8v.8h-.8zM342.3 280.8h.8v.8h-.8zM343.8 281.1h.8v.8h-.8zM359.4 281.6h.8v.8h-.8zM349.4 281.3h.8v.8h-.8zM349.6 280.3h.8v.8h-.8zM346.9 282.9h.8v.8h-.8zM352.7 284.4h.8v.8h-.8zM350.0 283.8h.8v.8h-.8zM357.2 284.8h.8v.8h-.8zM349.3 279.9h.8v.8h-.8zM338.9 285.5h.8v.8h-.8zM351.3 280.5h.8v.8h-.8zM344.2 283.0h.8v.8h-.8zM346.0 283.4h.8v.8h-.8zM344.8 282.8h.8v.8h-.8zM351.8 284.7h.8v.8h-.8zM341.6 283.6h.8v.8h-.8zM351.6 281.5h.8v.8h-.8zM358.3 279.7h.8v.8h-.8zM349.7 282.1h.8v.8h-.8zM349.0 284.6h.8v.8h-.8zM349.8 282.4h.8v.8h-.8zM349.0 282.6h.8v.8h-.8zM347.7 280.9h.8v.8h-.8zM348.2 285.2h.8v.8h-.8zM351.2 282.0h.8v.8h-.8zM345.3 284.4h.8v.8h-.8zM352.3 282.6h.8v.8h-.8zM361.6 282.2h.8v.8h-.8zM358.5 283.2h.8v.8h-.8zM353.8 282.1h.8v.8h-.8zM341.7 286.2h.8v.8h-.8zM355.9 285.2h.8v.8h-.8zM348.6 284.1h.8v.8h-.8zM354.4 281.7h.8v.8h-.8zM352.7 280.7h.8v.8h-.8zM343.7 284.4h.8v.8h-.8zM345.8 282.1h.8v.8h-.8zM343.5 281.9h.8v.8h-.8zM345.2 282.9h.8v.8h-.8zM347.0 283.9h.8v.8h-.8zM358.4 283.9h.8v.8h-.8zM350.4 280.7h.8v.8h-.8zM360.9 281.3h.8v.8h-.8zM349.1 283.2h.8v.8h-.8zM340.8 283.2h.8v.8h-.8zM347.0 283.4h.8v.8h-.8zM350.6 281.1h.8v.8h-.8zM355.2 279.9h.8v.8h-.8zM355.7 282.2h.8v.8h-.8zM362.3 281.2h.8v.8h-.8zM349.3 282.3h.8v.8h-.8zM348.6 281.9h.8v.8h-.8zM345.5 282.3h.8v.8h-.8zM345.4 281.7h.8v.8h-.8zM342.0 285.6h.8v.8h-.8zM341.1 282.5h.8v.8h-.8zM346.9 283.7h.8v.8h-.8zM354.9 284.6h.8v.8h-.8zM351.3 286.0h.8v.8h-.8zM353.5 282.8h.8v.8h-.8zM338.1 281.8h.8v.8h-.8zM344.9 282.7h.8v.8h-.8zM360.3 282.9h.8v.8h-.8zM347.0 281.8h.8v.8h-.8zM349.6 282.6h.8v.8h-.8zM356.5 281.6h.8v.8h-.8zM350.8 283.0h.8v.8h-.8zM351.2 281.4h.8v.8h-.8zM348.3 283.2h.8v.8h-.8zM339.4 283.2h.8v.8h-.8zM355.8 280.3h.8v.8h-.8zM350.0 283.8h.8v.8h-.8zM345.4 283.3h.8v.8h-.8zM355.9 281.9h.8v.8h-.8zM345.9 283.2h.8v.8h-.8zM357.9 281.8h.8v.8h-.8zM342.0 284.4h.8v.8h-.8zM352.1 284.1h.8v.8h-.8zM352.7 279.9h.8v.8h-.8zM343.0 281.6h.8v.8h-.8zM358.9 284.0h.8v.8h-.8zM359.5 281.0h.8v.8h-.8zM362.9 282.8h.8v.8h-.8zM342.8 284.6h.8v.8h-.8zM357.2 280.9h.8v.8h-.8zM344.0 284.4h.8v.8h-.8zM352.9 279.6h.8v.8h-.8zM347.9 281.3h.8v.8h-.8zM351.0 281.5h.8v.8h-.8zM342.4 281.6h.8v.8h-.8zM350.2 281.8h.8v.8h-.8zM342.3 283.7h.8v.8h-.8zM346.7 281.7h.8v.8h-.8zM348.9 281.3h.8v.8h-.8zM348.9 282.7h.8v.8h-.8zM352.9 282.2h.8v.8h-.8zM342.7 284.1h.8v.8h-.8zM353.3 281.2h.8v.8h-.8zM348.2 282.9h.8v.8h-.8zM347.1 282.4h.8v.8h-.8zM354.0 282.4h.8v.8h-.8zM342.5 285.6h.8v.8h-.8zM354.7 281.1h.8v.8h-.8zM354.5 282.7h.8v.8h-.8zM355.6 282.4h.8v.8h-.8zM345.0 284.9h.8v.8h-.8zM349.7 281.2h.8v.8h-.8zM347.8 282.5h.8v.8h-.8zM339.6 284.0h.8v.8h-.8zM344.5 283.6h.8v.8h-.8zM346.8 279.9h.8v.8h-.8zM343.6 280.2h.8v.8h-.8zM359.4 282.6h.8v.8h-.8zM343.5 285.4h.8v.8h-.8zM356.0 280.4h.8v.8h-.8zM357.1 282.8h.8v.8h-.8zM352.2 283.4h.8v.8h-.8zM350.0 283.3h.8v.8h-.8zM351.3 282.8h.8v.8h-.8zM356.9 282.1h.8v.8h-.8zM353.0 282.5h.8v.8h-.8zM350.2 282.3h.8v.8h-.8zM353.5 283.5h.8v.8h-.8zM345.2 281.9h.8v.8h-.8zM344.1 284.6h.8v.8h-.8zM360.8 280.0h.8v.8h-.8zM351.2 281.3h.8v.8h-.8zM347.8 283.6h.8v.8h-.8zM347.0 282.4h.8v.8h-.8zM361.2 280.1h.8v.8h-.8zM359.4 282.8h.8v.8h-.8zM346.5 285.0h.8v.8h-.8zM349.6 280.9h.8v.8h-.8zM350.0 281.9h.8v.8h-.8zM348.8 283.3h.8v.8h-.8zM346.9 284.0h.8v.8h-.8zM351.3 280.0h.8v.8h-.8zM352.9 281.9h.8v.8h-.8zM344.4 284.3h.8v.8h-.8zM354.2 283.2h.8v.8h-.8zM342.8 282.1h.8v.8h-.8zM339.7 280.6h.8v.8h-.8zM345.7 282.4h.8v.8h-.8zM348.7 283.5h.8v.8h-.8zM349.0 284.7h.8v.8h-.8zM350.7 284.0h.8v.8h-.8zM354.7 280.8h.8v.8h-.8zM350.6 282.3h.8v.8h-.8zM346.4 285.7h.8v.8h-.8zM350.6 282.7h.8v.8h-.8zM350.6 281.6h.8v.8h-.8zM346.3 281.8h.8v.8h-.8zM342.5 283.4h.8v.8h-.8zM343.1 280.3h.8v.8h-.8zM349.4 283.8h.8v.8h-.8zM344.7 284.2h.8v.8h-.8zM339.5 282.9h.8v.8h-.8zM349.7 282.6h.8v.8h-.8zM354.5 285.9h.8v.8h-.8zM350.2 280.8h.8v.8h-.8zM347.6 281.0h.8v.8h-.8zM362.2 276.9h.8v.8h-.8zM344.1 285.4h.8v.8h-.8zM350.1 279.5h.8v.8h-.8zM344.1 283.6h.8v.8h-.8zM345.6 280.5h.8v.8h-.8zM349.4 280.1h.8v.8h-.8zM347.1 282.3h.8v.8h-.8zM346.7 286.2h.8v.8h-.8zM343.1 282.4h.8v.8h-.8zM354.1 282.0h.8v.8h-.8zM348.2 283.1h.8v.8h-.8zM344.2 282.7h.8v.8h-.8zM349.0 284.5h.8v.8h-.8zM355.8 284.5h.8v.8h-.8zM346.2 284.4h.8v.8h-.8zM358.3 285.3h.8v.8h-.8zM354.5 282.7h.8v.8h-.8zM356.3 282.8h.8v.8h-.8zM358.4 281.2h.8v.8h-.8zM351.8 286.4h.8v.8h-.8zM339.0 282.9h.8v.8h-.8zM348.7 282.0h.8v.8h-.8zM360.7 282.9h.8v.8h-.8zM345.1 283.2h.8v.8h-.8zM349.5 283.1h.8v.8h-.8zM347.7 281.5h.8v.8h-.8zM346.4 283.0h.8v.8h-.8zM354.6 281.4h.8v.8h-.8zM356.7 281.2h.8v.8h-.8zM341.0 283.5h.8v.8h-.8zM347.1 284.7h.8v.8h-.8zM349.5 284.0h.8v.8h-.8zM352.5 280.9h.8v.8h-.8zM348.9 283.2h.8v.8h-.8zM344.1 284.4h.8v.8h-.8zM340.1 282.9h.8v.8h-.8zM341.3 284.3h.8v.8h-.8zM341.3 283.5h.8v.8h-.8zM347.2 282.6h.8v.8h-.8zM351.0 281.0h.8v.8h-.8zM360.6 280.3h.8v.8h-.8zM348.2 283.9h.8v.8h-.8zM351.1 281.2h.8v.8h-.8zM358.3 281.5h.8v.8h-.8zM344.6 279.9h.8v.8h-.8zM339.9 284.9h.8v.8h-.8zM346.7 281.8h.8v.8h-.8zM350.4 282.2h.8v.8h-.8zM352.5 282.5h.8v.8h-.8zM365.8 280.6h.8v.8h-.8zM346.7 282.4h.8v.8h-.8zM343.0 281.4h.8v.8h-.8zM350.2 281.6h.8v.8h-.8zM348.5 283.4h.8v.8h-.8zM344.9 283.1h.8v.8h-.8zM349.9 283.0h.8v.8h-.8zM355.1 282.6h.8v.8h-.8zM338.2 282.0h.8v.8h-.8zM347.0 284.0h.8v.8h-.8zM348.2 282.4h.8v.8h-.8zM356.0 280.0h.8v.8h-.8zM348.9 282.2h.8v.8h-.8zM346.6 285.6h.8v.8h-.8zM346.7 282.4h.8v.8h-.8zM347.3 283.3h.8v.8h-.8zM343.5 282.7h.8v.8h-.8zM342.3 282.6h.8v.8h-.8zM353.2 282.6h.8v.8h-.8zM351.4 282.7h.8v.8h-.8zM347.8 282.3h.8v.8h-.8zM348.5 284.9h.8v.8h-.8zM357.1 282.7h.8v.8h-.8zM354.9 280.1h.8v.8h-.8zM355.9 280.5h.8v.8h-.8zM361.4 281.7h.8v.8h-.8zM350.3 282.4h.8v.8h-.8zM346.2 281.2h.8v.8h-.8zM338.1 283.6h.8v.8h-.8zM352.6 281.4h.8v.8h-.8zM348.0 282.0h.8v.8h-.8zM347.4 285.7h.8v.8h-.8zM338.1 282.6h.8v.8h-.8zM345.9 284.6h.8v.8h-.8zM353.1 283.0h.8v.8h-.8zM364.2 280.6h.8v.8h-.8zM346.2 280.1h.8v.8h-.8zM348.7 284.5h.8v.8h-.8zM346.3 281.6h.8v.8h-.8zM342.1 283.4h.8v.8h-.8zM346.0 282.7h.8v.8h-.8zM347.2 283.5h.8v.8h-.8zM350.4 283.4h.8v.8h-.8zM349.6 282.8h.8v.8h-.8zM351.1 282.4h.8v.8h-.8zM354.9 283.7h.8v.8h-.8zM341.9 283.3h.8v.8h-.8zM348.6 283.3h.8v.8h-.8zM339.4 280.0h.8v.8h-.8zM340.1 284.5h.8v.8h-.8zM353.5 281.2h.8v.8h-.8zM353.4 281.8h.8v.8h-.8zM342.2 280.4h.8v.8h-.8zM362.2 280.0h.8v.8h-.8zM342.4 282.7h.8v.8h-.8zM338.1 283.2h.8v.8h-.8zM338.4 284.3h.8v.8h-.8zM342.4 283.2h.8v.8h-.8zM339.7 283.2h.8v.8h-.8zM345.7 285.7h.8v.8h-.8zM345.6 281.9h.8v.8h-.8zM342.2 280.5h.8v.8h-.8zM344.3 281.7h.8v.8h-.8zM346.7 282.1h.8v.8h-.8zM345.3 281.4h.8v.8h-.8zM347.7 282.7h.8v.8h-.8zM351.7 282.6h.8v.8h-.8zM349.7 281.8h.8v.8h-.8zM346.6 283.3h.8v.8h-.8zM346.1 284.2h.8v.8h-.8zM349.2 281.2h.8v.8h-.8zM346.9 283.0h.8v.8h-.8zM349.6 282.8h.8v.8h-.8zM357.7 278.4h.8v.8h-.8zM360.5 279.8h.8v.8h-.8zM350.8 281.8h.8v.8h-.8zM345.3 280.6h.8v.8h-.8zM351.6 279.8h.8v.8h-.8zM346.2 286.9h.8v.8h-.8zM347.2 283.7h.8v.8h-.8zM359.3 280.7h.8v.8h-.8zM346.5 281.8h.8v.8h-.8zM350.6 281.5h.8v.8h-.8zM353.6 283.4h.8v.8h-.8zM361.4 279.9h.8v.8h-.8zM344.8 281.9h.8v.8h-.8zM345.3 284.1h.8v.8h-.8zM347.3 282.0h.8v.8h-.8zM344.3 279.2h.8v.8h-.8zM353.0 280.6h.8v.8h-.8zM351.8 282.6h.8v.8h-.8zM349.9 281.9h.8v.8h-.8zM350.7 280.2h.8v.8h-.8zM345.6 284.9h.8v.8h-.8zM344.8 283.5h.8v.8h-.8zM354.7 282.4h.8v.8h-.8zM343.7 279.8h.8v.8h-.8zM361.2 279.4h.8v.8h-.8zM350.1 282.8h.8v.8h-.8zM358.8 277.4h.8v.8h-.8zM348.8 283.9h.8v.8h-.8zM345.6 285.1h.8v.8h-.8zM346.5 283.7h.8v.8h-.8zM349.0 283.6h.8v.8h-.8zM341.4 286.1h.8v.8h-.8zM344.5 281.1h.8v.8h-.8zM345.2 282.6h.8v.8h-.8zM346.7 281.4h.8v.8h-.8zM353.7 282.5h.8v.8h-.8zM349.6 282.8h.8v.8h-.8zM352.5 280.4h.8v.8h-.8zM346.0 285.6h.8v.8h-.8zM347.8 282.4h.8v.8h-.8zM344.4 282.5h.8v.8h-.8zM349.3 279.8h.8v.8h-.8zM350.8 283.3h.8v.8h-.8zM354.8 283.8h.8v.8h-.8zM349.6 283.2h.8v.8h-.8zM355.6 281.4h.8v.8h-.8zM346.6 284.4h.8v.8h-.8zM352.8 283.1h.8v.8h-.8zM349.0 284.3h.8v.8h-.8zM345.5 284.0h.8v.8h-.8zM347.1 282.3h.8v.8h-.8zM344.2 285.9h.8v.8h-.8zM352.2 283.1h.8v.8h-.8zM341.1 283.2h.8v.8h-.8zM345.1 283.7h.8v.8h-.8zM350.0 280.8h.8v.8h-.8zM356.1 278.8h.8v.8h-.8zM362.6 282.5h.8v.8h-.8zM345.5 285.4h.8v.8h-.8zM353.3 283.1h.8v.8h-.8zM344.4 280.3h.8v.8h-.8zM346.2 280.3h.8v.8h-.8zM339.4 285.8h.8v.8h-.8zM351.9 283.2h.8v.8h-.8zM342.9 284.0h.8v.8h-.8zM357.4 281.6h.8v.8h-.8zM339.7 282.5h.8v.8h-.8zM351.0 280.6h.8v.8h-.8zM338.1 283.7h.8v.8h-.8zM340.3 284.4h.8v.8h-.8zM358.1 282.1h.8v.8h-.8zM342.6 284.9h.8v.8h-.8zM347.6 281.6h.8v.8h-.8zM343.7 282.6h.8v.8h-.8zM354.6 280.5h.8v.8h-.8zM355.3 283.3h.8v.8h-.8zM339.2 284.9h.8v.8h-.8zM345.1 283.0h.8v.8h-.8zM344.9 284.6h.8v.8h-.8zM356.7 282.3h.8v.8h-.8zM340.2 283.0h.8v.8h-.8zM349.1 282.2h.8v.8h-.8zM352.0 282.4h.8v.8h-.8zM344.9 281.2h.8v.8h-.8zM346.7 281.8h.8v.8h-.8zM351.0 282.4h.8v.8h-.8zM341.3 283.7h.8v.8h-.8zM348.4 282.1h.8v.8h-.8zM347.1 283.5h.8v.8h-.8zM346.7 283.4h.8v.8h-.8zM341.6 286.3h.8v.8h-.8zM353.0 280.8h.8v.8h-.8zM354.9 284.6h.8v.8h-.8zM365.0 278.2h.8v.8h-.8zM358.7 281.7h.8v.8h-.8zM340.5 283.4h.8v.8h-.8zM344.2 284.7h.8v.8h-.8zM342.3 283.8h.8v.8h-.8zM349.2 281.8h.8v.8h-.8z" fill="#000" fill-opacity="0.58"/><path d="M346.9 280.8h.8v.8h-.8zM352.9 279.4h.8v.8h-.8zM350.0 282.6h.8v.8h-.8zM344.8 282.6h.8v.8h-.8zM348.4 281.4h.8v.8h-.8zM349.8 281.5h.8v.8h-.8zM354.0 279.5h.8v.8h-.8zM346.7 283.2h.8v.8h-.8zM351.9 283.2h.8v.8h-.8zM340.7 285.6h.8v.8h-.8zM349.9 283.6h.8v.8h-.8zM344.1 282.9h.8v.8h-.8zM343.5 280.9h.8v.8h-.8zM346.0 283.2h.8v.8h-.8zM348.0 284.0h.8v.8h-.8zM347.1 281.8h.8v.8h-.8zM352.9 279.3h.8v.8h-.8zM352.3 283.7h.8v.8h-.8zM353.3 280.1h.8v.8h-.8zM356.8 280.9h.8v.8h-.8zM349.6 284.0h.8v.8h-.8zM343.8 283.7h.8v.8h-.8zM345.1 284.9h.8v.8h-.8zM345.9 282.8h.8v.8h-.8zM356.4 281.5h.8v.8h-.8zM349.6 282.6h.8v.8h-.8zM346.8 282.9h.8v.8h-.8zM345.4 285.4h.8v.8h-.8zM355.6 281.5h.8v.8h-.8zM347.1 282.7h.8v.8h-.8zM346.9 282.5h.8v.8h-.8zM355.0 282.0h.8v.8h-.8zM345.8 282.6h.8v.8h-.8zM344.7 282.2h.8v.8h-.8zM356.7 283.2h.8v.8h-.8zM346.7 283.6h.8v.8h-.8zM349.4 280.6h.8v.8h-.8zM342.2 283.1h.8v.8h-.8zM350.4 282.5h.8v.8h-.8zM348.1 281.4h.8v.8h-.8zM355.2 281.3h.8v.8h-.8zM349.9 283.6h.8v.8h-.8zM340.3 282.7h.8v.8h-.8zM362.3 282.6h.8v.8h-.8zM343.2 282.4h.8v.8h-.8zM359.7 282.1h.8v.8h-.8zM348.1 282.6h.8v.8h-.8zM345.4 285.1h.8v.8h-.8zM350.0 280.8h.8v.8h-.8zM349.5 285.8h.8v.8h-.8zM344.1 287.1h.8v.8h-.8zM350.2 282.7h.8v.8h-.8zM346.1 284.0h.8v.8h-.8zM344.6 286.1h.8v.8h-.8zM353.1 284.1h.8v.8h-.8zM349.7 283.7h.8v.8h-.8zM346.4 284.0h.8v.8h-.8zM355.6 283.1h.8v.8h-.8zM340.2 282.3h.8v.8h-.8zM349.3 282.5h.8v.8h-.8zM346.7 284.2h.8v.8h-.8zM349.4 281.7h.8v.8h-.8zM339.5 282.9h.8v.8h-.8zM352.7 283.0h.8v.8h-.8zM354.8 284.1h.8v.8h-.8zM356.8 280.4h.8v.8h-.8zM343.8 283.9h.8v.8h-.8zM344.7 281.3h.8v.8h-.8zM347.8 284.3h.8v.8h-.8zM346.9 282.8h.8v.8h-.8zM358.9 280.2h.8v.8h-.8zM350.6 280.3h.8v.8h-.8zM346.6 281.4h.8v.8h-.8zM357.7 282.5h.8v.8h-.8zM352.0 281.5h.8v.8h-.8zM356.4 279.8h.8v.8h-.8zM345.5 283.6h.8v.8h-.8zM351.4 281.8h.8v.8h-.8zM356.2 279.3h.8v.8h-.8zM354.1 281.3h.8v.8h-.8zM346.0 281.5h.8v.8h-.8zM356.2 281.3h.8v.8h-.8zM363.1 279.0h.8v.8h-.8zM360.3 279.9h.8v.8h-.8zM347.8 282.4h.8v.8h-.8zM344.6 284.6h.8v.8h-.8zM352.1 281.6h.8v.8h-.8zM354.4 283.9h.8v.8h-.8zM349.5 280.9h.8v.8h-.8zM355.4 280.5h.8v.8h-.8zM338.4 284.0h.8v.8h-.8zM340.8 285.0h.8v.8h-.8zM341.0 282.8h.8v.8h-.8zM352.4 282.4h.8v.8h-.8zM348.7 283.0h.8v.8h-.8zM345.6 282.6h.8v.8h-.8zM347.3 281.0h.8v.8h-.8zM354.2 283.8h.8v.8h-.8zM345.1 280.5h.8v.8h-.8zM355.4 281.4h.8v.8h-.8zM348.9 283.6h.8v.8h-.8zM347.4 284.4h.8v.8h-.8zM350.7 281.3h.8v.8h-.8zM340.8 284.4h.8v.8h-.8zM348.5 282.1h.8v.8h-.8zM347.1 284.4h.8v.8h-.8zM349.7 284.9h.8v.8h-.8zM343.9 280.6h.8v.8h-.8zM343.6 286.6h.8v.8h-.8zM346.0 284.1h.8v.8h-.8zM349.6 279.6h.8v.8h-.8zM347.9 280.1h.8v.8h-.8zM347.0 281.1h.8v.8h-.8zM352.6 279.6h.8v.8h-.8zM349.1 281.9h.8v.8h-.8zM349.7 284.7h.8v.8h-.8zM345.1 279.7h.8v.8h-.8zM344.8 282.3h.8v.8h-.8zM356.5 279.5h.8v.8h-.8zM347.7 282.3h.8v.8h-.8zM347.7 283.8h.8v.8h-.8zM350.7 282.2h.8v.8h-.8zM350.7 283.1h.8v.8h-.8zM351.4 282.7h.8v.8h-.8zM355.0 279.6h.8v.8h-.8zM349.5 282.9h.8v.8h-.8zM348.3 281.9h.8v.8h-.8zM346.5 282.2h.8v.8h-.8zM350.5 282.0h.8v.8h-.8zM355.4 281.8h.8v.8h-.8zM340.9 285.0h.8v.8h-.8zM352.5 281.6h.8v.8h-.8zM350.4 280.1h.8v.8h-.8zM350.0 285.3h.8v.8h-.8zM340.4 281.7h.8v.8h-.8zM350.6 283.1h.8v.8h-.8zM349.0 281.4h.8v.8h-.8zM354.5 278.3h.8v.8h-.8zM349.3 280.2h.8v.8h-.8zM346.6 280.9h.8v.8h-.8zM346.5 282.2h.8v.8h-.8zM343.2 285.6h.8v.8h-.8zM340.7 282.2h.8v.8h-.8zM353.6 280.4h.8v.8h-.8zM345.1 282.1h.8v.8h-.8zM343.6 284.7h.8v.8h-.8zM342.5 280.5h.8v.8h-.8zM350.1 282.7h.8v.8h-.8zM346.4 283.2h.8v.8h-.8zM342.7 281.8h.8v.8h-.8zM346.4 285.3h.8v.8h-.8zM345.2 283.5h.8v.8h-.8zM354.5 286.2h.8v.8h-.8zM345.9 285.5h.8v.8h-.8zM355.4 281.2h.8v.8h-.8zM341.8 284.2h.8v.8h-.8zM346.8 278.9h.8v.8h-.8zM346.6 284.0h.8v.8h-.8zM340.9 285.0h.8v.8h-.8zM358.4 281.2h.8v.8h-.8zM351.0 284.5h.8v.8h-.8zM351.1 283.8h.8v.8h-.8zM352.9 280.8h.8v.8h-.8zM338.2 282.7h.8v.8h-.8zM351.2 284.0h.8v.8h-.8zM345.6 285.4h.8v.8h-.8zM346.3 282.0h.8v.8h-.8zM345.5 283.6h.8v.8h-.8zM339.3 284.3h.8v.8h-.8zM339.5 283.5h.8v.8h-.8zM341.6 282.7h.8v.8h-.8zM350.7 283.2h.8v.8h-.8zM347.6 283.2h.8v.8h-.8zM347.1 283.2h.8v.8h-.8zM353.7 283.2h.8v.8h-.8zM348.5 284.0h.8v.8h-.8zM355.8 280.5h.8v.8h-.8zM349.1 282.4h.8v.8h-.8zM348.7 284.4h.8v.8h-.8zM350.6 281.3h.8v.8h-.8zM351.9 282.6h.8v.8h-.8zM344.5 282.5h.8v.8h-.8zM354.2 282.8h.8v.8h-.8zM361.7 280.1h.8v.8h-.8zM364.8 279.8h.8v.8h-.8zM339.1 283.3h.8v.8h-.8zM348.7 281.7h.8v.8h-.8zM359.1 283.5h.8v.8h-.8zM347.3 281.2h.8v.8h-.8zM338.2 284.3h.8v.8h-.8zM345.4 284.0h.8v.8h-.8zM350.0 282.5h.8v.8h-.8zM350.0 283.5h.8v.8h-.8zM354.4 282.1h.8v.8h-.8zM350.5 279.6h.8v.8h-.8zM354.8 278.7h.8v.8h-.8zM355.1 284.1h.8v.8h-.8zM354.9 282.4h.8v.8h-.8zM353.2 282.9h.8v.8h-.8zM343.7 284.0h.8v.8h-.8zM350.5 284.7h.8v.8h-.8zM348.3 282.4h.8v.8h-.8zM351.9 285.2h.8v.8h-.8zM343.9 280.4h.8v.8h-.8zM347.7 281.6h.8v.8h-.8zM348.1 282.9h.8v.8h-.8zM347.3 285.9h.8v.8h-.8zM348.5 285.1h.8v.8h-.8zM359.1 281.1h.8v.8h-.8zM344.4 280.0h.8v.8h-.8zM356.2 283.7h.8v.8h-.8zM349.0 280.1h.8v.8h-.8zM350.0 284.1h.8v.8h-.8zM349.0 284.2h.8v.8h-.8zM343.5 284.5h.8v.8h-.8zM357.4 281.7h.8v.8h-.8zM354.7 283.8h.8v.8h-.8zM348.4 282.6h.8v.8h-.8zM341.2 284.4h.8v.8h-.8zM339.1 285.6h.8v.8h-.8zM352.9 281.3h.8v.8h-.8zM354.0 282.2h.8v.8h-.8zM348.9 282.9h.8v.8h-.8zM351.3 281.6h.8v.8h-.8zM353.4 283.7h.8v.8h-.8zM346.1 281.5h.8v.8h-.8zM340.7 281.7h.8v.8h-.8zM352.7 280.6h.8v.8h-.8zM344.2 282.6h.8v.8h-.8zM345.1 281.5h.8v.8h-.8zM343.0 283.6h.8v.8h-.8zM353.6 284.5h.8v.8h-.8zM349.2 283.1h.8v.8h-.8zM350.0 281.6h.8v.8h-.8zM352.9 281.9h.8v.8h-.8zM349.3 283.2h.8v.8h-.8zM344.9 281.6h.8v.8h-.8zM346.0 283.7h.8v.8h-.8zM338.7 283.4h.8v.8h-.8zM358.5 283.2h.8v.8h-.8zM351.5 282.1h.8v.8h-.8zM354.8 283.6h.8v.8h-.8zM340.4 283.7h.8v.8h-.8zM348.3 283.6h.8v.8h-.8zM345.2 281.9h.8v.8h-.8zM363.1 279.9h.8v.8h-.8zM338.7 284.4h.8v.8h-.8zM350.9 282.6h.8v.8h-.8zM357.3 283.6h.8v.8h-.8zM341.6 287.0h.8v.8h-.8zM346.8 281.9h.8v.8h-.8zM345.5 283.2h.8v.8h-.8zM347.0 284.4h.8v.8h-.8zM347.6 282.3h.8v.8h-.8zM347.5 283.2h.8v.8h-.8zM348.4 283.3h.8v.8h-.8zM349.2 283.4h.8v.8h-.8zM351.5 281.5h.8v.8h-.8zM349.3 283.7h.8v.8h-.8zM350.6 280.4h.8v.8h-.8zM348.5 283.7h.8v.8h-.8zM338.6 285.2h.8v.8h-.8zM346.9 285.7h.8v.8h-.8zM350.2 282.3h.8v.8h-.8zM340.9 285.2h.8v.8h-.8zM349.3 285.6h.8v.8h-.8zM350.5 283.2h.8v.8h-.8zM353.8 283.5h.8v.8h-.8zM346.9 282.6h.8v.8h-.8zM345.6 280.9h.8v.8h-.8zM355.7 281.5h.8v.8h-.8zM351.3 280.5h.8v.8h-.8zM350.6 281.3h.8v.8h-.8zM349.2 280.7h.8v.8h-.8zM349.9 282.3h.8v.8h-.8zM345.5 283.9h.8v.8h-.8zM348.3 283.4h.8v.8h-.8zM347.7 281.6h.8v.8h-.8zM351.2 281.0h.8v.8h-.8zM343.9 282.7h.8v.8h-.8zM355.6 283.8h.8v.8h-.8zM357.5 283.8h.8v.8h-.8zM346.0 283.3h.8v.8h-.8zM348.0 283.9h.8v.8h-.8zM339.0 285.7h.8v.8h-.8zM345.9 282.4h.8v.8h-.8zM352.6 282.8h.8v.8h-.8zM346.2 282.7h.8v.8h-.8zM342.9 282.5h.8v.8h-.8zM346.3 283.8h.8v.8h-.8zM352.1 283.2h.8v.8h-.8zM348.6 281.4h.8v.8h-.8zM345.5 280.7h.8v.8h-.8zM347.3 282.3h.8v.8h-.8zM345.9 284.8h.8v.8h-.8zM347.6 281.5h.8v.8h-.8zM346.1 283.6h.8v.8h-.8zM347.2 284.7h.8v.8h-.8zM355.9 281.6h.8v.8h-.8zM344.0 280.3h.8v.8h-.8zM349.8 284.2h.8v.8h-.8zM345.1 284.5h.8v.8h-.8zM347.6 283.5h.8v.8h-.8zM347.2 283.7h.8v.8h-.8zM354.0 283.7h.8v.8h-.8zM348.3 281.7h.8v.8h-.8zM348.0 283.0h.8v.8h-.8zM346.2 282.5h.8v.8h-.8zM354.9 282.1h.8v.8h-.8zM346.2 282.0h.8v.8h-.8zM354.9 282.5h.8v.8h-.8zM349.8 282.7h.8v.8h-.8zM349.0 283.8h.8v.8h-.8zM346.6 283.0h.8v.8h-.8zM343.4 285.1h.8v.8h-.8zM356.3 280.4h.8v.8h-.8zM348.4 284.8h.8v.8h-.8zM340.4 284.0h.8v.8h-.8zM344.3 281.2h.8v.8h-.8zM344.2 283.1h.8v.8h-.8zM350.0 284.5h.8v.8h-.8zM350.8 282.9h.8v.8h-.8zM349.2 283.1h.8v.8h-.8zM344.0 285.9h.8v.8h-.8zM343.5 285.5h.8v.8h-.8zM356.5 280.3h.8v.8h-.8zM348.0 281.2h.8v.8h-.8zM347.2 285.9h.8v.8h-.8zM351.7 282.3h.8v.8h-.8zM349.0 282.5h.8v.8h-.8zM354.8 280.4h.8v.8h-.8zM354.8 279.5h.8v.8h-.8zM342.0 282.7h.8v.8h-.8zM341.0 283.6h.8v.8h-.8zM343.2 282.0h.8v.8h-.8zM351.1 284.2h.8v.8h-.8zM352.2 283.1h.8v.8h-.8zM353.2 283.0h.8v.8h-.8zM350.0 283.0h.8v.8h-.8zM347.6 284.8h.8v.8h-.8zM354.9 277.4h.8v.8h-.8zM361.3 284.5h.8v.8h-.8zM350.4 282.6h.8v.8h-.8zM345.9 285.1h.8v.8h-.8zM343.0 280.1h.8v.8h-.8zM356.9 283.2h.8v.8h-.8zM344.0 284.9h.8v.8h-.8zM347.3 283.6h.8v.8h-.8zM340.0 279.0h.8v.8h-.8zM342.9 286.1h.8v.8h-.8zM349.8 281.9h.8v.8h-.8zM339.5 282.4h.8v.8h-.8zM347.7 282.2h.8v.8h-.8zM353.5 283.4h.8v.8h-.8zM350.6 281.8h.8v.8h-.8zM341.6 284.8h.8v.8h-.8zM345.6 283.0h.8v.8h-.8zM345.5 286.2h.8v.8h-.8zM348.4 284.4h.8v.8h-.8zM353.5 280.2h.8v.8h-.8zM339.5 282.5h.8v.8h-.8zM344.9 280.5h.8v.8h-.8zM350.7 279.3h.8v.8h-.8zM341.4 282.2h.8v.8h-.8zM349.3 282.1h.8v.8h-.8zM350.7 279.2h.8v.8h-.8zM342.9 281.6h.8v.8h-.8zM349.4 281.8h.8v.8h-.8zM350.5 282.4h.8v.8h-.8zM340.5 285.6h.8v.8h-.8zM350.0 282.1h.8v.8h-.8zM350.2 281.8h.8v.8h-.8zM350.6 282.9h.8v.8h-.8zM347.6 284.9h.8v.8h-.8zM350.5 285.6h.8v.8h-.8zM350.2 278.3h.8v.8h-.8zM353.5 281.8h.8v.8h-.8zM345.1 284.7h.8v.8h-.8zM347.5 284.4h.8v.8h-.8zM353.1 280.2h.8v.8h-.8zM355.2 284.3h.8v.8h-.8zM347.6 283.6h.8v.8h-.8zM348.6 281.3h.8v.8h-.8zM355.3 280.3h.8v.8h-.8zM349.0 280.7h.8v.8h-.8zM354.7 282.8h.8v.8h-.8zM344.4 282.4h.8v.8h-.8zM345.1 283.3h.8v.8h-.8zM358.3 284.5h.8v.8h-.8zM349.1 280.4h.8v.8h-.8zM345.2 280.9h.8v.8h-.8zM349.4 282.2h.8v.8h-.8zM349.4 282.9h.8v.8h-.8zM348.8 285.0h.8v.8h-.8zM354.7 280.1h.8v.8h-.8zM347.9 282.1h.8v.8h-.8zM345.9 282.5h.8v.8h-.8zM341.6 281.9h.8v.8h-.8zM346.8 280.1h.8v.8h-.8zM352.1 282.7h.8v.8h-.8zM345.6 281.9h.8v.8h-.8zM350.4 280.6h.8v.8h-.8zM344.8 284.6h.8v.8h-.8zM339.3 285.5h.8v.8h-.8zM343.9 281.2h.8v.8h-.8zM349.2 283.3h.8v.8h-.8zM355.6 280.6h.8v.8h-.8zM351.7 284.0h.8v.8h-.8zM341.6 283.3h.8v.8h-.8zM348.3 282.2h.8v.8h-.8zM340.9 282.5h.8v.8h-.8zM353.3 282.8h.8v.8h-.8zM354.0 281.5h.8v.8h-.8zM346.8 279.3h.8v.8h-.8zM349.6 281.0h.8v.8h-.8zM353.1 279.2h.8v.8h-.8zM347.8 284.6h.8v.8h-.8zM349.0 280.4h.8v.8h-.8zM347.9 283.6h.8v.8h-.8zM348.3 280.5h.8v.8h-.8zM349.8 281.8h.8v.8h-.8zM348.7 284.6h.8v.8h-.8zM349.8 283.7h.8v.8h-.8zM350.0 282.0h.8v.8h-.8zM351.9 281.4h.8v.8h-.8zM350.7 284.8h.8v.8h-.8zM357.8 281.8h.8v.8h-.8zM347.4 281.8h.8v.8h-.8zM348.6 280.8h.8v.8h-.8zM346.0 285.9h.8v.8h-.8zM341.5 283.5h.8v.8h-.8zM352.2 284.1h.8v.8h-.8zM345.2 282.3h.8v.8h-.8zM348.8 283.2h.8v.8h-.8zM349.9 282.3h.8v.8h-.8zM351.9 280.0h.8v.8h-.8zM351.3 284.2h.8v.8h-.8zM349.2 284.0h.8v.8h-.8zM350.0 282.7h.8v.8h-.8zM352.4 282.3h.8v.8h-.8zM356.5 286.0h.8v.8h-.8zM348.1 286.8h.8v.8h-.8zM362.3 281.4h.8v.8h-.8zM352.1 282.6h.8v.8h-.8zM347.6 286.9h.8v.8h-.8zM356.2 280.6h.8v.8h-.8zM341.5 283.0h.8v.8h-.8zM341.2 283.5h.8v.8h-.8zM338.1 281.7h.8v.8h-.8zM351.9 283.7h.8v.8h-.8zM348.0 282.7h.8v.8h-.8zM354.9 279.2h.8v.8h-.8zM346.9 283.2h.8v.8h-.8zM344.5 281.8h.8v.8h-.8zM346.9 284.2h.8v.8h-.8zM349.3 281.2h.8v.8h-.8zM349.1 282.7h.8v.8h-.8zM352.0 280.8h.8v.8h-.8zM343.3 283.4h.8v.8h-.8zM352.3 282.4h.8v.8h-.8zM341.8 284.0h.8v.8h-.8zM344.7 279.9h.8v.8h-.8zM346.4 282.6h.8v.8h-.8zM347.0 281.2h.8v.8h-.8zM355.9 281.7h.8v.8h-.8zM346.5 283.7h.8v.8h-.8zM355.0 282.5h.8v.8h-.8zM346.1 283.0h.8v.8h-.8zM342.6 283.5h.8v.8h-.8zM358.0 281.2h.8v.8h-.8zM347.4 282.6h.8v.8h-.8zM355.0 281.7h.8v.8h-.8zM349.5 283.7h.8v.8h-.8zM339.8 282.4h.8v.8h-.8zM346.9 282.9h.8v.8h-.8zM347.6 284.5h.8v.8h-.8zM344.2 283.7h.8v.8h-.8zM345.2 282.2h.8v.8h-.8zM346.8 282.7h.8v.8h-.8zM349.1 283.6h.8v.8h-.8zM353.6 281.1h.8v.8h-.8zM345.8 282.4h.8v.8h-.8zM360.4 282.2h.8v.8h-.8zM346.9 281.9h.8v.8h-.8zM345.3 283.4h.8v.8h-.8zM344.5 284.7h.8v.8h-.8zM347.5 283.7h.8v.8h-.8zM350.9 283.7h.8v.8h-.8zM343.4 283.1h.8v.8h-.8zM353.3 281.5h.8v.8h-.8zM342.4 283.8h.8v.8h-.8zM358.9 282.8h.8v.8h-.8zM345.5 283.5h.8v.8h-.8zM342.9 283.4h.8v.8h-.8zM356.9 282.5h.8v.8h-.8zM348.0 283.4h.8v.8h-.8zM346.8 282.0h.8v.8h-.8zM349.5 280.1h.8v.8h-.8zM348.0 283.7h.8v.8h-.8zM356.4 282.4h.8v.8h-.8zM359.6 280.6h.8v.8h-.8zM349.8 283.4h.8v.8h-.8zM350.6 281.3h.8v.8h-.8zM356.8 283.5h.8v.8h-.8zM355.1 282.5h.8v.8h-.8zM344.1 285.5h.8v.8h-.8zM356.5 282.6h.8v.8h-.8zM352.6 282.2h.8v.8h-.8zM348.6 283.4h.8v.8h-.8zM345.1 282.4h.8v.8h-.8zM347.0 283.5h.8v.8h-.8zM344.7 281.9h.8v.8h-.8zM347.7 281.0h.8v.8h-.8zM348.2 282.7h.8v.8h-.8zM351.7 281.0h.8v.8h-.8zM348.5 280.7h.8v.8h-.8zM352.2 281.9h.8v.8h-.8zM350.5 280.6h.8v.8h-.8zM354.5 282.5h.8v.8h-.8zM349.9 282.5h.8v.8h-.8zM343.2 283.8h.8v.8h-.8zM346.1 283.6h.8v.8h-.8zM348.5 282.3h.8v.8h-.8zM354.6 282.5h.8v.8h-.8zM352.2 279.9h.8v.8h-.8zM345.6 282.1h.8v.8h-.8zM354.5 282.3h.8v.8h-.8zM340.2 281.3h.8v.8h-.8zM349.0 282.7h.8v.8h-.8zM344.2 286.1h.8v.8h-.8z" fill="#000" fill-opacity="0.75"/><path d="M345.8 285.6h.8v.8h-.8zM351.3 281.6h.8v.8h-.8zM352.7 283.5h.8v.8h-.8zM356.1 280.0h.8v.8h-.8zM346.4 282.6h.8v.8h-.8zM350.7 280.6h.8v.8h-.8zM350.0 281.7h.8v.8h-.8zM345.2 282.3h.8v.8h-.8zM355.3 282.3h.8v.8h-.8zM358.0 282.1h.8v.8h-.8zM353.7 279.1h.8v.8h-.8zM347.5 284.9h.8v.8h-.8zM356.5 282.5h.8v.8h-.8zM344.9 282.4h.8v.8h-.8zM356.1 284.4h.8v.8h-.8zM348.9 285.4h.8v.8h-.8zM357.4 282.5h.8v.8h-.8zM344.9 281.2h.8v.8h-.8zM346.3 281.4h.8v.8h-.8zM347.7 282.1h.8v.8h-.8zM358.3 280.4h.8v.8h-.8zM352.2 281.9h.8v.8h-.8zM344.0 286.1h.8v.8h-.8zM345.6 280.5h.8v.8h-.8zM347.0 280.0h.8v.8h-.8zM347.8 280.9h.8v.8h-.8zM350.4 279.8h.8v.8h-.8zM347.2 283.6h.8v.8h-.8zM349.1 281.0h.8v.8h-.8zM345.6 284.0h.8v.8h-.8zM351.8 280.7h.8v.8h-.8zM346.0 281.9h.8v.8h-.8zM345.5 282.7h.8v.8h-.8zM356.4 281.4h.8v.8h-.8zM352.0 280.7h.8v.8h-.8zM352.6 285.8h.8v.8h-.8zM354.6 282.2h.8v.8h-.8zM346.4 280.3h.8v.8h-.8zM355.1 281.1h.8v.8h-.8zM347.9 282.0h.8v.8h-.8zM356.6 282.2h.8v.8h-.8zM358.4 281.1h.8v.8h-.8zM349.9 282.6h.8v.8h-.8zM346.4 283.6h.8v.8h-.8zM346.0 283.6h.8v.8h-.8zM350.3 281.8h.8v.8h-.8zM348.2 281.7h.8v.8h-.8zM351.0 282.3h.8v.8h-.8zM346.9 282.5h.8v.8h-.8zM346.4 281.6h.8v.8h-.8zM353.0 282.9h.8v.8h-.8zM349.0 284.4h.8v.8h-.8zM357.8 281.0h.8v.8h-.8zM352.2 282.7h.8v.8h-.8zM349.8 281.4h.8v.8h-.8zM344.0 281.5h.8v.8h-.8zM351.6 281.1h.8v.8h-.8zM355.2 282.6h.8v.8h-.8zM354.2 285.1h.8v.8h-.8zM347.6 280.4h.8v.8h-.8zM352.6 284.5h.8v.8h-.8zM350.5 282.9h.8v.8h-.8zM350.7 280.4h.8v.8h-.8zM350.0 281.2h.8v.8h-.8zM359.9 284.3h.8v.8h-.8zM344.6 283.6h.8v.8h-.8zM354.1 283.2h.8v.8h-.8zM353.2 281.2h.8v.8h-.8zM352.2 280.2h.8v.8h-.8zM344.9 283.9h.8v.8h-.8zM344.6 283.9h.8v.8h-.8zM345.9 282.6h.8v.8h-.8zM345.2 278.0h.8v.8h-.8zM350.6 282.5h.8v.8h-.8zM355.3 282.5h.8v.8h-.8zM350.8 284.6h.8v.8h-.8zM355.3 282.5h.8v.8h-.8zM348.2 282.7h.8v.8h-.8zM351.8 281.4h.8v.8h-.8zM353.6 283.4h.8v.8h-.8zM348.5 286.6h.8v.8h-.8zM347.9 281.2h.8v.8h-.8zM354.6 282.9h.8v.8h-.8zM352.6 282.2h.8v.8h-.8zM354.2 283.2h.8v.8h-.8zM345.7 283.4h.8v.8h-.8zM346.3 282.4h.8v.8h-.8zM344.7 280.7h.8v.8h-.8zM347.7 284.1h.8v.8h-.8zM344.5 284.0h.8v.8h-.8zM352.4 280.7h.8v.8h-.8zM350.0 284.7h.8v.8h-.8zM349.4 280.6h.8v.8h-.8zM349.4 281.3h.8v.8h-.8zM347.3 283.5h.8v.8h-.8zM349.4 281.5h.8v.8h-.8zM346.1 281.6h.8v.8h-.8zM349.7 281.8h.8v.8h-.8zM346.1 284.5h.8v.8h-.8zM346.7 284.2h.8v.8h-.8zM346.0 283.7h.8v.8h-.8zM350.9 282.4h.8v.8h-.8zM347.7 285.0h.8v.8h-.8zM346.3 281.6h.8v.8h-.8zM346.7 281.1h.8v.8h-.8zM349.4 283.8h.8v.8h-.8zM351.0 283.2h.8v.8h-.8zM350.9 283.1h.8v.8h-.8zM348.7 283.9h.8v.8h-.8zM349.8 280.9h.8v.8h-.8zM347.0 284.2h.8v.8h-.8zM344.2 281.4h.8v.8h-.8zM349.4 281.7h.8v.8h-.8zM344.9 284.5h.8v.8h-.8zM355.3 280.4h.8v.8h-.8zM356.1 281.9h.8v.8h-.8zM346.8 285.9h.8v.8h-.8zM355.7 282.2h.8v.8h-.8zM349.5 284.1h.8v.8h-.8zM353.3 279.8h.8v.8h-.8zM359.8 283.5h.8v.8h-.8zM355.5 280.1h.8v.8h-.8zM349.3 284.7h.8v.8h-.8zM349.6 281.0h.8v.8h-.8zM354.3 277.6h.8v.8h-.8zM347.0 285.6h.8v.8h-.8zM344.2 284.2h.8v.8h-.8zM355.2 280.1h.8v.8h-.8zM351.6 283.3h.8v.8h-.8zM348.5 283.5h.8v.8h-.8zM356.6 283.0h.8v.8h-.8zM345.5 284.4h.8v.8h-.8zM344.6 283.6h.8v.8h-.8zM350.7 283.0h.8v.8h-.8zM348.7 282.6h.8v.8h-.8zM346.5 281.7h.8v.8h-.8zM344.9 283.0h.8v.8h-.8zM346.7 282.3h.8v.8h-.8zM349.2 283.3h.8v.8h-.8zM349.4 286.3h.8v.8h-.8zM351.9 282.0h.8v.8h-.8zM356.5 284.4h.8v.8h-.8zM355.2 281.5h.8v.8h-.8zM349.5 283.7h.8v.8h-.8zM344.9 283.1h.8v.8h-.8zM345.8 283.6h.8v.8h-.8zM349.6 281.6h.8v.8h-.8zM347.8 284.2h.8v.8h-.8zM345.5 280.5h.8v.8h-.8zM355.7 283.2h.8v.8h-.8zM356.7 281.6h.8v.8h-.8zM354.8 283.5h.8v.8h-.8zM344.3 280.9h.8v.8h-.8zM350.7 285.3h.8v.8h-.8zM353.5 283.4h.8v.8h-.8zM346.2 285.4h.8v.8h-.8zM354.2 281.2h.8v.8h-.8zM346.7 282.6h.8v.8h-.8zM351.8 282.8h.8v.8h-.8zM352.8 284.0h.8v.8h-.8zM347.9 283.9h.8v.8h-.8zM344.6 282.4h.8v.8h-.8zM351.6 282.7h.8v.8h-.8zM354.8 280.9h.8v.8h-.8zM351.6 282.6h.8v.8h-.8zM356.1 283.4h.8v.8h-.8zM348.9 283.0h.8v.8h-.8zM346.8 281.6h.8v.8h-.8zM351.9 282.6h.8v.8h-.8zM351.0 283.7h.8v.8h-.8zM354.4 281.1h.8v.8h-.8zM344.6 282.6h.8v.8h-.8zM347.9 282.9h.8v.8h-.8zM350.8 282.3h.8v.8h-.8zM358.2 282.5h.8v.8h-.8zM355.1 281.2h.8v.8h-.8zM346.5 284.5h.8v.8h-.8zM349.0 282.5h.8v.8h-.8zM353.5 283.2h.8v.8h-.8zM349.9 283.4h.8v.8h-.8zM353.4 281.2h.8v.8h-.8zM347.1 285.9h.8v.8h-.8zM344.3 284.6h.8v.8h-.8zM346.2 282.8h.8v.8h-.8zM352.2 281.9h.8v.8h-.8zM350.0 284.8h.8v.8h-.8zM346.6 283.3h.8v.8h-.8zM348.5 283.4h.8v.8h-.8zM344.9 282.7h.8v.8h-.8zM357.4 282.3h.8v.8h-.8zM345.6 281.9h.8v.8h-.8zM353.3 280.0h.8v.8h-.8zM356.7 280.8h.8v.8h-.8zM349.2 284.5h.8v.8h-.8zM347.9 283.4h.8v.8h-.8zM344.3 283.8h.8v.8h-.8zM350.9 281.5h.8v.8h-.8zM349.4 285.0h.8v.8h-.8zM356.3 282.8h.8v.8h-.8zM352.8 282.5h.8v.8h-.8zM345.0 281.6h.8v.8h-.8zM346.6 283.1h.8v.8h-.8zM353.0 280.1h.8v.8h-.8zM347.2 282.5h.8v.8h-.8zM345.5 282.4h.8v.8h-.8zM345.4 283.6h.8v.8h-.8zM344.7 285.2h.8v.8h-.8zM353.1 281.7h.8v.8h-.8zM346.9 284.2h.8v.8h-.8zM356.1 280.6h.8v.8h-.8zM351.9 283.4h.8v.8h-.8zM348.5 280.1h.8v.8h-.8zM347.9 285.6h.8v.8h-.8zM348.2 285.3h.8v.8h-.8zM354.3 282.4h.8v.8h-.8zM350.8 285.2h.8v.8h-.8zM346.9 282.7h.8v.8h-.8zM356.5 280.0h.8v.8h-.8zM345.6 281.2h.8v.8h-.8zM359.0 280.7h.8v.8h-.8zM348.3 282.9h.8v.8h-.8zM354.8 282.3h.8v.8h-.8zM355.4 279.0h.8v.8h-.8zM359.2 280.1h.8v.8h-.8zM355.9 282.4h.8v.8h-.8zM352.7 284.9h.8v.8h-.8zM355.6 281.5h.8v.8h-.8zM349.3 279.3h.8v.8h-.8zM347.9 284.3h.8v.8h-.8zM345.5 281.8h.8v.8h-.8zM348.1 282.2h.8v.8h-.8zM349.9 282.1h.8v.8h-.8zM352.7 284.1h.8v.8h-.8zM348.9 284.8h.8v.8h-.8zM353.5 281.3h.8v.8h-.8zM344.7 282.8h.8v.8h-.8zM348.9 280.6h.8v.8h-.8zM352.3 279.5h.8v.8h-.8zM344.4 282.0h.8v.8h-.8zM351.2 281.2h.8v.8h-.8zM345.6 283.1h.8v.8h-.8zM357.2 280.9h.8v.8h-.8zM345.2 284.8h.8v.8h-.8zM344.2 284.6h.8v.8h-.8zM349.1 283.6h.8v.8h-.8zM345.3 281.7h.8v.8h-.8zM344.5 284.5h.8v.8h-.8zM345.5 281.8h.8v.8h-.8zM359.7 281.9h.8v.8h-.8zM350.3 284.4h.8v.8h-.8zM344.2 284.3h.8v.8h-.8zM356.8 283.0h.8v.8h-.8zM347.4 281.4h.8v.8h-.8zM355.9 280.9h.8v.8h-.8zM352.0 280.0h.8v.8h-.8zM351.7 280.9h.8v.8h-.8zM345.5 283.4h.8v.8h-.8zM352.7 281.6h.8v.8h-.8zM346.2 285.2h.8v.8h-.8zM355.3 281.6h.8v.8h-.8zM352.8 280.8h.8v.8h-.8zM352.9 283.6h.8v.8h-.8zM348.4 285.7h.8v.8h-.8zM349.3 284.9h.8v.8h-.8zM348.4 280.7h.8v.8h-.8zM347.4 282.9h.8v.8h-.8zM351.7 283.0h.8v.8h-.8zM357.2 280.8h.8v.8h-.8zM351.3 280.2h.8v.8h-.8zM348.4 282.7h.8v.8h-.8zM351.5 282.1h.8v.8h-.8zM354.3 283.4h.8v.8h-.8zM349.5 282.2h.8v.8h-.8zM345.4 282.1h.8v.8h-.8zM347.2 281.0h.8v.8h-.8zM349.5 283.5h.8v.8h-.8zM354.9 281.5h.8v.8h-.8zM346.8 281.4h.8v.8h-.8zM348.2 285.6h.8v.8h-.8zM358.5 279.2h.8v.8h-.8zM351.4 283.6h.8v.8h-.8zM347.2 282.0h.8v.8h-.8zM350.3 280.8h.8v.8h-.8zM351.4 281.0h.8v.8h-.8zM346.4 282.3h.8v.8h-.8zM352.8 280.9h.8v.8h-.8zM344.5 284.3h.8v.8h-.8zM345.7 279.9h.8v.8h-.8zM353.1 280.9h.8v.8h-.8zM357.6 280.4h.8v.8h-.8zM345.7 283.9h.8v.8h-.8zM347.9 281.5h.8v.8h-.8zM354.8 283.0h.8v.8h-.8zM349.1 284.3h.8v.8h-.8zM359.8 281.3h.8v.8h-.8zM351.0 282.6h.8v.8h-.8zM352.5 281.4h.8v.8h-.8zM354.6 280.7h.8v.8h-.8zM344.8 280.9h.8v.8h-.8zM345.0 281.2h.8v.8h-.8zM349.1 282.2h.8v.8h-.8zM347.8 284.6h.8v.8h-.8zM354.9 279.8h.8v.8h-.8zM347.0 282.1h.8v.8h-.8zM345.1 284.2h.8v.8h-.8zM355.4 281.0h.8v.8h-.8zM357.0 283.4h.8v.8h-.8zM347.6 283.4h.8v.8h-.8zM349.8 282.0h.8v.8h-.8zM345.1 285.2h.8v.8h-.8zM344.8 283.8h.8v.8h-.8zM348.0 281.7h.8v.8h-.8zM349.2 283.7h.8v.8h-.8zM346.9 282.5h.8v.8h-.8zM350.0 283.1h.8v.8h-.8zM348.1 282.3h.8v.8h-.8zM346.0 284.1h.8v.8h-.8zM354.5 280.6h.8v.8h-.8zM350.5 285.9h.8v.8h-.8zM351.3 283.2h.8v.8h-.8zM354.1 278.8h.8v.8h-.8zM350.7 282.5h.8v.8h-.8zM344.4 281.9h.8v.8h-.8zM351.3 281.5h.8v.8h-.8zM354.6 283.0h.8v.8h-.8zM348.2 282.7h.8v.8h-.8zM360.0 277.7h.8v.8h-.8zM348.5 281.6h.8v.8h-.8zM347.2 284.3h.8v.8h-.8zM350.3 281.9h.8v.8h-.8zM348.1 283.8h.8v.8h-.8zM347.1 284.3h.8v.8h-.8zM347.3 282.9h.8v.8h-.8zM344.2 281.4h.8v.8h-.8zM346.6 284.0h.8v.8h-.8zM352.6 280.9h.8v.8h-.8zM359.9 278.3h.8v.8h-.8zM346.0 282.9h.8v.8h-.8zM353.7 281.9h.8v.8h-.8zM350.5 280.7h.8v.8h-.8zM357.8 282.9h.8v.8h-.8zM352.6 282.4h.8v.8h-.8zM344.5 281.0h.8v.8h-.8zM347.4 281.7h.8v.8h-.8zM351.7 280.6h.8v.8h-.8zM348.8 283.1h.8v.8h-.8zM348.3 281.5h.8v.8h-.8zM345.7 283.8h.8v.8h-.8zM347.6 280.8h.8v.8h-.8zM353.9 283.0h.8v.8h-.8zM354.9 282.7h.8v.8h-.8zM347.8 284.4h.8v.8h-.8zM352.7 283.0h.8v.8h-.8zM353.9 282.8h.8v.8h-.8zM349.4 284.1h.8v.8h-.8zM358.4 282.9h.8v.8h-.8zM347.3 285.0h.8v.8h-.8zM359.5 281.0h.8v.8h-.8zM347.2 282.7h.8v.8h-.8zM344.8 285.4h.8v.8h-.8zM345.0 282.4h.8v.8h-.8zM349.8 282.2h.8v.8h-.8zM350.6 282.0h.8v.8h-.8zM344.8 284.4h.8v.8h-.8zM348.8 286.4h.8v.8h-.8zM352.5 283.1h.8v.8h-.8zM344.5 284.7h.8v.8h-.8zM350.3 283.2h.8v.8h-.8zM349.6 281.8h.8v.8h-.8zM351.2 283.9h.8v.8h-.8zM347.4 284.0h.8v.8h-.8zM357.3 279.4h.8v.8h-.8zM344.0 284.4h.8v.8h-.8zM345.0 283.0h.8v.8h-.8zM346.4 280.2h.8v.8h-.8zM350.2 281.3h.8v.8h-.8zM351.9 283.5h.8v.8h-.8zM348.5 280.6h.8v.8h-.8zM345.4 283.8h.8v.8h-.8zM345.1 280.4h.8v.8h-.8zM352.0 284.8h.8v.8h-.8z" fill="#000" fill-opacity="0.92"/>
<rect x="346.4" y="270.6" width="42.0" height="17.19999999999999" fill="none" stroke="#f33" stroke-width="0.9"/>
<rect x="433.6" y="231.5" width="112.0" height="58.30000000000001" fill="none" stroke="#c8c8c8" stroke-width="1.1"/>
<line x1="433.6" y1="231.5" x2="433.6" y2="289.8" stroke="#222" stroke-width="0.9"/>
<line x1="433.6" y1="289.8" x2="545.6" y2="289.8" stroke="#222" stroke-width="1.0"/>
<line x1="432.40000000000003" y1="289.8" x2="433.6" y2="289.8" stroke="#444" stroke-width="0.6"/>
<text x="430.0" y="292.6" font-family="Liberation Serif" font-size="5.8" font-weight="normal" fill="#222" text-anchor="end" textLength="2.5" lengthAdjust="spacingAndGlyphs" stroke="#222" stroke-width="0.08">0</text>
<line x1="432.40000000000003" y1="275.225" x2="433.6" y2="275.225" stroke="#444" stroke-width="0.6"/>
<text x="430.0" y="278.02500000000003" font-family="Liberation Serif" font-size="5.8" font-weight="normal" fill="#222" text-anchor="end" textLength="7.5" lengthAdjust="spacingAndGlyphs" stroke="#222" stroke-width="0.08">173</text>
<line x1="432.40000000000003" y1="260.65" x2="433.6" y2="260.65" stroke="#444" stroke-width="0.6"/>
<text x="430.0" y="263.45" font-family="Liberation Serif" font-size="5.8" font-weight="normal" fill="#222" text-anchor="end" textLength="7.5" lengthAdjust="spacingAndGlyphs" stroke="#222" stroke-width="0.08">345</text>
<line x1="432.40000000000003" y1="246.075" x2="433.6" y2="246.075" stroke="#444" stroke-width="0.6"/>
<text x="430.0" y="248.875" font-family="Liberation Serif" font-size="5.8" font-weight="normal" fill="#222" text-anchor="end" textLength="7.5" lengthAdjust="spacingAndGlyphs" stroke="#222" stroke-width="0.08">518</text>
<line x1="432.40000000000003" y1="231.5" x2="433.6" y2="231.5" stroke="#444" stroke-width="0.6"/>
<text x="430.0" y="234.3" font-family="Liberation Serif" font-size="5.8" font-weight="normal" fill="#222" text-anchor="end" textLength="7.5" lengthAdjust="spacingAndGlyphs" stroke="#222" stroke-width="0.08">690</text>
<line x1="433.6" y1="289.8" x2="433.6" y2="291.0" stroke="#444" stroke-width="0.6"/>
<text x="433.8" y="297.8" font-family="Liberation Serif" font-size="5.8" fill="#222" stroke="#222" stroke-width="0.08" text-anchor="middle">10<tspan font-size="3.4" dy="-2.2">0</tspan></text>
<line x1="461.6" y1="289.8" x2="461.6" y2="291.0" stroke="#444" stroke-width="0.6"/>
<text x="461.8" y="297.8" font-family="Liberation Serif" font-size="5.8" fill="#222" stroke="#222" stroke-width="0.08" text-anchor="middle">10<tspan font-size="3.4" dy="-2.2">1</tspan></text>
<line x1="489.6" y1="289.8" x2="489.6" y2="291.0" stroke="#444" stroke-width="0.6"/>
<text x="489.8" y="297.8" font-family="Liberation Serif" font-size="5.8" fill="#222" stroke="#222" stroke-width="0.08" text-anchor="middle">10<tspan font-size="3.4" dy="-2.2">2</tspan></text>
<line x1="517.6" y1="289.8" x2="517.6" y2="291.0" stroke="#444" stroke-width="0.6"/>
<text x="517.8000000000001" y="297.8" font-family="Liberation Serif" font-size="5.8" fill="#222" stroke="#222" stroke-width="0.08" text-anchor="middle">10<tspan font-size="3.4" dy="-2.2">3</tspan></text>
<text transform="translate(418.90000000000003,260.84999999999997) rotate(-90)" font-family="Liberation Sans" font-size="6.3" fill="#222" stroke="#222" stroke-width="0.05" text-anchor="middle" textLength="16.1" lengthAdjust="spacingAndGlyphs">Count</text>
<text x="488.6" y="303.8" font-family="Liberation Sans" font-size="6.4" font-weight="normal" fill="#222" text-anchor="middle" textLength="15.0" lengthAdjust="spacingAndGlyphs" stroke="#222" stroke-width="0.12">Gal-3</text>
<path d="M433.70,270.52 L434.30,265.38 L434.90,266.48 L435.50,260.42 L436.25,262.53 L437.00,256.82 L437.73,258.43 L438.47,255.42 L439.20,258.03 L439.80,251.65 L440.40,253.63 L441.00,248.22 L441.70,248.77 L442.40,244.29 L443.10,245.41 L443.80,239.89 L444.50,240.62 L445.10,237.48 L445.70,238.49 L446.30,232.93 L446.90,236.93 L447.50,231.97 L448.25,236.13 L449.00,233.03 L449.67,237.48 L450.33,235.75 L451.00,238.61 L451.67,238.03 L452.33,244.38 L453.00,244.97 L453.67,251.96 L454.33,250.38 L455.00,257.05 L455.70,257.79 L456.40,265.34 L457.13,267.04 L457.87,273.56 L458.60,276.01 L459.33,281.32 L460.07,282.32 L460.80,286.99 L461.40,287.20 L462.00,288.82 L462.60,289.80 L463.20,289.80 L463.80,289.80 L464.40,289.80 L465.01,289.80 L465.61,289.80 L466.21,289.80 L466.81,289.80 L467.41,289.80 L468.01,289.80 L468.61,289.80 L469.22,289.80 L469.82,289.80 L470.42,289.80 L471.02,289.80 L471.62,289.80 L472.22,289.80 L472.82,289.80 L473.43,289.80 L474.03,289.80 L474.63,289.80 L475.23,289.80 L475.83,289.80 L476.43,289.80 L477.03,289.80 L477.64,289.80 L478.24,289.80 L478.84,289.80 L479.44,289.80 L480.04,289.80 L480.64,289.80 L481.24,289.80 L481.85,289.80 L482.45,289.80 L483.05,289.80 L483.65,289.80 L484.25,289.80 L484.85,289.80 L485.46,289.80 L486.06,289.80 L486.66,289.80 L487.26,289.80 L487.86,289.80 L488.46,289.80 L489.06,289.80 L489.67,289.80 L490.27,289.80 L490.87,289.80 L491.47,289.80 L492.07,289.80 L492.67,289.80 L493.27,289.80 L493.88,289.80 L494.48,289.80 L495.08,289.80 L495.68,289.80 L496.28,289.80 L496.88,289.80 L497.48,289.80 L498.09,289.80 L498.69,289.80 L499.29,289.80 L499.89,289.80 L500.49,289.80 L501.09,289.80 L501.69,289.80 L502.30,289.80 L502.90,289.80 L503.50,289.80 L504.10,289.80 L504.70,289.80 L505.30,289.80 L505.90,289.80 L506.51,289.80 L507.11,289.80 L507.71,289.80 L508.31,289.80 L508.91,289.80 L509.51,289.80 L510.11,289.80 L510.72,289.80 L511.32,289.80 L511.92,289.80 L512.52,289.80 L513.12,289.80 L513.72,289.80 L514.32,289.80 L514.93,289.80 L515.53,289.80 L516.13,289.80 L516.73,289.80 L517.33,289.80 L517.93,289.80 L518.53,289.80 L519.14,289.80 L519.74,289.80 L520.34,289.80 L520.94,289.80 L521.54,289.80 L522.14,289.80 L522.74,289.80 L523.35,289.80 L523.95,289.80 L524.55,289.80 L525.15,289.80 L525.75,289.80 L526.35,289.80 L526.96,289.80 L527.56,289.80 L528.16,289.80 L528.76,289.80 L529.36,289.80 L529.96,289.80 L530.56,289.80 L531.17,289.80 L531.77,289.80 L532.37,289.80 L532.97,289.80 L533.57,289.80 L534.17,289.80 L534.77,289.80 L535.38,289.80 L535.98,289.80 L536.58,289.80 L537.18,289.80 L537.78,289.80 L538.38,289.80 L538.98,289.80 L539.59,289.80 L540.19,289.80 L540.79,289.80 L541.39,289.80 L541.99,289.80 L542.59,289.80 L543.19,289.80 L543.80,289.80 L544.40,289.80 L545.00,289.80 L545.60,289.80" fill="none" stroke="#111" stroke-width="0.7" stroke-linejoin="round"/>
<path d="M433.70,269.62 L434.30,265.41 L434.90,265.28 L435.50,261.10 L436.25,262.35 L437.00,257.50 L437.73,258.75 L438.47,255.86 L439.20,257.24 L439.80,251.47 L440.40,252.78 L441.00,247.63 L441.70,248.33 L442.40,244.21 L443.10,245.39 L443.80,240.52 L444.50,241.51 L445.10,236.88 L445.70,238.94 L446.30,235.22 L446.90,235.37 L447.50,231.04 L448.25,235.18 L449.00,231.79 L449.67,235.94 L450.33,235.71 L451.00,239.47 L451.67,238.76 L452.33,244.16 L453.00,244.17 L453.67,250.48 L454.33,251.75 L455.00,256.00" fill="none" stroke="#111" stroke-width="0.7" stroke-linejoin="round"/>
<path d="M433.70,286.93 L434.33,285.41 L434.96,286.33 L435.59,285.30 L436.22,285.59 L436.85,284.56 L437.48,285.49 L438.11,284.02 L438.74,285.01 L439.37,283.54 L440.00,284.51 L440.62,282.81 L441.23,284.06 L441.85,282.22 L442.47,283.07 L443.08,281.07 L443.70,281.92 L444.32,280.28 L444.93,281.69 L445.55,279.67 L446.17,280.87 L446.78,278.33 L447.40,280.10 L448.00,277.64 L448.60,278.10 L449.20,275.86 L449.80,277.78 L450.40,275.04 L451.00,275.74 L451.60,274.12 L452.20,275.27 L452.80,272.77 L453.40,274.55 L454.02,270.73 L454.63,271.59 L455.25,268.60 L455.87,269.90 L456.48,266.14 L457.10,268.85 L457.72,264.50 L458.33,266.00 L458.95,261.62 L459.57,263.86 L460.18,258.54 L460.80,260.01 L461.44,256.44 L462.08,257.36 L462.72,252.69 L463.36,253.63 L464.00,249.28 L464.67,251.26 L465.33,245.98 L466.00,247.31 L466.67,243.29 L467.33,245.44 L468.00,241.98 L468.60,243.90 L469.20,240.50 L469.80,241.68 L470.40,237.16 L471.00,241.27 L471.60,238.78 L472.20,242.24 L472.80,239.57 L473.40,241.97 L474.00,238.30 L474.60,243.82 L475.20,241.32 L475.80,244.83 L476.40,242.75 L477.00,245.85 L477.60,243.44 L478.20,248.06 L478.80,247.15 L479.40,251.91 L480.00,249.65 L480.67,255.18 L481.33,253.35 L482.00,258.39 L482.67,256.53 L483.33,262.97 L484.00,262.07 L484.60,266.92 L485.20,265.86 L485.80,270.92 L486.40,270.02 L487.00,273.89 L487.73,273.15 L488.47,276.72 L489.20,277.01 L489.84,279.18 L490.49,278.12 L491.13,280.12 L491.77,278.90 L492.41,281.04 L493.06,280.99 L493.70,282.25 L494.33,281.90 L494.96,283.89 L495.59,283.73 L496.21,285.38 L496.84,284.83 L497.47,286.66 L498.10,286.76 L498.74,288.02 L499.39,287.50 L500.03,288.45 L500.67,288.42 L501.31,289.20 L501.96,289.38 L502.60,289.80 L503.21,289.80 L503.81,289.80 L504.42,289.80 L505.02,289.80 L505.63,289.80 L506.23,289.80 L506.84,289.80 L507.45,289.80 L508.05,289.80 L508.66,289.80 L509.26,289.80 L509.87,289.80 L510.47,289.80 L511.08,289.80 L511.68,289.80 L512.29,289.80 L512.90,289.80 L513.50,289.80 L514.11,289.80 L514.71,289.80 L515.32,289.80 L515.92,289.80 L516.53,289.80 L517.14,289.80 L517.74,289.80 L518.35,289.80 L518.95,289.80 L519.56,289.80 L520.16,289.80 L520.77,289.80 L521.37,289.80 L521.98,289.80 L522.59,289.80 L523.19,289.80 L523.80,289.80 L524.40,289.80 L525.01,289.80 L525.61,289.80 L526.22,289.80 L526.83,289.80 L527.43,289.80 L528.04,289.80 L528.64,289.80 L529.25,289.80 L529.85,289.80 L530.46,289.80 L531.06,289.80 L531.67,289.80 L532.28,289.80 L532.88,289.80 L533.49,289.80 L534.09,289.80 L534.70,289.80 L535.30,289.80 L535.91,289.80 L536.52,289.80 L537.12,289.80 L537.73,289.80 L538.33,289.80 L538.94,289.80 L539.54,289.80 L540.15,289.80 L540.75,289.80 L541.36,289.80 L541.97,289.80 L542.57,289.80 L543.18,289.80 L543.78,289.80 L544.39,289.80 L544.99,289.80 L545.60,289.80" fill="none" stroke="#ff1010" stroke-width="0.7" stroke-linejoin="round"/>
<path d="M433.70,286.42 L434.33,285.81 L434.96,286.06 L435.59,285.35 L436.22,285.63 L436.85,284.72 L437.48,285.34 L438.11,284.31 L438.74,285.09 L439.37,283.96 L440.00,284.45 L440.62,283.47 L441.23,283.78 L441.85,282.63 L442.47,282.71 L443.08,281.69 L443.70,282.08 L444.32,280.63 L444.93,281.11 L445.55,279.70 L446.17,280.48 L446.78,278.51 L447.40,279.32 L448.00,277.51 L448.60,278.39 L449.20,276.40 L449.80,277.43 L450.40,275.55 L451.00,275.75 L451.60,274.11 L452.20,274.56 L452.80,273.05 L453.40,273.28 L454.02,270.88 L454.63,272.04 L455.25,268.90 L455.87,269.96 L456.48,267.34 L457.10,267.56 L457.72,265.08 L458.33,264.78 L458.95,262.85 L459.57,262.80 L460.18,260.00 L460.80,260.54 L461.44,256.64 L462.08,256.13 L462.72,252.42 L463.36,252.77 L464.00,249.04 L464.67,249.67 L465.33,246.83 L466.00,248.11 L466.67,243.64 L467.33,244.78 L468.00,241.33 L468.60,243.73 L469.20,239.84 L469.80,241.38 L470.40,238.10 L471.00,240.24 L471.60,238.35 L472.20,240.22 L472.80,239.07 L473.40,241.22 L474.00,240.21 L474.60,243.42 L475.20,241.75 L475.80,244.92 L476.40,243.33 L477.00,245.51 L477.60,245.30 L478.20,247.97 L478.80,248.06 L479.40,251.02 L480.00,249.77 L480.67,253.22 L481.33,253.11 L482.00,256.00" fill="none" stroke="#ff1010" stroke-width="0.7" stroke-linejoin="round"/>
<text x="540.8000000000001" y="240.5" font-family="Liberation Sans" font-size="6.6" font-weight="normal" fill="#222" text-anchor="end" stroke="#222" stroke-width="0.1" textLength="34.8" lengthAdjust="spacingAndGlyphs">FMO control</text>
<text x="540.8000000000001" y="248.9" font-family="Liberation Sans" font-size="6.6" font-weight="normal" fill="#ff2a2a" text-anchor="end" stroke="#ff2a2a" stroke-width="0.1" textLength="46.9" lengthAdjust="spacingAndGlyphs">Gal-3 expression</text>
</svg>
</body></html>
